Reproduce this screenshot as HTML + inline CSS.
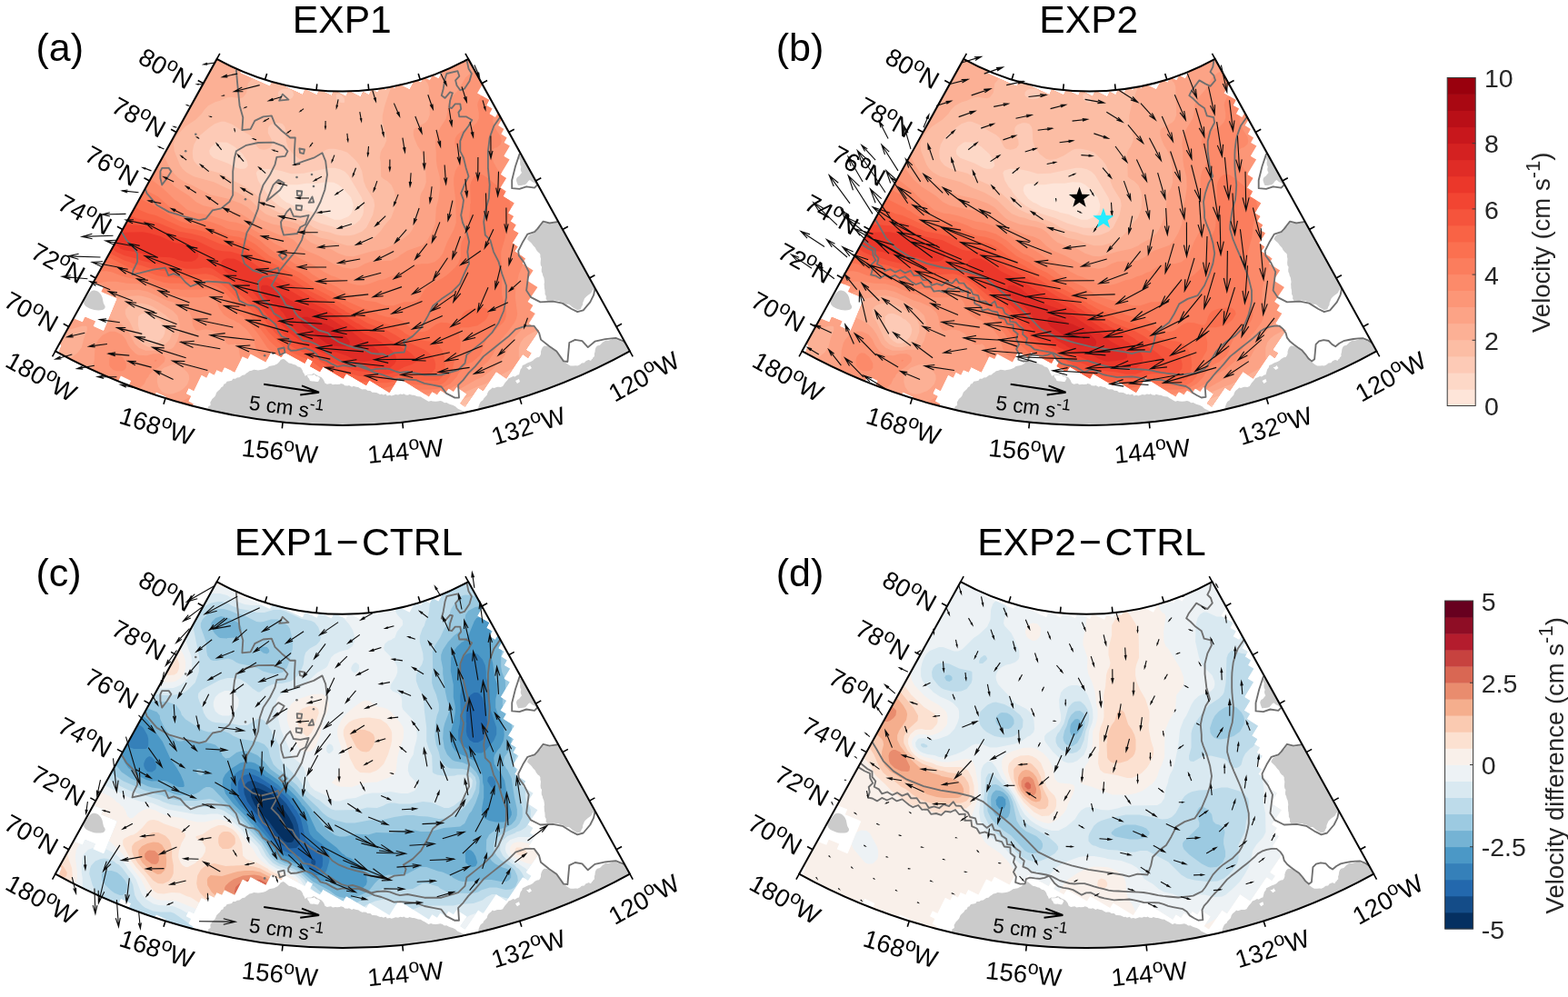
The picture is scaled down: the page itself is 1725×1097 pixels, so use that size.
<!DOCTYPE html>
<html lang="en"><head><meta charset="utf-8"><title>Velocity maps</title>
<style>html,body{margin:0;padding:0;background:#fff}svg{display:block}text{font-family:"Liberation Sans", Arial, Helvetica, sans-serif;fill:#000}</style></head><body>
<svg width="1725" height="1097" viewBox="0 0 1725 1097">
<rect width="1725" height="1097" fill="#fff"/>
<defs>
<clipPath id="fan"><path d="M238.55 64.91A286.0 286.0 0 0 0 515.25 64.91L692.92 386.38A653.3 653.3 0 0 1 60.88 386.38Z"/></clipPath>
<clipPath id="dmask"><path d="M62.1 377.4l5.8 2.2-4.5 11.5 29.7 15.3 36 15.7 3.8-8.5 11.2 5.3-2.5 5.7 16.3 7.3 .2 .5-.5 .7 11.5 3.8 2.3-5 .7-.5 10.8 5.2-2 4.3 29.5 8.5 2.5-5-5.5-3 2.7-5.5-5-2.5-.2-.8 2.7-5.5 5.5 2.8 8.5-17.3 5.5 2.8 3-5.8 5.5 2.8 2.8-5.5 5.7 2.5 2.8-5.5 11.2 5.5 8.5-16.8 .5-.2 5.5 2.7 3-5.5 16.8 8.8 6-11.3 11.2 6 2.8-5.2 .7-.3 21.8 12 .5 0 3-5.5 5.7 3.3-3 5.5 10.8 6.2 3.5-5.5 22.2 12.8 3.3-5.5 22 13 3-4.8 .7-.5 21.8 13.3 10.2-16.3 33.3 21 3.5-5.5 5.5 3.5 3.5-5.2 5.5 3.5 3.5-5.3 5.5 3.5 3.5-5.2 11.2 7.5-7 10.2 0 .5 5 3.3 14.5-21 5.3 3.5 .5-.3 14-20.7 11.2 7.5 17.5-25.8 1-.5 5.3 3.8 3.5-5.3-5-3.2-.5-1 14.2-20.8-11.5-7.7 7-10.8-5.5-3.7 3.3-5.5-5.8-3.8 10.8-16-11.8-7.7 7-10.8-12-7.7 3.5-5.3-12-8 3.5-5.2-6-4 6.8-10.8-6-3.7 3.2-5.5-6-3.8 3.3-5.5-6-3.7 6.7-10.8-12.2-7.7 3.2-5.5-6.2-3.8 6.5-10.7-5.5-3.5-.5-1 9.7-16-5.2-3-1-1 6.5-10.8-6.3-3.7 3-5.5-6.2-4 3-5.5-6.3-3.8 5.5-9.2-2-3.5-3-1.8-.7 .3-3 5-6.3-3.5-.2-.5 3-5.5-6.3-3.5 3-5.8-13-7.5 6.5-11.2 .3-1.3-16.3-28.7-14.5 7.7-11.7 5.3-7 12.2-6.5-3.5-3 5.5-6.5-3.5-3.3 5.8-6.5-3.5-6 11.2-13.2-6.7-3 5.5-6.5-3.3-3 5.5-6.3-3.2-3.2 5.5-6.5-3.3-3 5.8-6.5-3.3-2.8 5.5-13.2-6.5-2.5 5.5-.5 .3-12.5-6.3-.5 0-2.5 5.3-.5 .2-12.8-6.2-3 5.7-13-6.2-2.5 5.5-.5 .2-32.7-15.2-2.8 6-32.7-14.5-.3-1 2-4.3-9.2-4-18.8-9.7-139.2 247.5 0 .5 15 6-2.5 5.7 14.7 6 2.8 1.5-14.5 35-1 .3-11-4.8 2.5-5.7-10.8-4.5-.7 0-2.5 5.7-11.3-4.5-4.5 11.3-.7 .5-4-1.8-.8 .8-3.5 6.2z"/></clipPath>
<g id="land"><path d="M226 455l1.4-2.6 1.2-3.3 .8-2 2.2-1.2-.3-3.3 1-1.5 1.1-2 2.3-2.2 1.2-1.5 .8-2.1 .6-1.6 2-2 1.5-1.2 1.8-2.6 1.7-.6 1.1-2.7 1.6-.4 1.7-2.5 3.1-.4 2.2-.5 1.3-2.1 2.7 .1 1.8-1.3 2.5-.3 1.8-1.1 1.7-1.4 2.3-.1 2.1-2.1 1.4-.7 1.8-1.6 2.5-.5 2.3-1 2.2 .3 2.6 .4 2.2-.4 1.7-.2 2.5-.6 1.9-.7 2.1-1.1 1.7-1.3 3.8-.9 1.6-.1 2.2-1.2 1.8-.8 2.2-2.5 1-1.5 2.8-1.2 1.6 .6 2.3 2.1 2.4 2 2.8 .5 2.4 1 2.2 .4 2.5 2 1.7 .2 1.7 1 1.7 2.7 .8 2.5 1.1 1.3 .9 2.5 2.4-1.3 1.6 .2 3.3-.3 1.8-1.6 2.9 1.2 .9 1 3.7 1.7 1.5 .6 1.5 1.8 1 1.4 1.3 3.2 2.3 1.2 2.5-.6 1.8-.2 1.9 1.2 3.1-.4 1.5 .3 3.5-.4 .7-.7 3 .8 1.5 1.4 3.1 .3 1.6-.4 3.2 1.7 1.6-1 3.2 1 2.1 .3 1.8 1.2 2.5 1.3 2.2-.3 2.2 .3 1.4 1.1 3.2 .2 2.1 1.8 1.5 .1 3 .2 .8 .2 3.3 1.7 2-.4 1.4 1 3.2-.9 1 1.8 3.3-.6 1.6 .8 1.9-.5 2.7-1 2.8 .4 2.2-.9 2.6 .5 1.4-.8 2 1.2 2.9 .3 1.1-1 3.5 .9 1.8 .1 3.1 1.1 1.4 .4 2.9 .3 1.7 1.1 3 1.7 .8 .5 3.1 1.8 2.6-.8 1.9 .7 3.1 .2 2.8-.3 2.6-.4 2.3 .6 2.1 1.5 2.4-.1 2.7 1.4 3 1 1.1 .3 2.9 1.4 2.4 2.3 1.9 .9 1.9 .8 2.2 1.1 2.6 2.7 0 25-286 0zM525 456l.3-2.5 .7-2.6 .3-1.6 .2-2 1.1-3.1 1.2-2.1 2.8-2.1 .2-1.1 2.2-2.3 1.7-1.8 .6-2.4 1.4-2.4 2.8-2.3 1.2-1.3 1.9 .6 3.5-1.2 1.9 0 1.8 .1 2.3-.9 1-1.6 1.4-2.1 2.7-3 1.3-2.1 2.6-.9 2.5-1.4 1.8 .6 3.1-1.9 1.5-.3 .5-1.8 1.1-4.1 1.6-2 .6-2.4 2.7-1.1 1.9-1.2 2.3-1 1.7-.5 2.8-1.5 1.8-1.8 2.8-1.7 2.2-.2 1.4-2 .7-2.1-.1-1.9 .8-2.7 1.2-2.3 1.8-1.4 3.2 .2 2.3 1.1 2.1 1.7 2.6-.1 1.5 2.1 1.8 1 1.6 2 1.1 2.5 1.1 1.3 1.7 1.1 .8 1.9 1.4 2.6 1.2 .2 2.1 1.5 2.4 1.8 1.9 1 3.1 0 2.7-.2 1.9 .2 2.7-1.2 2-1.8 2.8-.3 1.4-1.8 1.9-.8 4.1-1.7 1.7 0 .3-1.7 .1-2.1 1.6-2.2 .6-1.7 .3-2.8 .9-2.3 1.4-1.5 2.9-.8 3.2-3.2 1.4-.9 1.7-1.3 2.9 .4 3.2-1 2.4-1.5 2.6 .2 1.8 1.8 2.9 .1 .9 1.6 2.4 .3 2.2 .7 1.5 1.2 2.4 1.6 1.4 2 2.4 1.4 2.8 1.7 1.9 1.1 0 94-175 0zM620 240l-2.6 1.2-1.8 1.5-2.7 1.5-3.2 1.3-2.9 .7-2.2 .3-2.6-.6-1.5-.5-2.9-.4-1.3 1.9-1.4 2.3-2.1 1.2-1.6 2.5-3.1 3.1-2.2 1-2.1 1-1.8 1-1.3 2-.7 2 1.7 1.9 1.9 1.7 1.4 1.4 1.6 2.3 2.2 2.2 1.2 2.5 1.8 2.3 1.6 1.1 1 1.6 0 2.5 .6 2.3-.2 2.3-.2 2.1 .3 2.9 1.2 1.7-.4 2.8 .1 2.5 1 2 .3 1.8 1.2 2.6 .4 2.4 .3 2.6-.4 1.9 .2 2.1 .1 2.8 .4 1.2 .3 3.2-.1 1.7 1.3 2.6-.2 2.8 1.4 2.2 3.1 .3 2-.4 2.9-.4 2.7 .5 2.2 0 1.6 1.2 2.5 0 1.9 1.7 2.1 .8 2.8 0 1.8 1.3 1.8 1.7 2 1.4 1.8 1 2.1 1.2 3.7-1.3 .5-1.9 1.5-2.6 .2-2.6 1.1-2.5 .7-1.9 1.9-1.9 1.7-1.6 2.5-1.8 1.5-1.2 .9-2.3 1.5-1.4 1.7-.2 3.2 .5 1.8-.6 2.3 0zM580 168l-1.7 1-2.5 1.2-2.7 1.2-1.6 .6-.3 2.4 1.2 2.4-.3 2.3 .2 2.5 1 2-.6 2.5 .3 1.9 1 2-1 1.3-2 2.4-1.9 1.2-1.1 2.1 .1 1.9 .8 2.5 1.1 2.6 3-.1 2.6-.4 2.4-.5 2-2.1 1.4-1.8 1.6-1.1 2.3 2.1 2.3 1 2.4 1.9 2-2 2.4-.5 3.4 .4 2.2-.9zM101 320l1.6-.4 1.6 0 1.7 .4 1.5 .6 1.3 .9 1.2 1.2 1.1 1.4 .9 1.6 .7 1.8 .4 2.1 .4 2 .4 1.8 .6 1.4 .7 1.1 .5 1 .1 1-.3 .9-.6 .9-1 .8-1.3 .5-1.8 .3-2.3 .1-2.4-.1-2.4-.3-2.4-.7-2.4-.9-2.3-1.1-1.8-1.1-1.2-1.2-.9-1.2-.4-1.3-.1-1.4 .5-1.5 .9-1.7 1.2-1.6 1.2-1.6 1.2-1.6 1.2-1.7 1.3-1.4z" fill="#cbcbcb"/><path d="M579 404l2.4-.2 1.6-1.8 2 3-3 2-3-3zM567 419l2.4-1.3 1.6-.7 1 3-3 2-2-3zM630 377l2.2 0 2.8-.4 2-.6 .4 1.8 1.1 2.6 .5 2.2 .4 2.8-.4 2.6-.1 1.6-1.2 2.8-.2 3.1-1 2.4-.5 2.1-1.7-.2-3.3 1.2 .3-1.9 .3-2.9 .6-2.2 .2-1.8-.4-2.2-1-2.1-.5-2.6 .5-2.5-.1-3.4-.9-2.4zM645 383l2.1-1 2.4-.1 3.5-.9-.5 1.7 .5 2.5 .9 2.3-.1 1.6 .2 2.9-2.3 2-1.7 3-2.6-1.3-3.4 .3 .4-2.3 0-3.6-.2-2.3 .2-2.6 .6-2.2zM338 413l3.4 .1 2.6-.4 2-.7 1.8 2 2.2 .2 2 1.8-.6 1.6-1.4 2.4-1.7 .1-3.1-.7-1.6 .1-2.6-.5-1-2.5-1.3-1.2-.7-2.3z" fill="#fff"/></g>
<g id="fldA"><rect x="0" y="0" width="760" height="500" fill="#fc9677"/>
<path d="M169.8 397.2l1.4 .6 1.6-1.6-2-.4zM123.8 389.2l-2.6 3-1 3 0 6.6 1 2 3 3 4 1.4 6 0 2.6-1 2-2.4 0-5-4-7-5-4-3.6-.6zM540.8 107.2l-1-1-1.6 0-1.4-2-1.6 0-.4-1-3 1-3.6 3-2.4 5-.6 3.6 1.6 8.4 0 6-2 4.6-5 5-12 4.4-5 4.6-2 3.4-.6 5 1 3.6 5.6 8.4 1 3.6-.6 4.4-6.4 11-1.6 7.6 0 8 2 16 .6 25-2.6 8-7 13-5 13-4 5.4-5 4-7.4 2-7 0-7 1-4 1.6-10 6.4-2.6 .6-5.4 3-5.6 1.4-6.4 3-6 1-10.6 4-6.4 1.6-6.6 0-8-2-16-7-5-1.6-8.4-4.4-9.6-6.6-17.4-8.4-10.6-7.6-17.4-9-2.6-2.4-7.4-5-20-11.6-11-3.4-7.6-1-20-6.6-9.4-2-6-.4-11-4-11.6-10-2-1-12.4-12-9.6-7.6-11-7 0 1.6-2 1.4 0 1.6-1 .4-1 3.6-2 1.4 0 1.6-1 .4 0 1.6-1 .4-1 3.6-2 1.4 0 1.6-1 .4-1 3.6-2 1.4 0 1.6-1 .4 0 1.6-1 .4-1 3.6-2 1.4 0 1.6-1 .4-1 3.6-2 1.4 0 1.6-1 .4 0 1.6-1 .4-1 3.6-2 1.4 0 1.6-1 .4-1 3.6-2 1.4 0 1.6-1 .4 0 1.6-1 .4-1 3.6-2 1.4 0 1.6-1 .4-1 3.6-2 1.4 0 1.6-1 .4 0 1.6-1 .4-1 3.6-2 1.4 0 1.6-1 .4-1 3.6-2 1.4 0 1.6-1 .4 0 1.6-1 .4-1 3.6-2 1.4 0 1.6-1 .4-1 3.6-2 1.4 0 1.6-1 .4 0 1.6-1 .4 0 1.6-1 .4 0 7.6 2.6 0 .4 1 1.6 0 .4 1 1 0 7.6-3.6 8.4-1.4 9.6 0 12.4 2 12.6 .4 11 3 7 3.6 4 1 6.4 3 11.6 2.4 13.4 2 13.6 0 9-1.4 6 2 4 5 2.4 6.4 5 7 6.6 4.6 4.4 1.4 3.6 2.6 2 .4 9 8 7 9.6 2.4 9.4 3 6 4.6 3.6 2 .4 2 2 1.4 .6 3 3 .6 0 0-1.6 1-.4 0-1.6 1.4-1.4 1.6 0 1.4 2 1.6 0 .4 1 7.6 0 1-1 0-1.6 1-.4 .4 1 1.6 0 .4 1 1.6 0 .4 1 3.6 1 1.4 2 1.6 0 .4 1 1.6 0 .4 1 1.6 0 .4 1 7.6 0 .4 4 1 1 1.6 0 1.4 2 1.6 0 .4 1 1.6 0 .4 1 1.6 0 .4 1 7.6 0 .4-2 2.6 0 .4 1 1.6 0 1.4 2 1.6 0 .4 1 3.6 1 1.4 2 1.6 0 .4 1 1.6 0 .4 1 7.6 0 1.4-2 1.6 0 .4 1 1.6 0 1.4 2 3.6 1 1.4 2 3.6 1 1.4 2 1.6 0 .4 1 6.6 0 1.4-2 2.6 0 1.4 2 3.6 1 1.4 2 3.6 1 1.4 2 1.6 0 .4 1 1.6 0 .4 1 6.6 0 1-1 0-1.6 1-.4 0-1.6 2-1.4 1-3.6 2-1.4 .4-2 2.6 0 1.4 2 1.6 0 1.4 2 3.6 1 1.4 2 1.6 0 1.4 2 3.6 1 1.4 2 8.6 0 19.4-3.6 7.6-2.4 8-4.6 14-11.4 10-5.6 10-8.4 5.4-7.6 4.6-9.4 5.4-8.6 2-1.4 .6-1.6 3-3 8.4-11.4 2-4.6 1-5-2.4-18 .4-9 3.6-16.4 4.4-11 .6-8-2-6.6-2-.4 1-1-1-6-2-2 0-2.6 1-.4 0-6 1-3 0-2.6-2-.4 1-1 0-6.6-1.6 0-1.4-1.4 0-7.6-3-1.4 0-1.6 1-.4 1-3.6 2-1.4 0-6.6-1.6 0-1.4-2-1.6 0-.4-1-1.6 0-1.4-2-2-.4 1-1 0-6.6-1.6 0-1.4-1.4 0-2.6 1-.4 0-1.6 2-1.4 0-5.6-7-3-5.6-5-4.4-8-.6-2.4-2.4-5 0-4.6 4.4-3.4 2.6-.6 4-3.4 1-3.6-1-5-5-7.4-3.6-8.6 0-7.4 2.6-6.6 0-4-1.6 0-.4-1-2-.4z" fill="#fc8a6a"/>
<path d="M561.8 226.2l-2-7.4-5-7.6-17-14.4-6-4-3-1-4 .4-4 3-2.6 5-1 4 .6 19.6-.6 .4 0 7.6-.4 .4-1 16-1 4.6-7 13.4-1 5.6 0 10.4-2.6 7.6-3.4 4.4-8.6 8-6.4 4.6-10 4.4-6 4.6-3.6 4.4-4 7-4 3.6-5 1.4-8.4 0-11.6 4-8.4 0-5.6-1.4-5.4-2.6-11.6-1.4-13-4-8-4-2-2-3.4-1.6-5-3.4-19-9-7.6-4.6-7-5.4-13-6.6-9.4-6.4-7-3.6-3.6-1-11.4-8.4-6.6-6-12.4-7.6-11.6-3.4-6-.6-7.4-2-5.6-3-12.4-4.4-18.6-2.6-9-2-6.4-4-2.6-2.4-8-5.6-12.4-11-12.6-6.4-8-6 0 1-1 .4 0 1.6-1 .4 0 1.6-1 .4 0 1.6-2 1.4 0 1.6-1 .4-1 3.6-2 1.4 0 1.6-1 .4 0 1.6-1 .4-1 3.6-2 1.4 0 1.6-1 .4-1 3.6-2 1.4 0 1.6-1 .4 0 1.6-1 .4-1 3.6-2 1.4 0 1.6-1 .4-1 3.6-2 1.4 0 1.6-1 .4 0 1.6-1 .4-1 3.6-2 1.4 0 1.6-1 .4-1 3.6-2 1.4 0 1.6-1 .4 0 1.6-1 .4-1 3.6-2 1.4 0 1.6-1 .4-1 3.6-2 1.4 0 1.6-1 .4 0 1.6-1 .4-1 3.6-2 1.4 0 1.6-1 .4 0 1.6-1 .4 0 1.6-1 1 17-.6 5.6 1 10 4 11 3 7 .6 7.4 1.4 17.6 7 13.4 3 8 0 .6 .6 34.4-.6 5.6 2 5.4 5 10.6 13.6 10.4 8 2.6 1 5 4.4 12 15 10 15 14 13.6 5 0 1-1 0-1.6 1-.4 .4 1 1.6 0 .4 1 1.6 0 .4 1 3.6 1 1.4 2 1.6 0 .4 1 1.6 0 .4 1 1.6 0 .4 1 7.6 0 .4 4 1 1 1.6 0 1.4 2 1.6 0 .4 1 1.6 0 .4 1 1.6 0 .4 1 7.6 0 .4-2 2.6 0 .4 1 1.6 0 1.4 2 1.6 0 .4 1 3.6 1 1.4 2 1.6 0 .4 1 1.6 0 .4 1 7.6 0 1.4-2 1.6 0 .4 1 1.6 0 1.4 2 3.6 1 1.4 2 3.6 1 1.4 2 1.6 0 .4 1 6.6 0 1.4-2 2.6 0 1.4 2 3.6 1 1.4 2 3.6 1 1.4 2 6.6-1 6.4-2 1.6-1 0-1.6 1-.4 0-1.6 2-1.4 .4-2 2.6 0 1.4 2 1.6 0 1.4 2 1.6 0 .4 1 1.6 0 1.4 1 9.6 1 12 0 8.4-1 6.6-1.6 7.4-4 7.6-8 1-2.4 6.4-8 5-3.6 4.6-2 8-7 3-5.4 1-5 4.4-9 18-17.6 1.6-3 1-3.4 0-6.6-4.6-17 0-30-1-8.4 0-8.6 4.6-16 1.4-13 3-13.4 1-2z" fill="#fb7d5d"/>
<path d="M106.2 287.2l1 1 7 .6 8.6 2 14 7.4 12.4 3.6 12.6 2.4 4 2 14 4.6 8 1 11.4 0 .6 .4 30 0 8 2.6 7.4 5 14.6 15.4 15.4 12 21 27.6 17 16 8 4.4 16.6 6.6 8 5.4 5 4.6 5 0 .4-2 2.6 0 .4 1 1.6 0 1.4 2 1.6 0 .4 1 3.6 1 1.4 2 1.6 0 .4 1 1.6 0 .4 1 7.6 0 1.4-2 1.6 0 .4 1 1.6 0 1.4 2 3.6 1 1.4 2 3.6 1 1.4 2 1.6 0 .4 1 6.6 0 1.4-2 2.6 0 1.4 2 11.6 0 15-3.6 1.4-1.4 3 .4 5.6-.4 8.4 1.4 12.6 .6 .4 .4 13.6-.4 4-1.6 3.4-2.4 4.6-5.6 3-8 2.4-10.4 6-10 .6-9-1.6-7 0-6.6 1-2 1.6-1 8 0 9.4-2 7.6-5 2.4-2.4 3-5.6-1-3.4-3.4-3-5-.6-10 1.6-6.6 2.4-3 3-2 4-1.4 5.6-2.6 3-2.4 0-8.6-2.6-7-.4-5.4 2-8.6 6.4-4 1.6-6 .4-5-1.4-7.4-5-2-2.6-4-3-4-2-4.6-1.4-8.4-1-9.6-2.6-2-1.4-6.4-2-2-1.6-7.6-2.4-18-8-2-2-2.4-1-10.6-7-5-2-2.4-2-12-6-15-10.6-10.6-5-9.4-6.4-14-7-16-13-8.6-5-9.4-3-10.6-1.6-11.4-4.4-5.6-3-9.4-3-17-2-11-3.6-14-8-4-3-3.6-1.4-2-2-18-9-8-6.6-1 1 0 1.6-1 .4 0 1.6-2 1.4 0 1.6-1 .4 0 1.6-1 .4-1 3.6-2 1.4 0 1.6-1 .4-1 3.6-2 1.4 0 1.6-1 .4 0 1.6-1 .4-1 3.6-2 1.4 0 1.6-1 .4-1 3.6-2 1.4 0 1.6-1 .4 0 1.6-1 .4-1 3.6-2 1.4 0 1.6-1 .4-1 3.6-2 1.4 0 1.6-1 .4 0 1.6-1 .4-1 3.6-2 1.4 0 1.6-1 .4-1 3.6-2 1.4 0 1.6-1 .4 0 1.6z" fill="#fb7050"/>
<path d="M110.2 280.2l4.6 2 7.4 2 18 9.6 16 4.4 6 1 11 4 11.6 2 6 0 15 2 24.4 0 4 1 8.6 4 7 5.6 10.4 10.4 12.6 10.6 2 1 4.4 4.4 16.6 21.6 16.4 16.4 7.6 5 23.4 10.6 17 13 8 4.4 11.6 2.6 2 0 .4-1 1.6 0 .4 1 1.6 0 .4 1 6.6 1 12.4 .4 7 1 13.6 0 19-4.4 5.4 0 15 2 16 0 1.6-.6 4-4 1-2.4 2-9.6-1-10-2.6-7.4-2-2-.4-1.6-5-4-4.6-1.4-9-1-11.4-3.6-9-5-2-2-8.6-5-26-8.4-11-6-4.4-1.6-9-4.4-5.6-3.6-2-.4-2-2-3.4-1.6-9-6-20-10.4-3.6-3-11-7-6.4-3-8.6-5.6-3.4-1.4-1.6-1.6-14.4-7.4-17-13-6.6-3.6-4-1.4-19.4-4.6-15.6-7-16-4-9.4-1-5-1.4-29-13-7-1.6-11-4.4-7.6-6.6-3-1-1 3.6-2 1.4 0 1.6-1 .4-1 3.6-2 1.4 0 1.6-1 .4 0 1.6-1 .4-1 3.6-2 1.4 0 1.6-1 .4-1 3.6-2 1.4 0 1.6-1 .4 0 1.6-1 .4-1 3.6-2 1.4 0 1.6-1 .4-1 3.6-2 1.4 0 1.6-1 .4 0 1.6-1 .4-1 3.6-2 1.4 0 1.6-1 .4 0 1.6z" fill="#f96345"/>
<path d="M114.2 273.2l0 1.6 6.6 4 16.4 8 5.6 1.4 5.4 2.6 6.6 1 7 2.4 15 3.6 16.4 1.4 16 3 17.6-1 7 1.6 5.4 2.4 11 7 27 23.6 9.6 10 9.4 13 6.6 7.4 9.4 9 11 7.6 19.6 9 3.4 2.4 4.6 2 2 2 5 2.6 1.4 1.4 9.6 5 12 3.6 2.4 0 11.6 3 29 3 7-1 10-3.6 5-1 25 0 4-1 4-4.4 .4-5-1-4.6-2.4-4-4.6-4.4-4.4-3-23-10.6-8.6-5.4-9.4-5-21-8-14-8-10.6-5-1.4-1.6-3.6-1.4-4-3-11-6-1.4-1.6-18.6-9.4-16.4-11-12-6-9-6-11.6-5.6-4-3-2.4-1-2.6-2.4-3-1.6-8.4-6.4-7.6-3.6-21.4-5-18.6-8-14-3.4-12-2-23-9.6-24-5-13-6-2 1 0 1.6-1 .4 0 1.6-1 .4-1 3.6-2 1.4 0 1.6-1 .4-1 3.6-2 1.4 0 1.6-1 .4 0 1.6-1 .4-1 3.6-2 1.4 0 1.6-1 .4-1 3.6-2 1.4 0 1.6-1 .4 0 1.6-1 .4 0 1.6z" fill="#f5543c"/>
<path d="M117.2 267.2l3.6 4.6 7.4 5.4 9 4 12 3 6.6 2.6 15.4 3.4 17.6 1.6 16.4 4 11.6 0 8-1.6 6.4 .6 3 1 23 16 18 15 16 16.4 13 17 8 8 8 6.6 7.6 4.4 18 9 2.4 2 16 8 6.6 2 5 2.6 3 .4 9 3.6 7 1.4 11 1 11.4 2.6 10 0 6.6-2 11-6 9-3 4.4-3 0-2-1-2-5-5-6.4-4.6-1 0-10.6-7-5-2.4-3-2.6-8-4.4-18.4-8-5-3.6-2-.4-11-7-4.6-2-3-2.6-1 0-5.4-4-3.6-1.4-2-2-19-9.6-24-15-4-1.4-16-9.6-13-6.4-19.4-13.6-4.6-2-9.4-2.4-8-.6-8-1.4-21.6-10.6-20-4-19.4-8-18-4-17-1-5.6-1-6 0 0 1.6-1 .4 0 1.6-2 1.4 0 1.6-1 .4 0 1.6-1 .4-1 3.6-2 1.4 0 1.6-1 .4-1 3.6z" fill="#f24532"/>
<path d="M243.8 287.8l-.6 2.4 1 3.6 3 4 4.6 4 9.4 5.4 11.6 8.6 6.4 6.4 9 11 11.6 11 10.4 13.6 9.6 9.4 9 6.6 5.4 2.4 1.6 1.6 4.4 2 4 3 3 1 4.6 3 38.4 15.4 8 1.6 12 .4 7 2 7 .6 5-2 5-4.6 1.6-3 0-4.4-1.6-3.6-4-4.4-11-8.6-3.4-1.4-1.6-1.6-13.4-6-42.6-27-22-10.4-34.4-20.6-21.6-10.4-17-11.6-5.4-2.4-8-.6-4 1.6zM126.2 261.2l0 4.6 2 4 4.6 4 4 1.4 13 2 16.4 5 21 1 4.6 1 4.4 2 7 1.6 7.6 0 4-1.6 3.4-3.4 0-3.6-1.4-3-3.6-3.4-5.4-3-6-1.6-9.6-1-15-7-12-3.4-8-1.6-22.4 .6-5.6 2z" fill="#eb372a"/>
<path d="M287.2 315.2l-.4 3.6 1 3.4 2 3 4 4 5 3 9 7.6 1.4 2.4 2 1.6 9 14 8 8.4 6 4 4.6 2 2 2 10 5.6 1.4 1.4 11.6 5 7 1.6 11.4 4 6 3.4 5.6 2 3 .6 8-.6 9.4-1.4 4-2 .6-1.6-1-3.4-2.6-3.6-4.4-4-10-5.4-14-11-2.6-1-5.4-4-2-.6-17.6-11.4-13.4-7-17-6-8.6-4-12-7.6-6.4-5.4-8-4-5 0z" fill="#e02c26"/>
<path d="M331.2 350.8l-.4 2 .4 2.4 3 4 12.6 8.6 2 2.4 11 8 5.4 2 8 1 8 0 3-1.4 .6-3.6-1.6-3-5.4-5.4-6-4-3.6-1.6-1.4-1.4-8-4-6.6-2-2-1.6-6.4-2-5-2.4-5.6 0z" fill="#d42121"/>
<path d="M475.8 437.2l-5 1.6-2.6 0 7.6 0zM591.8 342.2l-1-1-2 .6-2 4.4-4 6-18 20.6-10 19-3.6 5-10.4 10.4-10 7.6-6 2.4-24 13.6-9.6 3-14.4 3 .4 1 6.6 0 1.4-3 1 1 6.6 0 1.4-2 7.6 0 1.4-2 1.6 0 1.4 2 1.6 0 .4 1-2 1.4 0 1.6-2 1.4 0 8.6 1.6 0 1.4 2 8.6 0 0-1.6 2-1.4 0-1.6 2-1.4 0-1.6 2-1.4 0-1.6 2-1.4 0-1.6 2-1.4 0-1.6 1.4-1.4 1 1 6.6 0 1-1 0-1.6 2-1.4 0-1.6 2-1.4 0-1.6 2-1.4 0-1.6 2-1.4 0-1.6 2-1.4 .4-2 3.6 1 1.4 2 1.6 0 .4 1 7.6 0 0-1.6 3-2.4 0-1.6 2-1.4 0-1.6 2-1.4 0-1.6 2-1.4 0-1.6 2-1.4 0-1.6 2-1.4 0-1.6 2.4-2.4 1 1 6.6 0 2-2 0-1.6 1-.4 0-7.6-2-1.4 0-1.6 2-1.4 0-1.6 3-2.4 0-1.6 2-1.4 0-1.6 2-1.4 0-1.6 2-1.4 0-7.6-1-1-1.6 0-1.4-2-1.6 0-2.4-2.4 0-1.6 2-1.4 0-1.6 2-1.4zM59.2 373.2l0 7.6 3 .4 0 3.6-1 .4 0 1.6-1 .4 0 6.6 1 1 1.6 0 .4 1 3.6 1 1.4 2 1.6 0 .4 1 1.6 0 .4 1 1.6 0 .4 1 1.6 0 .4 1 1.6 0 .4 1 1.6 0 .4 1 1.6 0 .4 1 1.6 0 .4 1 1.6 0 .4 1 1.6 0 .4 1 1.6 0 .4 1 1.6 0 .4 1 2.6 0 .4 1 1.6 0 .4 1 1.6 0 .4 1 1.6 0 .4 1 1.6 0-.6-10 1.6-8.6 .4-10.4 2-8 2-4 4.6-5 8-4 6 0 7.4 3.4 4 5 2.6 6 3 4.6 5 5 3.4 2 9 .4 7.6-2 7 0 3.4 1.6 2.6 3-1 4.4-6 5.6-6 4-4.6 4.4-1 2.6-2 2-2.4 5.4-5.6 5.6-6 4 1.6 0 .4 1 1.6 0 .4 1 2.6 0 2.4 3 1.6 0 .4 1 2.6 0 .4 1 2.6 0 .4 1 7.6 0 1-1 0-1.6 2-.4 .4 1 1.6 0 1.4 1.4 0 4.6 1.6 0 .4 1 2.6 0 .4 1 2.6 0 .4 1 3.6 0 .4 1 4-.6 2-2.4 4.6-3.6 12-6.4 .4-2 2.6 0 7.4-15 7.6 0 0-1.6 1.4-1.4 6.6 0 1.4-3 7.6 0 .4-2 2.6 0 .4 1 1.6 0 .4 1 8.6 0 0-1.6 1-.4 0-1.6 1-.4 0-1.6 1-.4 0-1.6 1-.4 0-1.6 1-.4 .4-2-3.4-8.6-1-7-1.6-4-2.4-2-2.6 1-1-.4-3.4 .4-2-1-10-11-6-3.4-7.6-1.6-7.4 1.6-3.6-.6-3-5-1.4-9.4-2-4.6-6.6-6.4-11-5-7-2-22-10-9.4-2-28.6 1-7 1.4-8 3.6 1.6 0 .4 1 2.6 0 .4 1 1.6 0 .4 1 2.6 0 .4 1 1.6 0 .4 1 2 .4 0 3.6-1 .4 0 1.6-1 .4 0 1.6-1 .4 0 2.6-1 .4 0 1.6-1 .4 0 2.6-1 .4 0 1.6-1 .4 0 1.6-1 .4 0 2.6-1 .4 0 1.6-1 .4 0 2.6-1.4 1.4-1-1-1.6 0-1.4-1.4 0-6.6-1.6 0-.4-1-1.6 0-.4-1-2.6 0-.4-1-1.6 0-.4-1-8.6 0 0 1.6-1.4 1.4-1.6 0-.4-1-2.6 0-.4-1-7.6 0 0 1.6-1 .4 0 2.6-1 .4 0 2.6-1 .4 0 1.6-.4 .4-5.6 0-1 1-1 3.6-2 1.4 0 2.6-1 .4 0 1.6-1 .4 0 2.6-1 .4 0 1.6zM170.2 173.2l-.4 2.6 2.4 7 11.6 15 9 8 15 9.4 8 7 8 4 20.4 4.6 10.6 1.4 11 3.6 7.4 4.4 7 5.6 11 6 15.6 6.4 8.4 2 7.6 3.6 6.4 6.4 7.6 5.6 13.4 5.4 17.6 9.6 9.4 3.4 9.6 1.6 7.4-1.6 7-4 7-2.4 22-1 8-4 2-2 8-5 17-6 4-4 5.6-9.6 4-10 1-17.4 2.4-9 2-13.6-.4-11.4-3-11.6-1-8 0-8-1-9 1-8 4.4-9.4 6.6-10.6 1.4-6.4 .6-8.6 3-6.4 9-10.6 7-12.4 6-5.6 10-4.4 0-1.6-1-.4-1-3.6-2-1.4 0-1.6-1-.4-1-3.6-2-1.4-1-3.6-6.6 0-.4 1-1.6 0-1.4 2-1.6 0-.4 1-1.6 0-.4 1-1.6 0-.4 1-1.6 0-.4 1-1.6 0-.4 1-1.6 0-.4 1-1.6 0-.4 1-1.6 0-.4 1-2.6 0-.4 1-3.6 1-1 1 0 1.6-1 .4 0 1.6-1 .4 0 1.6-1 .4 0 1.6-1.4 1.4-1-1-6.6 0-1.4 3-1.6 0-.4-1-6.6 0-1.4 3-1.6 0-.4-1-6.6 0 0 1.6-1 .4 0 1.6-1 .4 0 1.6-1 .4 0 1.6-1.4 1.4-1-1-1.6 0-.4-1-1.6 0-.4-1-1.6 0-.4-1-7.6 0-1.4 3-1-1-6.6 0-1.4 3-1.6 0-.4-1-6.6 0 0 1.6-1.4 1.4-8.6 0-.4 2-8.6 0 0 1.6-1.4 1.4-1.6 0-.4-1-1.6 0-.4-1-1.6 0-.4-1-1.6 0-.4-1-6.6 0 0 1.6-1.4 1.4-1.6 0-.4-1-1.6 0-.4-1-1.6 0-.4-1-1.6 0-.4-1-6.6 0 0 1.6-1 .4-.4 2-1-1-1.6 0-.4-1-1.6 0-.4-1-1.6 0-.4-1-7.6 0 0 1.6-1.4 1.4-1.6 0-.4-1-1.6 0-.4-1-1.6 0-.4-1-1.6 0-.4-1-6.6 0 0 1.6-1 .4 0 1.6-1 .4-.4-1-1.6 0-.4-1-1.6 0-.4-1-1.6 0-.4-1-1.6 0-.4-1-1.6 0-.4-1-2.6 0-.4-1-1.6 0-.4-1-1.6 0-.4-1-1.6 0-.4-1-1.6 0-.4-1-1.6 0-.4-1-2.6 0-.4-1-6.6 0-1.4 3-2.6 0-.4-1-1.6 0-.4-1-1.6 0-.4-1-2.6 0-.4-1-1.6 0-.4-1-1.6 0-.4-1-1.6 0-.4-1-2.6 0-.4-1-1.6 0-.4-1-1.6 0-.4-1-4-1.4 0-5.6-1-1-1.6 0-.4-1-2.6 0-.4-1-1.6 0-.4-1-1.6 0-.4-1-1.6 0-.4-1-1.6 0-.4-1-1.6 0-.4-1-1.6 0-.4-1-1.6 0-.4-1-1.6 0-.4-1-3.6-1-1.4-2-6.6 0-1 1 0 1.6-1 .4 0 1.6-1 .4 0 1.6-1 .4 0 1.6-2 1.4 0 1.6-1 .4-1 3.6-2 1.4 0 1.6-1 .4 0 1.6-1 .4-1 3.6-2 1.4 0 1.6-1 .4-1 3.6-2 1.4 0 1.6-1 .4 0 1.6-1 .4-1 3.6-2 1.4 0 1.6-1 .4-1 3.6-2 1.4 0 1.6-1 .4 0 1.6-1 .4-1 3.6-2 1.4 0 1.6-1 .4-1 3.6-2 1.4 0 1.6-1 .4 0 1.6-1 .4-1 3.6-2 1.4 0 1.6-1 .4-1 3.6-2 1.4 0 1.6-1 .4 0 1.6-1 .4-1 3.6-2 1.4 0 1.6-1 .4-1 3.6-2 1.4 0 1.6-1 .4 0 1.6-1 .4-1 3.6-2 1.4 0 1.6-1 .4-1 3.6-2 1.4 0 1.6z" fill="#fca386"/>
<path d="M545.8 415.8l-12.6 7-7.4 2.4-19.6 8.6 1.6 0 .4 1-2 1.4 0 1.6-2 1.4 0 8.6 1.6 0 1.4 2 8.6 0 0-1.6 2-1.4 0-1.6 2-1.4 0-1.6 2-1.4 0-1.6 2-1.4 0-1.6 2-1.4 0-1.6 1.4-1.4 1 1 6.6 0 1-1 0-1.6 2-1.4 0-1.6 2-1.4 0-1.6 2-1.4 0-1.6 2-1.4 0-1.6 2-1.4zM571.8 401.8l-.6 1-5 1.4-19 10.6 1 1 1.6 0 1.4 2 1.6 0 .4 1 7.6 0 0-1.6 3-2.4 0-1.6 2-1.4 0-1.6 2-1.4 0-1.6 2-1.4 0-1.6 2-1.4zM199.8 403.8l-5.6-2.6-5 0-9 3.6-4.4 4-2.6 5-.4 6 1.4 6 4 5.4 4.6 2 3.4 .6 4-.6 8-3 4-3 4-4.4 2-5.6-.4-4.4-1.6-3zM595.8 363.8l-6.6 .4-8.4 4.6-4.6 3.4-3.4 4.6-2 6 0 9.4 1.4 8.6 1.6-1 0-1.6 2.4-2.4 1 1 6.6 0 2-2 0-1.6 1-.4 0-7.6-2-1.4 0-1.6 2-1.4 0-1.6 3-2.4 0-1.6 2-1.4 0-1.6 2-1.4 0-1.6 2-1.4zM95.8 359.8l-1-1-4.6 0-12.4 3.4-3 0-9.6-2 0 1.6-2 1.4 0 2.6-1 .4 0 1.6-1 .4 0 2.6-1 .4 0 1.6-1 .4 0 7.6 3 .4 0 3.6-1 .4 0 1.6-1 .4 0 6.6 0-2 2-1.6 3 0 2 1 1.6 1.6 0 3.4-2 .6 1.4 2 1.6 0 .4 1 1.6 0 .4 1 1.6 0 1-4 11-9 4-5.6 2.4-9.4 3.6-9.6zM123.2 331.2l0 2.6-1 .4 0 1.6-1 .4 0 1.6-1 .4 0 2.6-1 .4 0 1.6-1 .4 0 2.6-1 .4 0 1.6 2.6 2 5.4 2 8.6 5 5 5 4 6 5.4 10.4 4.6 4.6 7.4 3 10.6 0 6-1 9 0 3-1 2.4-2 4-7 2.6-9.6 0-9-2.6-9-5.4-5.4-16-9.6-8.6-4-9-2.4-4-.6-8.4 .6-14 3zM234.2 59.2l0 1.6-1 .4 0 1.6-1 .4-1 3.6-2 1.4 0 1.6-1 .4-1 3.6-2 1.4 0 1.6-1 .4 0 1.6-1 .4-1 3.6-2 1.4 0 1.6-1 .4-1 3.6-2 1.4 0 1.6-1 .4 0 1.6-1 .4-1 3.6-2 1.4 0 1.6-1 .4-1 3.6-2 1.4 0 1.6-1 .4 0 1.6-1 .4-1 3.6-2 1.4 0 1.6-1 .4-1 3.6-2 1.4 0 1.6-1 .4 0 1.6-1 .4-1 3.6-2 1.4 0 1.6-1 .4-1 3.6-2 1.4 0 1.6-1 .4 0 1.6-1 .4-1 3.6-2 1.4 0 1.6-1 .4-1 3.6-2 1.4 0 1.6-1 .4 0 1.6-1 .4 0 1.6-1 .4 2.6 9.6 6 12 5 7.4 5.4 5.6 8.6 5.4 6.4 2.6 20 10.4 20 4.6 13.6 5 8 4.4 11 11 4.4 3 12 4.6 17.6 3 7 2 5.4 4 6.6 7 5 4 10 4 10 2 10.4 6 8.6 3 8 .4 19.4-5.4 14.6-3 8-3.6 2.4-2 9.6-5 8-6.4 3-4.6 6-13.4 1.4-8 1-14.6 1-3.4 3.6-6 2-6.6-.6-15.4-2-11.6-4-8.4-3-4.6-3.4-8-1-4 0-4.4 1-2 12.4-7 2.6-3 2-5.6-1-31-1.6-4-5-5.4-2-3.6-1.4 3-1.6 0-.4-1-6.6 0 0 1.6-1 .4 0 1.6-1 .4 0 1.6-1 .4 0 1.6-1.4 1.4-1-1-1.6 0-.4-1-1.6 0-.4-1-1.6 0-.4-1-7.6 0-1.4 3-1-1-6.6 0-1.4 3-1.6 0-.4-1-6.6 0 0 1.6-1.4 1.4-8.6 0-.4 2-8.6 0 0 1.6-1.4 1.4-1.6 0-.4-1-1.6 0-.4-1-1.6 0-.4-1-1.6 0-.4-1-6.6 0 0 1.6-1.4 1.4-1.6 0-.4-1-1.6 0-.4-1-1.6 0-.4-1-1.6 0-.4-1-6.6 0 0 1.6-1 .4-.4 2-1-1-1.6 0-.4-1-1.6 0-.4-1-1.6 0-.4-1-7.6 0 0 1.6-1.4 1.4-1.6 0-.4-1-1.6 0-.4-1-1.6 0-.4-1-1.6 0-.4-1-6.6 0 0 1.6-1 .4 0 1.6-1 .4-.4-1-1.6 0-.4-1-1.6 0-.4-1-1.6 0-.4-1-1.6 0-.4-1-1.6 0-.4-1-2.6 0-.4-1-1.6 0-.4-1-1.6 0-.4-1-1.6 0-.4-1-1.6 0-.4-1-1.6 0-.4-1-2.6 0-.4-1-6.6 0-1.4 3-2.6 0-.4-1-1.6 0-.4-1-1.6 0-.4-1-2.6 0-.4-1-1.6 0-.4-1-1.6 0-.4-1-1.6 0-.4-1-2.6 0-.4-1-1.6 0-.4-1-1.6 0-.4-1-4-1.4 0-5.6-1-1-1.6 0-.4-1-2.6 0-.4-1-1.6 0-.4-1-1.6 0-.4-1-1.6 0-.4-1-1.6 0-.4-1-1.6 0-.4-1-1.6 0-.4-1-1.6 0-.4-1-1.6 0-.4-1-3.6-1-1.4-2-6.6 0z" fill="#fcb095"/>
<path d="M525.8 433.8l-9 2.4-7.6 3-5 1 0 7.6 1.6 0 1.4 2 8.6 0 0-1.6 2-1.4 0-1.6 2-1.4 0-1.6 2-1.4 0-1.6 2-1.4 0-1.6 2-1.4zM535.8 431.2l-7.6 1.6 6.6 0zM137.8 340.8l0 4.4 1.4 3.6 3.6 5.4 9.4 20 4.6 4.6 6.4 3 7 .4 4.6-1 7.4-3 4.6-4.4 3-8.6 0-7.4-2.6-6-5-5-14.4-9.6-5-2-6.6-1.4-6 0-4.4 1-4.6 2zM192.8 152.2l-2 6 1 8 6 15 3 4.6 4.4 4 8 4.4 22 6 13.6 6.6 12.4 5 14 8 10.6 10.4 6 5 8.4 3.6 5.6 1 6.4 2.4 6 1 8 2.6 8.6 5 9.4 7.4 8.6 3.6 12.4 2.4 6.6 3 10.4 3 8.6 0 12-3.4 8-4.6 8-8 4-6 7.4-8.4 4-10.6 .6-13.4-1-5-3-7-4.6-4.6-4.4-2.4-2.6-2.6-.4-16-1-4.4 1-6.6 2-4 1.4-1.4 3-7 0-4.6-4.4-16 0-7 2.4-11 5-15 2-4 1-6-6 0-1.4 3-1.6 0-.4-1-6.6 0 0 1.6-1.4 1.4-8.6 0-.4 2-8.6 0 0 1.6-1.4 1.4-1.6 0-.4-1-1.6 0-.4-1-1.6 0-.4-1-1.6 0-.4-1-6.6 0 0 1.6-1.4 1.4-1.6 0-.4-1-1.6 0-.4-1-1.6 0-.4-1-1.6 0-.4-1-6.6 0 0 1.6-1 .4-.4 2-1-1-1.6 0-.4-1-1.6 0-.4-1-1.6 0-.4-1-7.6 0 0 1.6-1.4 1.4-1.6 0-.4-1-1.6 0-.4-1-1.6 0-.4-1-1.6 0-.4-1-6.6 0 0 1.6-1 .4 0 1.6-1 .4-.4-1-1.6 0-.4-1-1.6 0-.4-1-1.6 0-.4-1-1.6 0-.4-1-1.6 0-.4-1-2.6 0-.4-1-1.6 0-.4-1-1.6 0-.4-1-1.6 0-.4-1-1.6 0-.4-1-1.6 0-.4-1-2.6 0-.4-1-6.6 0-1.4 3-2.6 0-.4-1-1.6 0-.4-1-1.6 0-.4-1-2.6 0-.4-1-1.6 0-.4-1-1.6 0-.4-1-1 0-8 8.6-1.6 10.4-4 5-3.4 1-9.6-1.4-4.4 .4-7.6 3.6-5.4 1.4-7.6 4-4.4 4.6-3 4.4-6.6 6.6-11.4 7.4-7.6 8z" fill="#fcbda4"/>
<path d="M519.8 443.8l-14.6 3-1 1 1.6 0 1.4 2 8.6 0 0-1.6 2-1.4 0-1.6zM155.8 345.2l-3.6 3-.4 9 1.4 6 3.6 7.6 4.4 4.4 4.6 2.6 5 0 4-2 4.4-4.6 2-4.4 .6-4.6-2-5.4-5-5-2.6-1-3-2.6-7-3-2.4-.4zM213.2 159.2l-1.4 7.6 .4 7.4 1.6 3.6 4 4.4 6.4 3.6 18.6 5 12.4 7.4 11 5 12.6 8.6 8 7 7.4 8 5 3.4 8.6 4 26 9.6 8.4 4.4 2.6 2 8.4 3.6 9.6 2 7 2.4 6 1 8.4 0 5.6-1 8.4-3.4 5-4.6 7-14 2-10-1-6.4-8.4-13.6-2.6-6.4-2-11.6-3.4-7.4-3.6-4.6-9-8.4-7-2.6-7.4-1.4-5.6 0-3.4 1-10 6.4-8 3.6-5 1-3 0-3.6-1-7-5.6-5.4-7.4-2-6.6-.6-12.4-1-3.6-2.4-3-3.6-1-4 0-5.4 2-2 2-1 2 0 5 4 7.6 .4 5.4-2.4 3.6-3.6 1.4-3.4 .6-4.6-1-2.4-2.6-4.6-9.4-4-3.6-8.4-4.4-9.6-6.6-9-3.4-4 0-7 2.4-6.4 4.6-9.6 8-3.4 4zM370.8 103.2l-1 1 .4 5 4 3.6 4 .4 1-1-.4-4-3.6-4-2-1zM306.2 101.2l-.4 3.6 2.4 2.4 4 1.6 3 .4 4.6-.4 2-1.6 1.4-3-1-3.4-2-2-2.4-1-6 0-3.6 1.4z" fill="#fdcab6"/>
<path d="M398.8 237.2l1-3.4 .4-6.6-1-6-1.4-4-14.6-24.4-4-4-5-2.6-6-1.4-6 0-28.4 6-13.6 .4-10-3-10-2-11-.4-6 2-1.4 2.4 2 8 4.4 7.6 2.6 2.4 1.4 3 7.6 9.6 7.4 6 15.6 8 16 5 14 6 18 5 8 0 11-3.6 6-5zM230.2 165.8l.6 4 4 4 16 6 9.4 5 4 1 4 0 2-.6 2.6-3-1-5-5-8-9-8-8-4.4-9.6-.6-2.4 1-5.6 4.6z" fill="#fdd8c7"/>
<path d="M388.2 230.8l.6-5.6-2.6-8-9-10-5-4-5-2.4-9-.6-8.4 1.6-12.6 0-10 1.4-10 0-3.4-1-4.6 0-2.4 1-2 2-.6 4.6 1.6 4 4 5 5.4 4 3 1 6.6 4 18 5 1.4 1 9.6 2 14 6 7 0 8.4-3.6 3-3z" fill="#fee5d9"/></g>
<g id="ctA" fill="none" stroke="#6f6f6f" stroke-width="1.85" stroke-linejoin="round" stroke-linecap="round"><path d="M612.9 244.2l-8.3 1.3-7-1.9-6.4 8.3-3.1 3.2-7.7 2.5-5.1 8.3-5.1 10.2 .6 5.1 5.8 7.7 5.1 10.2-2.6 20.5 5.1 7.6 10.2 5.1 14.1-.6 10.2 1.9 10.2 6.4 6.4 3.2 6.4-1.9 7.6-9 3.8-7.6 1.3-6.4M571.5 169.6l-4.5 13.4-3.8 15.3 0 8.9 8.3 .7 7.6-2.6 8.9 1.3 3.2-3.2M259.9 77.3l1.3 14.8 2.4 24.1 3.7 13-.9 13.9 9.2-.9 4.7-9.3 9.3-4.6 9.2-.9 3.7 9.2 7.5 7.4 9.2 7.5 5.6 0-.9 14.8 0 14.9 10.2-3.8 11.1-3.7 9.3-5.5 3.7 9.2 1.8 14.9-2.7 16.7-4.7 13-5.6 11.1-6.5 9.9-4.8 8.1-3.7 13-7.4 13-9.3 11.1-7.4 9.3-9.3 16.7 7.4 7.4 5.6 8.4 2.8 5.6 7.4 2.8 2.8 5.5 3.7 4.7 7.5 4.6 7.4 5.6 7.5 4.7 10.2 2.8 4.6 5.5 7.5 4.7 9.3 3.7 9.3 2.8 9.3 1.9 7.4 3.7 6.5 .9 6.5 0 4.9 2.6 7.4-3.7 11.1-.9 1.9-6.5-2.8-4.6 10.2-6.5 9.3-9.3 7.4-13 5.6-11.1 9.2-7.4 11.2-7.5 9.2-9.2 5.6-13 4.6-9.3-1.8-13 1.8-11.1-2.7-11.2-4.4-9.8-1.8-8.2 1.8-9.3 1-7.4-2.8-7.4 3.7-9.3 4.6-9.3-2.8-9.2-2.7-11.2-3.7-7.4 0-11.1 3.7-9.3 5.5-7.4 3.7-6.5-6.5-3.7-7.4 0-.9-4.7 2.8-3.7-.9-5.5-5.6 0-3.7 4.6-2.8-.9 .9-7.4 2.8-8.4-2.8-.9-5.5 6.5-3.8-2.8 1.9-7.4 1.9-11.2 1.8-5.5 12.1-2.8 1.8 5.6-4.2 4.6 1.4 5.6 3.8 5.2 4.6-1.5 5.6-8.4 2.4-8.3-3.4-5.6-1.8-8.3M159.7 207.1l1.8 5.6 11.2 13 13 7.4 18.5 5.6 14.9 3.7 7.4-1.9 7.4-9.2 9.3-1.9 9.2-7.4 3.8-7.4 0-11.2 0-14.8 1.8-14.9 1.9-7.4 11.1-6.5 13-2.8 16.7-.3 11.1 4.1 4.7 5.5-2.8 5.6-9.3 .9-1.9 8.4-5.5 11.1-7.4 11.1-3.8 11.2-1.8 14.8-5.6 14.8-6.9 11.8-2.6 11.8-2.8 13 2.8 9.3 9.3 7.4 9.3 2.8 11.1-2.8 7.4-2.8 1 4.7-2.8 2.8-14.9 2.7-5.5 5.6 .9 11.1 4.6 8.4 6.5 4.6 2.8 4.7 2.8 5.6 6.5 3.7 4.6 4.6 4.7 5.6 5.6 4.7 5.5 5.5 4.7 5.6 7.4 1 6.5 2.7 5.6 3.8 5.6 4.6 5.6 3.7 5.6 3.8 6.5 3.7 6.5 1.8 5.5-.9 6.6 1.9 6.5 2.7 7.4 3.8 6.5-1.4 8.4-.5 5.6 .9 7.4 2.8 3.8 1 8.4-1.2 18.6 3.7 18.5 0 18.6-5.5 7.4-7.4 1.9-9.3 9.2-7.4 9.3-7.5 9.3-9.2 7.4-11.2 5.6-13 2.8-14.8 0-13-4.7-13-3.7-13-5.6-11.1-3.7-13-5.5-5.5-1.6-14.4 1.9-12.9 3.7-13 .9-14.9-1.8-18.5 0-18.6 1.8-14.8 4.7-13 6.5-9.3M133.5 254.8l5.6 9.3 7.4 7.4 4.6 7.5 0 9.2-4.6 9.3-1 4.7 8.4-1.9 14.8-3.7 13-1.9 3.7 8.4 5.6-1.9 7.4 2.8 5.6 6.5 5.6 4.6 7.4-2.7 11.1-2.8 14.9 .9 9.2 .9 7.4 8.4 3.8 11.1 9.2 4.6 7.4 1 4.6 2.8 4.7 7.4 7.4 4.7 6.5 5.6 2.8 7.4 3.8 5.6 7.4 2.8 3.2 2.8-3.2 4.6 0 3.3 2.8 2.3 6.5-.5 9.3-2.3 7.4 2.8 4.7 3.7 4.6 5.6 6.5 1.8 6.5 3.8 5.6 2.7 6.5-1.3 9.3 .9 6.5-.5 7.5 2.8 5.5 1.9 5.6 2.8 7.5 1.8 7.4 2.8 6.5 2.8 6.6-.4 17.7 1.1 9.3 3.7 9.3 1.9 9.2 1.8 5.6 7.4 9.3 4.7 4.6 0-.9-13.9 5.5-5.6 5.6-7.4 7.4-7.4 9.3-11.2 9.3-7.4 9.3-7.4 9.2-7.4 7.5-7.5 11.1-3.7 9.3 0 5.5 7.5 1.9 7.4 9.3 7.4 8 5.5 7.7 10.9 4.4 .6 1.9-21 6.4-3.2 7.7 1.3 6.4 7 7.6-6.4 11.5-2.5 11.5-1.3 8.9 3.8 5.7 5.3M178.2 184.9l7.5 0 2.7 3.7-4.6 7.4-5.6 7.4-1.8-7.4 0-7.4zM307.2 110.7l3.7-7.1 6.5 6.1zM329.4 163.5l5.6 1-1 4.6-4-1.1zM326.7 210l5.5 .5-.7 5-4.5-.5zM339.6 222.9l3.9-6.5 1.7 6.1zM325.7 226l6.5 .5-.7 4.8-5.5-.8zM293.3 221l7.4-17.6 5.6-5.5 6.4 3.7-4.6 7.4-11.1 9.3zM309 244.2l6.5-11.1 3.7-3.7 3.7 8.4 7.5 .9 9.2-1.9-3.6 10.2-5.6 3-3.4 7-15 1.6-2.5-8.6zM307 281l4.5-3.9 3.8 4.4-4.3 4zM306 384l6.5-1.5 1 5.5-5.5 2.3z"/><g fill="#6f6f6f" stroke="none"><circle cx="215.3" cy="147.8" r="1.3"/><circle cx="204.2" cy="166.3" r="1.3"/><circle cx="270" cy="219.2" r="1.3"/><circle cx="326.5" cy="195" r="1.3"/><circle cx="291.2" cy="391.2" r="1.3"/><circle cx="300.5" cy="388.8" r="1.3"/><circle cx="345" cy="205" r="1.3"/><circle cx="343" cy="192" r="1.3"/></g></g><g id="ctB" fill="none" stroke="#6f6f6f" stroke-width="1.85" stroke-linejoin="round" stroke-linecap="round"><path d="M612.9 244.2l-8.3 1.3-7-1.9-6.4 8.3-3.1 3.2-7.7 2.5-5.1 8.3-5.1 10.2 .6 5.1 5.8 7.7 5.1 10.2-2.6 20.5 5.1 7.6 10.2 5.1 14.1-.6 10.2 1.9 10.2 6.4 6.4 3.2 6.4-1.9 7.6-9 3.8-7.6 1.3-6.4M571.5 169.6l-4.5 13.4-3.8 15.3 0 8.9 8.3 .7 7.6-2.6 8.9 1.3 3.2-3.2M140.4 239.8l5.6 9.3 7.4 13 11.1 11.1 14.9 9.3 18.5 7.4 18.6 4.6 18.5 2.8 14.9 3.7 13 5.6 9.2 7.4 11.2 9.3 11.1 9.3 9.3 9.2 9.3 9.3 10.6 11.1 18.6 9.3 18.5 5.6 18.6 4.6 18.5 2.8 18.6 2.8 7.4 1.9 9.3-2.8 11.1 .9 3.7-10.2 1.9-9.3 7.4-7.4 7.4-5.6 5.6-9.3 5.6-11.1 9.2-5.5 11.2-3.8 7.4-11.1 5.5-13 3.8-11.1 1.8-11.1-1.8-11.2-3.8-13-3.7-9.2-1.8-5.6-.1-6.7-1-11.1 1.9-9.3 3.7-11.1 4.6-7.5-3.7-12.9-1.8-14.9 0-11.1 2.8-11.2 4.6-9.2-.9-5.6-7.4-1.8-2.8-8.4-6.5-4.6-5.6-5.6-4.6-3.7 2.8-5.6 8.3-11.1 6.5 3.7 5.6 2.8 5.5-6.5-1.8-5.6-3.7-3.7 2.8-5.5 .9-6M127.4 263.9l4.3 3.4 4.3 3.5 5.2 2.9 0 5.9 3.8 4.7-1.6 6.2 5.1 2.7 3.5 5 6-2 5.2 3.4 5.7-2.6 5.3 3.4 6-2.5 3.8 5.3 6.3-.2 3.5 5.1 6.2 .3 3.5 5.4 5.7-1.7 5.7 1.9 4.8-4 6.1 1.8 4.7-4.8 2.9 4.3 5.5 .4 3 4.4 4.6 2.8 2.4 4.9 5.8 1.4 1.7 6.2 6.2 .2 4.7 4.1 5.6-4.2 2.5 6.4 6.2 1.2 2.3 5.5 4.9 3.2 1 6.1 6.1 .7 3.5 3.9 4.8 3.2-.6 6.2 4.9 4.1-1.4 6.4 5.2 2.3 4 3.6 5.4 1.1 5.5 .9 5.4 1 5.3 1.3 4.9 2.6 4.9 2.6 5.3 1.5 5.3 1.5 5.4 .5 5.5-.4 5.5 0 5.2 1.6 5.3 1.7 5.3 1.5 5.4 1.3 5.3 1.4 5.5 .7 5.5 .2 5.5 .3 5.5 .3 5.5 .3 5.5 .3 5.5 .3 5.4 .9 5.5 1.1 5.4 1.1 5.4 .8 5.5 .6 5.5 .5 5.5 .5 5.5-.6 5.5-.6 5.4-.6 5-2.5 4.9-2.5 3.3-4.2 2.9-4.7 2.9-4.7 2.8-4.7 3.7-4.1 3.9-3.9 4.2-3.5 4.6-3.1 4.6-3 3.9-3.9 3.9-3.9 2.8-4.7 2.1-5.1 2.1-5.1 1.4-5.3 1.3-5.4 .9-5.4 0-5.5 0-5.5-1.3-5.4-1.3-5.3-1.5-5.4-1.9-5.1-1.9-5.2-2-5.1-2.2-5.1-2.2-5.1-2.2-5-2.1-5.1-2.1-5.1-1.5-5.3-1.5-5.3 .1-5.5 .7-5.4 .8-5.5 .9-5.4 1.5-5.3 1.6-5.4 .6-5.4 .4-5.5 .3-5.5-.5-5.5-.6-5.5-.5-5.5-.2-5.5 0-5.5 0-5.5 .2-5.5 .6-5.5 .7-5.5 1.4-5.3 1.8-5.2 2-5.2 3.1-4.5 3.2-4.5M123.7 267.6l4.7 2.8 4.7 2.9 5.5 2.3 .4 5.5 2.9 5.3-4.5 4.4 1 5.6-1.8 6 4.9 .9 5.1 2.9 5.3-3.5 5.6 2.6 5.6-2.5 5.2 3.4 5.9-2 4.2 3.5 3.5 2.9 4.2 2.4 5.8-2.2 4.1 4.8 6.2-.2 3.7 5.2 5.7-.8 5.6 1.9 4.5-4.3 5.8 .9 5.2-2.5 4.1 5 6.7-.4-.4 7.3 7-.2 .7 6.5 5.5 2.3 3 5.3 6-1.4 4.8 2.3 5.7 1 1.9 6 6.1 1.4 2.8 5.4 6.5 .8 .3 6.4 4.8 4-1.6 6 3 5.3-3 5.5 3 5.2-.8 6.2 5.2 1.8 5.3-.3 1.3-5.3 4.1-1.4 5.5 .7 5.5 .5 5.2-1.1 5.1-2.1 2.8 4 3.2 4.4 4.3 3.3 5.2 1.5 5.4 .8 5.2 1.4 4.8 2.8 4.8 2.8 4.9-2.3 4.9-.3 4.9 2.4 4.9 2.5 5.3 1.3 5.4 1 5.4 1 5.5-.3 5.5-.2 5.5-.3 5.4 .8 5.4 1.3 5.3 1.4 5.5 .2 5.5 0 5.5 .1 5.2 1.6 5.1 2 5.4 1.2 5.4 1.1 5.4 1 4.3 2.8 3.3 4.4 4.7 2.8 4.9 2.5 4.8-.6-.4-5.5-.4-5.4 2.2-4.6 3.7-4 3.4-4.4 3.6-4.2 3.8-3.8 3.7-4.1 3.5-4.3 3.6-4.2 4.2-3.5 4.3-3.4 4.3-3.4 4.3-3.5 4.3-3.4 4.3-3.5 4.1-3.6 3.9-3.9 4.6-2.7 5.2-1.8 5.4-1 5.5 0 3.9 3.2 3.1 4.5 1.4 5.3 3.3 4.1 4.3 3.4 4.4 3.3 4.5 3.1 3.6 4.2 3.2 4.4 3.8 3.4 3-2.3 .5-5.5 .5-5.5 .5-5.4 3.5-3.5 5.1-1.3 5.4 .9 3.8 3.9 3.8 2.4 4.2-3.5 4.7-2.6 5.4-1.2 5.4-1 5.5-.6 5.4-.1 5 2.1 4.7 2.9 4 3.7M121 247l3 9-3.5 6 6.5-4-1.5-8 3.5-4"/></g>
<g id="frame"><path d="M238.55 64.91A286.0 286.0 0 0 0 515.25 64.91L692.92 386.38A653.3 653.3 0 0 1 60.88 386.38Z" fill="none" stroke="#000" stroke-width="2" stroke-linejoin="miter"/>
<path d="M75.71 359.55l-5.95 -3.29M678.09 359.55l5.95 -3.29M105.33 305.97l-5.95 -3.29M648.47 305.97l5.95 -3.29M134.89 252.47l-5.95 -3.29M618.91 252.47l5.95 -3.29M164.45 198.99l-5.95 -3.29M589.35 198.99l5.95 -3.29M194.03 145.47l-5.95 -3.29M559.77 145.47l5.95 -3.29M223.69 91.82l-5.95 -3.29M530.11 91.82l5.95 -3.29M238.55 64.91l3.29 -5.95M60.88 386.38l-3.29 5.95M291.58 87.58l2.03 -6.49M182.00 438.15l-2.03 6.49M348.07 99.14l0.69 -6.77M311.04 464.57l-0.69 6.77M405.73 99.14l-0.69 -6.77M442.76 464.57l0.69 6.77M462.22 87.58l-2.03 -6.49M571.80 438.15l2.03 6.49M515.25 64.91l-3.29 -5.95M692.92 386.38l3.29 5.95" fill="none" stroke="#000" stroke-width="1.6"/></g>
</defs>
<g transform="translate(0.0 0.0)">
<g clip-path="url(#fan)">
<g clip-path="url(#dmask)"><use href="#fldA"/></g>
<use href="#land"/>
<use href="#ctA"/>
</g>
<path d="M236.5 69L223.9 70.9M227.9 69.2L223.9 70.9L228.2 71.3M222.5 92.7L216.8 92.7M218.7 92.3L216.8 92.7L218.7 93.2M208.5 116.5L205.9 115.7M206.8 115.8L205.9 115.7L206.7 116.2M194.5 140.3L191.4 139.4M192.5 139.4L191.4 139.4L192.4 139.9M180.5 164.1L174.6 161.4M176.7 161.8L174.6 161.4L176.3 162.8M166.5 187.9L157 184.4M160.4 184.7L157 184.4L159.8 186.3M152.5 211.7L134.4 209.9M140.5 209L134.4 209.9L140.2 212M138.5 235.4L112.2 236M120.8 233.7L112.2 236L120.9 238M124.5 259.2L90.2 260.4M101.4 257.2L90.2 260.4L101.6 262.8M110.5 283L74.7 281.9M86.6 279.3L74.7 281.9L86.4 285.3M96.4 306.8L68.2 304.2M77.8 302.7L68.2 304.2L77.3 307.4M261.2 81.1L244.7 84.7M249.9 82.1L244.7 84.7L250.4 84.9M247.2 104.9L245.5 105.2M246 105L245.5 105.2L246.1 105.2M233.2 128.6L231.3 128.2M232 128.2L231.3 128.2L231.9 128.5M219.2 152.4L216.9 151.1M217.8 151.3L216.9 151.1L217.6 151.7M205.2 176.1L199.3 171.6M201.6 172.6L199.3 171.6L200.9 173.6M191.2 199.9L180.2 194.8M184.3 195.6L180.2 194.8L183.4 197.4M177.2 223.7L163.4 220.9M168.2 220.6L163.4 220.9L167.7 222.9M163.2 247.4L138.3 242M147 241.7L138.3 242L146.1 245.8M149.2 271.2L116 265M127.5 264.3L116 265L126.5 269.8M135.2 295L101.3 288.5M113.1 287.8L101.3 288.5L112 293.4M121.2 318.7L98.8 309.6M106.9 310.8L98.8 309.6L105.4 314.5M93.3 366.3L73.9 370.8M79.9 367.7L73.9 370.8L80.7 370.9M79.3 390L61 395.2M66.6 392L61 395.2L67.4 395M285.7 93.6L257.6 100.7M266.3 96L257.6 100.7L267.4 100.7M271.7 117.4L269.3 118.5M270 117.9L269.3 118.5L270.2 118.3M257.7 141.1L258.3 143.7M257.9 142.9L258.3 143.7L258.3 142.8M243.7 164.8L238.4 158.1M240.7 159.9L238.4 158.1L239.6 160.8M229.7 188.6L220.6 181.3M224.2 183L220.6 181.3L223 184.5M215.8 212.3L204.7 205.1M208.9 206.6L204.7 205.1L207.7 208.4M201.8 236L188.5 229.5M193.4 230.6L188.5 229.5L192.3 232.8M187.8 259.8L159.5 245M170.1 247.6L159.5 245L167.6 252.2M173.8 283.5L141.8 267.9M153.7 270.4L141.8 267.9L151.1 275.7M159.8 307.2L129.7 294.4M140.7 296.2L129.7 294.4L138.6 301.2M145.9 331L119.4 320.7M129 321.9L119.4 320.7L127.3 326.3M131.9 354.7L109.4 351.6M117.1 350.7L109.4 351.6L116.6 354.5M117.9 378.5L97.9 381.1M104.3 378.6L97.9 381.1L104.7 381.9M103.9 402.2L84.7 405.6M90.7 402.9L84.7 405.6L91.3 406.1M310 106.5L295.7 110.8M300.1 108.2L295.7 110.8L300.8 110.5M296 130.2L290.6 133.3M292.1 131.8L290.6 133.3L292.6 132.7M282 153.9L278.6 152.7M279.8 152.8L278.6 152.7L279.6 153.4M268.1 177.6L261.6 170.2M264.3 172.1L261.6 170.2L263.1 173.2M254.1 201.3L243.2 193.9M247.4 195.4L243.2 193.9L246.2 197.2M240.1 225L227.3 216M232.2 217.9L227.3 216L230.8 220M226.2 248.8L203.8 240.5M211.9 241.4L203.8 240.5L210.5 245.1M212.2 272.5L182.6 257.1M193.7 259.7L182.6 257.1L191.1 264.6M198.2 296.2L159.2 281.6M173.3 283.2L159.2 281.6L170.9 289.7M184.2 319.9L150.7 306.8M162.8 308.4L150.7 306.8L160.7 313.9M170.3 343.6L138.7 332M150.1 333.2L138.7 332L148.2 338.4M156.3 367.4L128.6 360.6M138.3 360.5L128.6 360.6L137.2 365.1M142.3 391.1L119.4 389.1M127.1 387.9L119.4 389.1L126.8 391.6M128.4 414.8L107.3 414.6M114.2 413L107.3 414.6L114.2 416.4M334.1 119.6L330.4 122.4M331.4 121.2L330.4 122.4L331.9 121.8M320.2 143.3L316.4 146M317.4 144.8L316.4 146L317.9 145.4M306.2 167L300.5 165.2M302.6 165.4L300.5 165.2L302.3 166.3M292.2 190.7L284.9 184.2M287.9 185.7L284.9 184.2L286.8 186.9M278.3 214.4L265.5 207M270.3 208.4L265.5 207L269.1 210.5M264.3 238.1L245.7 228.9M252.6 230.4L245.7 228.9L251.1 233.5M250.4 261.8L227.3 251.8M235.7 253.2L227.3 251.8L234.1 257M236.4 285.5L206 270.7M217.3 273.1L206 270.7L214.8 278.1M222.4 309.3L187.4 295.3M200.1 297L187.4 295.3L197.8 302.8M208.5 333L174.3 319.9M186.7 321.4L174.3 319.9L184.5 327M194.5 356.7L160.2 343.2M172.6 344.8L160.2 343.2L170.4 350.5M180.5 380.4L148.8 370.4M160.1 371.1L148.8 370.4L158.5 376.3M166.6 404.1L140.9 397.4M149.9 397.5L140.9 397.4L148.8 401.7M152.6 427.8L132.6 423.2M139.6 423L132.6 423.2L138.8 426.3M372.1 109.4L370.2 118.6M370.1 115.4L370.2 118.6L371.6 115.7M358.1 133.1L358 141.2M357.3 138.5L358 141.2L358.7 138.5M344.1 156.8L341.4 160.5M342 159.1L341.4 160.5L342.6 159.5M330.2 180.5L323.3 181.5M325.5 180.6L323.3 181.5L325.7 181.7M316.2 204.2L305.5 201.3M309.3 201.3L305.5 201.3L308.8 203.1M302.3 227.9L286.1 223M291.8 223.3L286.1 223L291 225.9M288.3 251.6L269.8 243.3M276.6 244.5L269.8 243.3L275.2 247.6M274.3 275.3L247.5 265.2M257.2 266.3L247.5 265.2L255.5 270.7M260.4 299L228.5 285.8M240.1 287.5L228.5 285.8L237.9 292.8M246.4 322.7L214.1 309.4M225.9 311.1L214.1 309.4L223.7 316.5M232.5 346.4L194.5 335.4M207.9 335.9L194.5 335.4L206.1 342.1M218.5 370.1L179.7 358.4M193.5 359.1L179.7 358.4L191.5 365.5M204.6 393.8L167.7 382.1M180.8 382.9L167.7 382.1L178.9 389M190.6 417.5L169.8 407.5M177.5 409.1L169.8 407.5L175.9 412.5M409.8 99.5L413.5 111.6M411.3 107.9L413.5 111.6L413.3 107.3M395.8 123.2L397.6 133.3M396.2 130.1L397.6 133.3L397.8 129.9M381.9 146.9L382.8 155.2M381.8 152.6L382.8 155.2L383.2 152.4M367.9 170.6L365.1 177.9M365.4 175.3L365.1 177.9L366.6 175.7M354 194.3L345.7 198.8M348 196.7L345.7 198.8L348.8 198M340 218L326.3 217.8M330.9 216.8L326.3 217.8L330.8 219M326.1 241.7L307 237.9M313.6 237.6L307 237.9L313 240.7M312.1 265.4L287.6 259.8M296.2 259.6L287.6 259.8L295.3 263.7M298.1 289.1L266.6 281.4M277.7 281.3L266.6 281.4L276.4 286.5M284.2 312.8L247.2 303.2M260.2 303.3L247.2 303.2L258.6 309.4M270.2 336.4L231.5 326.7M245.1 326.7L231.5 326.7L243.5 333.1M256.3 360.1L214 351.2M228.7 350.7L214 351.2L227.2 357.7M242.3 383.8L198.8 376.3M213.8 375.2L198.8 376.3L212.5 382.4M228.4 407.5L189.8 397.2M203.4 397.5L189.8 397.2L201.7 403.8M433.4 113.6L439.6 128M436.4 123.8L439.6 128L438.8 122.8M419.4 137.3L422.1 149.3M420.3 145.5L422.1 149.3L422.2 145.1M405.5 161L404.6 171.1M404.1 167.7L404.6 171.1L405.8 167.8M391.5 184.7L388.2 193.5M388.6 190.4L388.2 193.5L390 190.9M377.6 208.4L369.3 213.9M371.6 211.4L369.3 213.9L372.5 212.8M363.6 232.1L349.9 234M354.3 232.2L349.9 234L354.6 234.5M349.7 255.8L328.7 255.6M335.6 253.9L328.7 255.6L335.6 257.4M335.7 279.5L305.8 277.3M315.9 275.6L305.8 277.3L315.5 280.5M321.7 303.2L282.2 296.4M295.8 295.4L282.2 296.4L294.7 301.9M307.8 326.9L256.9 314.1M274.8 314.1L256.9 314.1L272.7 322.5M293.8 350.6L246.6 336.4M263.3 337.2L246.6 336.4L261 345M279.9 374.3L231.2 368.8M247.7 366.6L231.2 368.8L246.8 374.6M484.7 80.6L491.2 93.8M488 90L491.2 93.8L490.2 88.9M470.8 104.3L476.4 120.2M473.2 115.4L476.4 120.2L475.9 114.5M456.8 128L464.1 146.5M460.2 141L464.1 146.5L463.2 139.8M442.9 151.7L445.5 167.3M443.4 162.4L445.5 167.3L445.9 161.9M428.9 175.4L428.8 187.4M427.8 183.4L428.8 187.4L429.8 183.4M414.9 199.1L411.1 210.1M411.5 206.2L411.1 210.1L413.3 206.8M401 222.8L391.7 230.2M394.2 227L391.7 230.2L395.4 228.5M387 246.5L371.8 251.3M376.4 248.5L371.8 251.3L377.2 251M373 270.3L350.1 272M357.5 269.6L350.1 272L357.8 273.3M359.1 294L327.6 293.8M338 291.3L327.6 293.8L338 296.5M345.1 317.7L305.4 315.7M318.6 313L305.4 315.7L318.3 319.6M331.2 341.4L279 331.6M297 330.5L279 331.6L295.4 339.1M317.2 365.1L270.9 352.1M287.2 352.6L270.9 352.1L285.1 360.2M303.2 388.8L260.7 381M275.3 380L260.7 381L274.1 387M521.9 71.6L527.4 84.1M524.6 80.4L527.4 84.1L526.6 79.5M508 95.3L513.4 112M510.2 107L513.4 112L513 106.1M494 119L497 138.3M494.4 132.2L497 138.3L497.6 131.7M480 142.8L484.6 161.3M481.6 155.6L484.6 161.3L484.6 154.8M466.1 166.5L466.9 185.6M465.1 179.4L466.9 185.6L468.2 179.2M452.1 190.2L451.1 204.9M450.2 199.9L451.1 204.9L452.7 200.1M438.1 213.9L433.3 225.9M433.9 221.6L433.3 225.9L435.9 222.3M424.2 237.6L412.9 248.5M415.8 244L412.9 248.5L417.6 245.9M410.2 261.3L391.6 269.4M397.1 265.2L391.6 269.4L398.4 268.3M396.2 285L371.9 289.4M379.6 285.9L371.9 289.4L380.3 290M382.3 308.8L348 309.6M359.3 306.5L348 309.6L359.4 312.1M368.3 332.5L325.7 331.4M339.9 328.3L325.7 331.4L339.7 335.3M354.3 356.2L307.1 353.4M322.9 350.4L307.1 353.4L322.4 358.2M340.3 379.9L306.4 373.3M318.1 372.7L306.4 373.3L317 378.3M531 110.3L534 120.7M532.2 117.5L534 120.7L533.9 117.1M517.1 134.1L520.6 150.8M518.1 145.6L520.6 150.8L520.8 145M503.1 157.8L505.8 179.9M503.1 172.8L505.8 179.9L506.7 172.4M489.1 181.5L490.6 202.4M488.4 195.7L490.6 202.4L491.8 195.4M475.1 205.2L473 222.7M472.3 216.7L473 222.7L475.2 217.1M461.1 229L455.2 246.2M455.7 240L455.2 246.2L458.6 241M447.2 252.7L434.6 267M437.6 261.3L434.6 267L439.9 263.3M433.2 276.4L412.2 287M418.3 281.8L412.2 287L420 285.3M419.2 300.2L390.9 307.8M399.6 303L390.9 307.8L400.9 307.6M405.2 323.9L367.7 327.9M379.7 323.5L367.7 327.9L380.4 329.7M391.2 347.6L344.9 348.1M360.1 344.1L344.9 348.1L360.2 351.7M377.3 371.4L328.1 367.7M344.6 364.8L328.1 367.7L344 372.9M363.3 395.1L336.2 389.5M345.6 389.1L336.2 389.5L344.7 393.6M539.9 149.4L540 174.1M537.9 166L540 174.1L542 165.9M525.9 173.1L525.7 197.9M523.7 189.7L525.7 197.9L527.8 189.7M511.9 196.9L513.7 216.1M511.6 209.9L513.7 216.1L514.7 209.6M497.9 220.6L492.9 242.6M492.7 234.9L492.9 242.6L496.4 235.7M483.9 244.4L475.3 266.5M476.3 258.5L475.3 266.5L480 259.9M469.9 268.1L456.7 285.2M459.6 278.5L456.7 285.2L462.5 280.7M455.9 291.9L433.3 306.7M439.5 299.9L433.3 306.7L442 303.7M442 315.6L410.3 326.8M419.8 320.5L410.3 326.8L421.7 325.7M428 339.4L387.9 346.4M400.5 340.8L387.9 346.4L401.7 347.4M414 363.1L365.8 364.1M381.6 359.8L365.8 364.1L381.7 367.7M400 386.9L348.4 382.8M365.7 379.9L348.4 382.8L365.1 388.4M386 410.6L357.9 404.2M367.7 404L357.9 404.2L366.7 408.6M548.5 188.7L547.6 215.7M545.7 206.7L547.6 215.7L550.1 206.8M534.5 212.5L535.3 241.8M532.7 232.2L535.3 241.8L537.5 232.1M520.5 236.3L512.4 255.3M513.5 248.4L512.4 255.3L516.7 249.7M506.5 260L497.6 284.6M498.5 275.8L497.6 284.6L502.6 277.3M492.5 283.8L476.9 307.1M480.1 298.1L476.9 307.1L484 300.7M478.5 307.6L453.6 323.6M460.5 316.3L453.6 323.6L463.2 320.4M464.5 331.4L431.1 345M441 337.7L431.1 345L443.2 343.2M450.5 355.1L408.6 363.7M421.7 357.4L408.6 363.7L423.1 364.3M436.5 378.9L390.1 380.8M405.2 376.4L390.1 380.8L405.5 384M422.4 402.7L377.1 398M392.4 395.8L377.1 398L391.6 403.3M556.9 228.5L557.1 255.1M554.8 246.3L557.1 255.1L559.2 246.3M542.9 252.2L533.3 272.9M534.8 265.3L533.3 272.9L538.2 266.9M528.9 276L506.8 291.4M512.8 284.5L506.8 291.4L515.4 288.2M514.9 299.8L498.8 332.2M501.4 320.2L498.8 332.2L506.8 322.9M500.8 323.6L474.4 342.1M481.6 333.8L474.4 342.1L484.7 338.2M486.8 347.5L453.6 362.1M463.3 354.5L453.6 362.1L465.7 360M472.8 371.3L432.9 379.3M445.4 373.3L432.9 379.3L446.7 379.9M458.7 395.1L411.6 395.8M427.1 391.7L411.6 395.8L427.2 399.4M444.7 418.9L401.5 413.3M416.2 411.6L401.5 413.3L415.3 418.7M565.1 268.5L560 291.3M559.8 283.4L560 291.3L563.6 284.2M551 292.3L544.8 317.5M544.8 308.7L544.8 317.5L548.9 309.7M537 316.2L525.5 342.9M527.1 333.1L525.5 342.9L531.5 335M522.9 340L496 359.4M503.3 350.8L496 359.4L506.5 355.2M508.9 363.9L474.6 378.7M484.7 371L474.6 378.7L487.2 376.6M494.8 387.7L454.5 396.6M467.1 390.3L454.5 396.6L468.6 397M480.7 411.5L441 412.5M454 408.9L441 412.5L454.2 415.5M573 308.9L560.3 320.1M563.5 315.4L560.3 320.1L565.4 317.4M558.9 332.8L537.8 342.4M544 337.5L537.8 342.4L545.5 340.9M544.8 356.7L510.1 374.6M520.1 365.8L510.1 374.6L523.1 371.5M530.7 380.6L489.7 397.3M501.8 388.4L489.7 397.3L504.6 395.2M516.6 404.4L482.3 409.4M493.2 404.9L482.3 409.4L494.1 410.6M580.5 349.8L576.7 360.4M577.1 356.6L576.7 360.4L578.8 357.2M566.4 373.7L548.2 390.8M552.8 383.7L548.2 390.8L555.6 386.7M552.3 397.6L521.5 411.4M530.6 404.3L521.5 411.4L532.8 409.4" fill="none" stroke="#0d0d0d" stroke-width="1.12" stroke-linejoin="miter" stroke-miterlimit="10"/>
<use href="#frame"/>
<g><text transform="translate(61.82 357.81) rotate(28.93)" text-anchor="end" font-size="27.5" dy="9.9">70<tspan dy="-10.2" font-size="21.4">o</tspan><tspan dy="10.2">N</tspan></text>
<text transform="translate(91.43 304.23) rotate(28.93)" text-anchor="end" font-size="27.5" dy="9.9">72<tspan dy="-10.2" font-size="21.4">o</tspan><tspan dy="10.2">N</tspan></text>
<text transform="translate(121.00 250.73) rotate(28.93)" text-anchor="end" font-size="27.5" dy="9.9">74<tspan dy="-10.2" font-size="21.4">o</tspan><tspan dy="10.2">N</tspan></text>
<text transform="translate(150.56 197.25) rotate(28.93)" text-anchor="end" font-size="27.5" dy="9.9">76<tspan dy="-10.2" font-size="21.4">o</tspan><tspan dy="10.2">N</tspan></text>
<text transform="translate(180.14 143.73) rotate(28.93)" text-anchor="end" font-size="27.5" dy="9.9">78<tspan dy="-10.2" font-size="21.4">o</tspan><tspan dy="10.2">N</tspan></text>
<text transform="translate(209.79 90.08) rotate(28.93)" text-anchor="end" font-size="27.5" dy="9.9">80<tspan dy="-10.2" font-size="21.4">o</tspan><tspan dy="10.2">N</tspan></text>
<text transform="translate(45.60 414.04) rotate(28.93)" text-anchor="middle" font-size="27.5" dy="9.9">180<tspan dy="-10.2" font-size="21.4">o</tspan><tspan dy="10.2">W</tspan></text>
<text transform="translate(172.57 468.31) rotate(17.36)" text-anchor="middle" font-size="27.5" dy="9.9">168<tspan dy="-10.2" font-size="21.4">o</tspan><tspan dy="10.2">W</tspan></text>
<text transform="translate(307.86 496.01) rotate(5.79)" text-anchor="middle" font-size="27.5" dy="9.9">156<tspan dy="-10.2" font-size="21.4">o</tspan><tspan dy="10.2">W</tspan></text>
<text transform="translate(445.94 496.01) rotate(-5.79)" text-anchor="middle" font-size="27.5" dy="9.9">144<tspan dy="-10.2" font-size="21.4">o</tspan><tspan dy="10.2">W</tspan></text>
<text transform="translate(581.23 468.31) rotate(-17.36)" text-anchor="middle" font-size="27.5" dy="9.9">132<tspan dy="-10.2" font-size="21.4">o</tspan><tspan dy="10.2">W</tspan></text>
<text transform="translate(708.20 414.04) rotate(-28.93)" text-anchor="middle" font-size="27.5" dy="9.9">120<tspan dy="-10.2" font-size="21.4">o</tspan><tspan dy="10.2">W</tspan></text></g>
<g><path d="M290.2 422.8L351 431.8M332 424.4L351 431.8L330.2 434.6" fill="none" stroke="#000" stroke-width="2" stroke-linejoin="miter"/>
<text transform="translate(273.3 450.4) rotate(7.6)" font-size="22.5">5 cm s<tspan dy="-9.5" font-size="17.5">-1</tspan></text></g>
<text x="376.3" y="35.7" text-anchor="middle" font-size="42.6">EXP1</text>
<text x="39.5" y="66.8" font-size="43">(a)</text>
</g>
<g transform="translate(821.5 0.0)">
<g clip-path="url(#fan)">
<g clip-path="url(#dmask)"><use href="#fldA"/></g>
<use href="#land"/>
<use href="#ctB"/>
</g>
<path d="M155.6 152.4L145.7 133.3M150.6 138.8L145.7 133.3L147.4 140.4M141.6 176.2L126.4 159.7M132.8 163.9L126.4 159.7L130 166.4M127.6 200L111.6 172.5M119.1 180.2L111.6 172.5L114.6 182.9M113.5 223.8L90.7 192.8M100.8 201.2L90.7 192.8L95.7 205M99.5 247.7L73.4 222.8M84.1 228.9L73.4 222.8L80 233.2M85.5 271.5L59.5 254.5M69.5 257.9L59.5 254.5L66.6 262.2M71.5 295.3L49 280.1M57.7 283.3L49 280.1L55.2 287M236.5 69L257.9 62.4M251.4 66.4L257.9 62.4L250.3 62.8M222.5 92.7L243.4 87.4M236.9 90.9L243.4 87.4L236.1 87.5M208.5 116.5L224.9 111.1M219.9 114.2L224.9 111.1L219 111.5M194.5 140.3L200.4 126.1M199.6 131.2L200.4 126.1L197.3 130.3M180.5 164.1L173 138.4M177.6 146.2L173 138.4L173.3 147.5M166.5 187.9L148.4 159.2M156.7 167.2L148.4 159.2L152 170.2M152.5 211.7L121.8 165.8M135.7 178.4L121.8 165.8L128.2 183.5M138.5 235.4L111.7 193.2M124 204.9L111.7 193.2L117 209.3M124.5 259.2L103.7 230.1M112.9 238L103.7 230.1L108.1 241.4M110.5 283L87.9 263.6M97 268.2L87.9 263.6L93.8 271.9M96.4 306.8L76.3 291.5M84.2 294.9L76.3 291.5L81.7 298.2M261.2 81.1L281.8 73.9M275.6 78L281.8 73.9L274.4 74.6M247.2 104.9L268.2 97.7M261.9 101.8L268.2 97.7L260.7 98.4M233.2 128.6L251.2 122.2M245.8 125.8L251.2 122.2L244.7 122.9M219.2 152.4L228.6 143.6M226.2 147.3L228.6 143.6L224.8 145.7M205.2 176.1L199.3 158.8M202.6 164L199.3 158.8L199.8 165M191.2 199.9L174.9 175M182.3 181.9L174.9 175L178.2 184.6M177.2 223.7L153.3 187.6M164.2 197.5L153.3 187.6L158.2 201.5M163.2 247.4L135.9 207.9M148.2 218.7L135.9 207.9L141.6 223.2M149.2 271.2L108.5 238.8M124.6 246.2L108.5 238.8L119.3 252.9M135.2 295L105.4 271.7M117.2 276.9L105.4 271.7L113.3 281.8M121.2 318.7L107.9 302.1M113.7 306.5L107.9 302.1L110.9 308.7M93.3 366.3L74.9 357.8M81.7 359.1L74.9 357.8L80.3 362.1M79.3 390L66.9 382.4M71.6 383.9L66.9 382.4L70.3 385.9M285.7 93.6L304.7 89.4M298.8 92.3L304.7 89.4L298.1 89.2M271.7 117.4L287.6 114.2M282.6 116.5L287.6 114.2L282.1 113.9M257.7 141.1L271.7 136.2M267.5 139L271.7 136.2L266.7 136.7M243.7 164.8L253.4 157.1M250.8 160.4L253.4 157.1L249.5 158.9M229.7 188.6L225.1 174.1M227.8 178.5L225.1 174.1L225.4 179.3M215.8 212.3L194.5 191.6M203.2 196.7L194.5 191.6L199.8 200.2M201.8 236L167 206M181 213.1L167 206L176 218.8M187.8 259.8L138.6 227.8M157.5 234.3L138.6 227.8L152.2 242.4M173.8 283.5L117.9 251.5M139 257.4L117.9 251.5L133.7 266.6M159.8 307.2L117.5 280.3M133.7 285.7L117.5 280.3L129.2 292.7M145.9 331L126.5 311.5M134.5 316.4L126.5 311.5L131.3 319.6M131.9 354.7L124 320.8M129.4 331.3L124 320.8L123.8 332.6M117.9 378.5L108.3 357.1M113.2 363.4L108.3 357.1L109.7 364.9M103.9 402.2L90.1 384.6M96.1 389.3L90.1 384.6L93.2 391.6M310 106.5L329.2 104.4M323 106.7L329.2 104.4L322.7 103.5M296 130.2L313.5 126.5M308 129.1L313.5 126.5L307.4 126.3M282 153.9L295.9 149.2M291.7 151.9L295.9 149.2L290.9 149.6M268.1 177.6L278.1 171M275.3 174L278.1 171L274.2 172.3M254.1 201.3L248.8 188.3M251.6 192.2L248.8 188.3L249.5 193.1M240.1 225L215.9 206.5M225.5 210.6L215.9 206.5L222.4 214.6M226.2 248.8L182.5 225.7M198.8 229.7L182.5 225.7L195 236.9M212.2 272.5L158.1 244.1M178.3 249L158.1 244.1L173.6 258M198.2 296.2L140 263.5M161.9 269.5L140 263.5L156.6 279.1M184.2 319.9L133.6 291.1M152.7 296.5L133.6 291.1L148 304.8M170.3 343.6L149.3 328.3M157.5 331.6L149.3 328.3L155 335.1M156.3 367.4L141.2 341.7M148.3 348.9L141.2 341.7L144.1 351.4M142.3 391.1L118.8 367M128.6 373L118.8 367L124.6 376.9M128.4 414.8L108 393.9M116.5 399.1L108 393.9L113 402.5M334.1 119.6L350.9 115.3M345.7 118.1L350.9 115.3L345 115.3M320.2 143.3L336 141.3M330.9 143.3L336 141.3L330.6 140.7M306.2 167L318.4 163.3M314.7 165.5L318.4 163.3L314.1 163.5M292.2 190.7L299 185.1M297.2 187.5L299 185.1L296.3 186.4M278.3 214.4L269.5 204.2M273.3 206.9L269.5 204.2L271.6 208.3M264.3 238.1L233.5 219.3M245.2 223L233.5 219.3L242.1 228M250.4 261.8L191 242M212.2 243.7L191 242L208.9 253.5M236.4 285.5L166.4 255.6M192 259.7L166.4 255.6L187 271.3M222.4 309.3L162.8 280.4M184.9 285L162.8 280.4L180.1 294.9M208.5 333L168.6 309.1M183.7 313.7L168.6 309.1L179.8 320.3M194.5 356.7L173.9 334.9M182.5 340.4L173.9 334.9L178.9 343.8M180.5 380.4L161.3 366M168.8 369.1L161.3 366L166.5 372.3M166.6 404.1L143 390M151.9 392.7L143 390L149.6 396.6M152.6 427.8L128.6 413.1M137.8 416L128.6 413.1L135.3 419.9M372.1 109.4L393.2 113.1M385.9 113.6L393.2 113.1L386.5 110.1M358.1 133.1L374.9 131.3M369.5 133.3L374.9 131.3L369.2 130.5M344.1 156.8L358.9 154.9M354.2 156.7L358.9 154.9L353.9 154.3M330.2 180.5L339.8 178.5M336.8 180L339.8 178.5L336.5 178.4M316.2 204.2L319.5 201.1M318.7 202.4L319.5 201.1L318.1 201.9M302.3 227.9L291.4 218.1M295.8 220.5L291.4 218.1L294.2 222.2M288.3 251.6L256.4 230.5M268.7 234.9L256.4 230.5L265.2 240.1M274.3 275.3L213.3 249.7M235.5 253.1L213.3 249.7L231.3 263.2M260.4 299L180.7 266.1M209.7 270.4L180.7 266.1L204.3 283.5M246.4 322.7L185.8 298.3M207.8 301.4L185.8 298.3L203.8 311.4M232.5 346.4L202.5 333.9M213.4 335.5L202.5 333.9L211.4 340.5M218.5 370.1L193.6 359.1M202.7 360.7L193.6 359.1L200.9 364.8M204.6 393.8L182.6 377.3M191.2 380.9L182.6 377.3L188.5 384.5M190.6 417.5L169 408.4M176.8 409.6L169 408.4L175.3 413.2M409.8 99.5L430.2 112.5M422.4 109.9L430.2 112.5L424.5 106.5M395.8 123.2L413.5 134.2M406.8 132L413.5 134.2L408.6 129.1M381.9 146.9L397.7 152.3M392.1 151.8L397.7 152.3L392.9 149.2M367.9 170.6L380.2 171.5M376 172.2L380.2 171.5L376.2 170.2M354 194.3L361 191.3M358.9 192.9L361 191.3L358.4 191.7M340 218L340.3 220.1M340.1 219.4L340.3 220.1L340.4 219.4M326.1 241.7L312.9 232.8M318 234.6L312.9 232.8L316.5 236.8M312.1 265.4L275.6 248.3M289 250.9L275.6 248.3L286.2 256.9M298.1 289.1L235.2 266.6M257.8 268.8L235.2 266.6L254.1 279.2M284.2 312.8L220 288.2M243.2 291L220 288.2L239.1 301.6M270.2 336.4L215.7 320M235 320.9L215.7 320L232.3 329.9M256.3 360.1L214.5 354.3M228.7 352.8L214.5 354.3L227.8 359.7M242.3 383.8L216.7 388M224.8 384.5L216.7 388L225.5 388.7M228.4 407.5L195.6 402.6M206.8 401.5L195.6 402.6L206 406.9M433.4 113.6L449.8 131.9M442.9 127.2L449.8 131.9L445.9 124.5M419.4 137.3L436.1 157.5M428.9 152.2L436.1 157.5L432.3 149.5M405.5 161L418.4 178.5M412.7 173.8L418.4 178.5L415.6 171.6M391.5 184.7L401 195.7M397 192.9L401 195.7L398.8 191.3M377.6 208.4L381.4 214.5M379.6 212.8L381.4 214.5L380.6 212.1M363.6 232.1L367.5 233.8M366.1 233.6L367.5 233.8L366.4 232.9M349.7 255.8L331.5 250.4M338 250.7L331.5 250.4L337.1 253.7M335.7 279.5L297.4 264.8M311.2 266.5L297.4 264.8L308.8 272.8M321.7 303.2L257.8 281M280.7 283L257.8 281L277.1 293.6M307.8 326.9L244.1 304.8M266.9 306.8L244.1 304.8L263.3 317.3M293.8 350.6L240.5 338.9M259.1 338.3L240.5 338.9L257.1 347.1M279.9 374.3L238.7 371.9M252.5 369.3L238.7 371.9L252.1 376.1M484.7 80.6L495.1 107.5M489.4 99.5L495.1 107.5L493.9 97.8M470.8 104.3L482.9 132.1M476.6 123.9L482.9 132.1L481.2 122M456.8 128L468.9 155.6M462.7 147.5L468.9 155.6L467.2 145.5M442.9 151.7L455.9 176.7M449.5 169.5L455.9 176.7L453.6 167.4M428.9 175.4L440 199.4M434.4 192.4L440 199.4L438.3 190.5M414.9 199.1L422.4 220.1M418.2 213.8L422.4 220.1L421.7 212.6M401 222.8L401.9 236.5M400.4 232.1L401.9 236.5L402.7 231.9M387 246.5L382.2 254.1M383.2 251.2L382.2 254.1L384.4 252M373 270.3L349 273.1M356.7 270.2L349 273.1L357.2 274.1M359.1 294L317.7 287.8M331.8 286.4L317.7 287.8L330.8 293.3M345.1 317.7L285.8 306.9M306.3 305.6L285.8 306.9L304.5 315.3M331.2 341.4L268.3 324.5M290.4 324.9L268.3 324.5L287.6 335.2M317.2 365.1L261.6 356.3M280.6 354.6L261.6 356.3L279.2 363.8M303.2 388.8L259.8 385.5M274.4 383L259.8 385.5L273.8 390.2M521.9 71.6L528.3 101.3M523.7 92L528.3 101.3L528.6 91M508 95.3L514.7 125.8M510 116.3L514.7 125.8L515 115.2M494 119L503.4 150.5M497.7 140.9L503.4 150.5L502.9 139.4M480 142.8L489.5 175M483.7 165.2L489.5 175L489 163.6M466.1 166.5L477.1 198.8M470.8 189L477.1 198.8L476.2 187.2M452.1 190.2L460.5 218.8M455.4 210L460.5 218.8L460.1 208.7M438.1 213.9L442.8 240.3M439.1 231.9L442.8 240.3L443.4 231.2M424.2 237.6L420.3 256.8M420 250.2L420.3 256.8L423.2 250.8M410.2 261.3L397.1 276.5M400.2 270.4L397.1 276.5L402.7 272.6M396.2 285L368.3 293M376.9 288.1L368.3 293L378.2 292.7M382.3 308.8L336.8 309M351.8 305.2L336.8 309L351.8 312.7M368.3 332.5L307.9 326.2M328.4 323.3L307.9 326.2L327.3 333.3M354.3 356.2L290.6 347.4M312.4 345L290.6 347.4L310.9 355.5M340.3 379.9L277 373.9M298.4 370.7L277 373.9L297.4 381.1M531 110.3L535 143.9M530.9 133.2L535 143.9L536.5 132.5M517.1 134.1L522.9 171.9M517.8 159.9L522.9 171.9L524.1 158.9M503.1 157.8L510.7 195.8M505.1 183.9L510.7 195.8L511.4 182.6M489.1 181.5L499.1 220.9M492.6 208.7L499.1 220.9L499.1 207.1M475.1 205.2L481.4 240.7M476.4 229.5L481.4 240.7L482.3 228.5M461.1 229L462.8 258.2M459.8 248.7L462.8 258.2L464.6 248.4M447.2 252.7L441.8 279.7M441.3 270.3L441.8 279.7L445.8 271.2M433.2 276.4L416.3 297.5M420.1 289.1L416.3 297.5L423.6 291.9M419.2 300.2L387.6 312M397 305.5L387.6 312L399 310.7M405.2 323.9L358.8 325.2M374 320.9L358.8 325.2L374.2 328.6M391.2 347.6L331.7 343.8M351.6 340.1L331.7 343.8L351 350M377.3 371.4L313.9 369M335 364.6L313.9 369L334.6 375M363.3 395.1L297.5 392.7M319.4 388.1L297.5 392.7L319 398.9M539.9 149.4L542.2 188.4M538.2 175.7L542.2 188.4L544.7 175.3M525.9 173.1L530.3 219M525.1 204.2L530.3 219L532.6 203.5M511.9 196.9L518.9 242M512.9 227.7L518.9 242L520.3 226.5M497.9 220.6L500.6 259.8M496.5 247.1L500.6 259.8L503 246.6M483.9 244.4L484 282.1M480.9 269.7L484 282.1L487.1 269.7M469.9 268.1L460.5 300.2M460.9 288.8L460.5 300.2L466.2 290.4M455.9 291.9L435.7 318.1M440.2 307.8L435.7 318.1L444.5 311.1M442 315.6L406.5 334.5M416.6 325.4L406.5 334.5L419.7 331.2M428 339.4L376.2 351.7M392.3 343.4L376.2 351.7L394.3 351.9M414 363.1L350.3 368M370.9 361.2L350.3 368L371.7 371.7M400 386.9L343.7 388.6M362.1 383.4L343.7 388.6L362.4 392.7M386 410.6L336.5 407.8M353.1 404.6L336.5 407.8L352.6 412.8M548.5 188.7L549.3 231.5M545.5 217.4L549.3 231.5L552.6 217.3M534.5 212.5L537 258.2M532.4 243.3L537 258.2L539.9 242.9M520.5 236.3L521.5 280.2M517.6 265.8L521.5 280.2L524.8 265.6M506.5 260L505.1 302.9M502 288.7L505.1 302.9L509.1 288.9M492.5 283.8L481.7 320.1M482.3 307.2L481.7 320.1L488.3 309M478.5 307.6L454.9 337.1M460.2 325.4L454.9 337.1L465.1 329.3M464.5 331.4L423.5 353.1M435.2 342.5L423.5 353.1L438.8 349.3M450.5 355.1L393.8 371M411.2 361.1L393.8 371L413.8 370.4M436.5 378.9L373.2 388.9M393.2 380.4L373.2 388.9L394.9 390.9M422.4 402.7L373.9 405.2M389.7 400.4L373.9 405.2L390.1 408.4M556.9 228.5L565.8 263.6M560 252.8L565.8 263.6L565.8 251.3M542.9 252.2L548.4 295.5M543 281.7L548.4 295.5L550.1 280.7M528.9 276L528.3 320.9M524.8 306L528.3 320.9L532.2 306.1M514.9 299.8L503.2 339.2M503.8 325.3L503.2 339.2L510.3 327.2M500.8 323.6L475.4 354.9M481.2 342.5L475.4 354.9L486.4 346.7M486.8 347.5L444.6 369.1M456.8 358.5L444.6 369.1L460.3 365.4M472.8 371.3L419.5 385.1M436 376.1L419.5 385.1L438.2 384.9M458.7 395.1L401.7 405M419.7 397L401.7 405L421.3 406.5M444.7 418.9L399.5 422.6M414.1 417.6L399.5 422.6L414.7 425.1M565.1 268.5L568.6 307.7M564.2 295.1L568.6 307.7L570.7 294.5M551 292.3L547.9 333.7M545.5 319.8L547.9 333.7L552.3 320.3M537 316.2L524.5 356.5M525.3 342.2L524.5 356.5L531.9 344.3M522.9 340L495.2 374.5M501.5 360.8L495.2 374.5L507.2 365.4M508.9 363.9L466.3 391.1M478.1 378.6L466.3 391.1L482.6 385.6M494.8 387.7L444.2 405.7M459.4 395.6L444.2 405.7L462.4 403.9M480.7 411.5L421.6 422.1M440.2 413.7L421.6 422.1L442 423.5M573 308.9L568.2 346.3M566.7 333.6L568.2 346.3L572.8 334.4M558.9 332.8L544.5 370.3M546.1 356.7L544.5 370.3L552.3 359.1M544.8 356.7L515.5 392.3M522.2 378.1L515.5 392.3L528.1 382.9M530.7 380.6L493.2 408.6M503.2 396.3L493.2 408.6L507.9 402.5M516.6 404.4L458.1 421.4M476 411L458.1 421.4L478.8 420.7M580.5 349.8L560.6 375.4M565 365.3L560.6 375.4L569.3 368.6M566.4 373.7L540.5 396.3M547.2 386.7L540.5 396.3L550.9 391M552.3 397.6L525.8 415.2M533.1 407.2L525.8 415.2L536 411.6" fill="none" stroke="#0d0d0d" stroke-width="1.12" stroke-linejoin="miter" stroke-miterlimit="10"/>
<use href="#frame"/>
<g><text transform="translate(61.82 357.81) rotate(28.93)" text-anchor="end" font-size="27.5" dy="9.9">70<tspan dy="-10.2" font-size="21.4">o</tspan><tspan dy="10.2">N</tspan></text>
<text transform="translate(91.43 304.23) rotate(28.93)" text-anchor="end" font-size="27.5" dy="9.9">72<tspan dy="-10.2" font-size="21.4">o</tspan><tspan dy="10.2">N</tspan></text>
<text transform="translate(121.00 250.73) rotate(28.93)" text-anchor="end" font-size="27.5" dy="9.9">74<tspan dy="-10.2" font-size="21.4">o</tspan><tspan dy="10.2">N</tspan></text>
<text transform="translate(150.56 197.25) rotate(28.93)" text-anchor="end" font-size="27.5" dy="9.9">76<tspan dy="-10.2" font-size="21.4">o</tspan><tspan dy="10.2">N</tspan></text>
<text transform="translate(180.14 143.73) rotate(28.93)" text-anchor="end" font-size="27.5" dy="9.9">78<tspan dy="-10.2" font-size="21.4">o</tspan><tspan dy="10.2">N</tspan></text>
<text transform="translate(209.79 90.08) rotate(28.93)" text-anchor="end" font-size="27.5" dy="9.9">80<tspan dy="-10.2" font-size="21.4">o</tspan><tspan dy="10.2">N</tspan></text>
<text transform="translate(45.60 414.04) rotate(28.93)" text-anchor="middle" font-size="27.5" dy="9.9">180<tspan dy="-10.2" font-size="21.4">o</tspan><tspan dy="10.2">W</tspan></text>
<text transform="translate(172.57 468.31) rotate(17.36)" text-anchor="middle" font-size="27.5" dy="9.9">168<tspan dy="-10.2" font-size="21.4">o</tspan><tspan dy="10.2">W</tspan></text>
<text transform="translate(307.86 496.01) rotate(5.79)" text-anchor="middle" font-size="27.5" dy="9.9">156<tspan dy="-10.2" font-size="21.4">o</tspan><tspan dy="10.2">W</tspan></text>
<text transform="translate(445.94 496.01) rotate(-5.79)" text-anchor="middle" font-size="27.5" dy="9.9">144<tspan dy="-10.2" font-size="21.4">o</tspan><tspan dy="10.2">W</tspan></text>
<text transform="translate(581.23 468.31) rotate(-17.36)" text-anchor="middle" font-size="27.5" dy="9.9">132<tspan dy="-10.2" font-size="21.4">o</tspan><tspan dy="10.2">W</tspan></text>
<text transform="translate(708.20 414.04) rotate(-28.93)" text-anchor="middle" font-size="27.5" dy="9.9">120<tspan dy="-10.2" font-size="21.4">o</tspan><tspan dy="10.2">W</tspan></text></g>
<g><path d="M290.2 422.8L351 431.8M332 424.4L351 431.8L330.2 434.6" fill="none" stroke="#000" stroke-width="2" stroke-linejoin="miter"/>
<text transform="translate(273.3 450.4) rotate(7.6)" font-size="22.5">5 cm s<tspan dy="-9.5" font-size="17.5">-1</tspan></text></g>
<polygon points="366.00,205.60 368.87,213.85 377.60,214.03 370.64,219.31 373.17,227.67 366.00,222.68 358.83,227.67 361.36,219.31 354.40,214.03 363.13,213.85" fill="#000"/>
<polygon points="392.40,228.80 395.27,237.05 404.00,237.23 397.04,242.51 399.57,250.87 392.40,245.88 385.23,250.87 387.76,242.51 380.80,237.23 389.53,237.05" fill="#25ecff"/>
<text x="376.3" y="35.7" text-anchor="middle" font-size="42.6">EXP2</text>
<text x="32.3" y="66.8" font-size="43">(b)</text>
</g>
<g transform="translate(0.0 575.2)">
<g clip-path="url(#fan)">
<g clip-path="url(#dmask)"><rect x="0" y="0" width="760" height="500" fill="#d9e9f1"/>
<path d="M484.8 435.8l-4 2 3 0zM486.2 435.2l0 .6 6.6 0zM537.8 427.2l-3.6 1-9.4 1-7.6 2.6-5.4 3.4-5.6 2-2 2 0 8.6 1.6 0 1.4 2 8.6 0 0-1.6 2-1.4 0-1.6 2-1.4 0-1.6 2-1.4 0-1.6 2-1.4 0-1.6 2-1.4 0-1.6 1.4-1.4 1 1 6.6 0 1-1 0-1.6 2-1.4zM338.2 404.2l0 1.6 1.6 1zM98.8 346.2l-8.6 0 0 1.6-1.4 1.4-1.6 0-.4-1-2.6 0-.4-1-7.6 0 0 1.6-1 .4 0 2.6-1 .4 0 2.6-1 .4 0 1.6-.4 .4-5.6 0-1 1-1 3.6-2 1.4 0 2.6-1 .4 0 1.6-1 .4 0 2.6-1 .4 0 1.6-1 .4 0 7.6 3 .4 0 3.6-1 .4 0 1.6-1 .4 0 6.6 1 1 1.6 0 .4 1 1.6 0 .4 1 1.6 0 1.4 2 1.6 0 .4 1 1.6 0 .4 1 1.6 0 .4 1 1.6 0 .4 1 1.6 0 .4 1 1.6 0 .4 1 1.6 0 .4 1 1.6 0 .4 1 1.6 0 .4 1 1.6 0 .4 1 1.6 0 .4 1 .6-1 0-17.6-1-6 0-6.4 1-10 1-3.6 5-5.4 5.4-2 6.6 0-1-1 0-6.6-1.6 0-.4-1-1.6 0-.4-1-2.6 0-.4-1-1.6 0zM561.2 348.8l-4.4 4.4-1 5.6 1 4 3.4 5 4 3.4 14 9 8.6 8.6 0-3.6-2-1.4 0-1.6 2-1.4 0-1.6 3-2.4 0-1.6 2-1.4 0-1.6 2-1.4 0-1.6 2-1.4 0-7.6-1-1-1.6 0-1.4-2-1.6 0-2.4-2.4 0-1.6 2-1.4 0-1.6 2-1.4 0-6.6-1-.4-1.6 1.4-6.4 2.6-12.6 0zM96.2 305.2l0 7.6 2.6 0 .4 1 1.6 0 .4 1 2.6 0 .4 1 1.6 0 .4 1 2.6 0 .4 .4 0 7.6 1.6 0 .4 1 2.6 0 .4 1 1.6 0 .4 1 2.6 0 .4 1 1.6 0 .4 1 2 .4 0 3.6-1 .4 0 1.6-1 .4 0 1.6-1 .4 0 2.6-1 .4 0 1.6-1 .4 0 2.6-1 .4 0 1.6-1 .4 0 1.6-1 .4 0 2.6-1 .4 0 1.6-1 .4 0 2.6-1 1 6 1 8 4 6 5.4 7 8.6 .6 1.4 6.4 8 3.6 5.6 5.4 14 2 3.4 3.6 4 8 5 6 1.6 12.4 .4 4.6 1 7 3 14 8 3-.4 1-1 0-1.6 1-.4 0-1.6 1-.4 0-1.6 1-.4 0-1.6 1-.4 0-1.6 1-.4 0-1.6 1-.4 .4-2 7.6 0 0-1.6 1.4-1.4 6.6 0 1.4-3 7.6 0 .4-2 2.6 0 .4 1 1.6 0 .4 1 8.6 0 0-1.6 1-.4 0-1.6 1-.4 0-1.6 1-.4 0-1.6 1-.4 0-1.6 1-.4 1.4-4 7.6 0 1.4-3 1 1 1.6 0 .4 1 1.6 0 .4 1 1.6 0 .4 1 1.6 0 1.4 2 8.6 0 0-1.6 2-1.4 0-1.6 1-.4 0-1.6 1.4-1.4 1.6 0 1.4 2 1.6 0 .4 1 7.6 0 1-1 0-1.6 1-.4 .4 1 1.6 0 .4 1 1.6 0 .4 1 3.6 1 1.4 2 1.6 0 .4 1 1.6 0 .4 1 1.6 0 .4 1 6 0-5.4-8.6-5.6-5-7.4-3.4-1.6 0-12-4.6-8-5-8.4-9.4-4.6-9-11-11-7.4-9-9.6-9-5-3.6-5.4-2.4-5.6-1.6-7.4 0-6.6 1-9.4-.4-32-5.6-16.6-7-12-1.4-11-3.6-36-18-1 0 0 1.6-1 .4-1 3.6-2 1.4 0 1.6-1 .4-1 3.6-2 1.4 0 1.6-1 .4 0 1.6-1 .4 0 1.6zM247.2 184.8l-6.4 3-4 4-2 5.4 0 4.6 2 5.4 4 3.6 4 1.4 7 0 3.4-1.4 4.6-4.6 2.4-4.4 .6-7-1-2.6-4-5-5.6-2.4zM203.8 115.2l-1.6 1 0 1.6-1 .4-1 3.6-2 1.4 0 1.6-1 .4 0 1.6-1 .4-1 3.6-2 1.4 0 1.6-1 .4-1 3.6-2 1.4 0 1.6-1 .4 0 1.6-1 .4-1 3.6-2 1.4 0 1.6-1 .4-1 3.6-2 1.4 0 1.6-1 .4 0 1.6-1 .4-1 3.6-2 1.4 0 1.6-1 .4-1 3.6-2 1.4 0 1.6-1 .4 0 1.6-1 .4 0 1.6-1 .4 0 1.6-1 .4 .6 1 9 2 14-.4 7.4-3 4-3 4.6-5 2.4-5 1.6-5 .4-8.6-1-6.4-2.4-5.6-3-9.4zM439.2 89.2l-5 0-1.4 3-1-1-6.6 0-1.4 3-1.6 0-.4-1-6.6 0 0 1.6-1.4 1.4-8.6 0-.4 2-8.6 0 0 1.6-1.4 1.4-1.6 0-.4-1-1.6 0-.4-1-1.6 0-.4-1-1.6 0-.4-1-6.6 0 0 1.6-1.4 1.4-1.6 0-.4-1-1.6 0-1-1 2.6 5 7.4 8.6 4 6.4 2 7 0 4-2.4 6.6-4.6 3.4-9.4 2.6-6 3-3.6 3.4-4 9.6-2 2-9 5-15 14-8 4.4-17.4 6-3 3-1.6 3.6-.4 3 .4 8 4.6 20.4 10 23 1.4 5 2.6 3.6 7 5.4 4.4 5 4 13.6 3.6 7.4 4.4 4 12 5.6 3.6 3 6.4 3.4 5.6 0 7.4-2.4 10-1 9.6-4 8-1.6 10 0 10.4-1.4 12 2 7.6 0 7.4-3 3-4.6-1-4.4-7.4-7.6-2-5.4 .4-6.6 2-5.4 3.6-6 1-7 2.4-8.6 .6-4-.6-9-4-9.4-11-11.6-1-3 0-7-1-4-3-3.4-6.4-2.6-2.6-3 .6-4 6-9.4 1.4-4.6 0-4.4-1-3.6-3-5.4-10-10-1-2.6 1-5 4-3.4 3.6-1 1.4-1.6 2-.4 2.6-7 6-7 .4-1.6-.4-4-6-6.4-1.6-3.6 .6-4zM362.2 243.2l2 .6 2 2 .6 3.4-.6 1.6-3.4 3-1.6 0-2-2.6 0-4.4 .6-1.6zM391.8 153.8l3 2.4 .4 3-1 3-2 2-2.4 1-3-2.4-.6-3 1.6-3.6 2-2zM296.2 88.2l5-1 4.6 0-1.6 0-.4-1-6.6 0zM223.2 79.2l0 .6 2.6-1 7.4-1 8.6 0 8 2 10 6.4 9.4 3.6 7.6 1 11 0 6.4-1.6-1 0-.4-1-1.6 0-.4-1-1.6 0-.4-1-2.6 0-.4-1-1.6 0-.4-1-1.6 0-.4-1-1.6 0-.4-1-2.6 0-.4-1-1.6 0-.4-1-1.6 0-.4-1-1.6 0-.4-1-1.6 0-.4-.4 0-5.6-1-1-1.6 0-.4-1-2.6 0-.4-1-1.6 0-.4-1-1.6 0-.4-1-1.6 0-.4-1-1.6 0-.4-1-1.6 0-.4-1-1.6 0-.4-1-1.6 0-.4-1-1.6 0-.4-1-3.6-1-1.4-2-6.6 0-1 1 0 1.6-1 .4 0 1.6-1 .4-1 3.6-2 1.4 0 1.6-1 .4-1 3.6-2 1.4 0 1.6-1 .4 0 1.6z" fill="#edf2f5"/>
<path d="M563.2 353.8l-2.4 4 .4 4.4 3 4.6 6 4 8.6 3.4 7.4 2 2.6 1.6 1-1 0-1.6 2-1.4 0-1.6 2-1.4 0-1.6 2-1.4 0-7.6-1-1-1.6 0-1.4-2-1.6 0-2.4-2.4 0-1.6 1-1-7.6 .6-7-1.6-5.4 0-3.6 1zM98.8 346.2l-8.6 0 0 1.6-1.4 1.4-1.6 0-.4-1-2.6 0-.4-1-7.6 0 0 1.6-1 .4 0 2.6-1 .4 0 2.6-1 .4 0 1.6-.4 .4-5.6 0-1 1-1 3.6-2 1.4 0 2.6-1 .4 0 1.6-1 .4 0 2.6-1 .4 0 1.6-1 .4 0 7.6 3 .4 0 3.6-1 .4 0 1.6-1 .4 0 6.6 1 1 1.6 0 .4 1 3.6 1 1.4 2 1.6 0 .4 1 1.6 0 .4 1 1.6 0 .4 1 1.6 0 .4 1 2.6 0 3.4-3.6 1.6-3.4 1-5 0-7-2-15.6 1-8.4 4-6.6 2.4-2.4 4.6-3 4.4-.6zM96.2 305.2l0 7.6 2.6 0 .4 1 1.6 0 .4 1 2.6 0 .4 1 1.6 0 .4 1 2.6 0 .4 .4 0 7.6 1.6 0 .4 1 2.6 0 .4 1 1.6 0 .4 1 2.6 0 .4 1 1.6 0 .4 1 2 .4 0 3.6-1 .4 0 1.6-1 .4 0 1.6-1 .4 0 2.6-1 .4 0 1.6-1 .4 0 2.6-1 .4 0 1.6-1 .4 5.6 3 13.4 13.6 9 13.4 10.6 13.6 7 14 5 5.4 5 3 5 1 16.4 .6 20 8 5.6 3 4.4-9 7.6 0 0-1.6 1.4-1.4 6.6 0 1.4-3 7.6 0 .4-2 2.6 0 .4 1 1.6 0 .4 1 8.6 0 0-1.6 1-.4 0-1.6 1-.4 0-1.6 1-.4 0-1.6 1-.4 0-1.6 1-.4 1.4-4 7.6 0 1.4-3 1 1 1.6 0 .4 1 1.6 0 .4 1 1.6 0 .4 1 1.6 0 1.4 2 8.6 0 0-1.6 2-1.4 0-1.6 1-.4 0-1.6 1.4-1.4 1.6 0 1.4 2 1.6 0 .4 1 7.6 0 1-1 0-1.6 1-.4 .4 1 1.6 0 .4 1 1.6 0 .4 1 3.6 1 1.4 2 1.6 0 .4 1 1.6 0 .4 1 3.6 1-1.6-4-4-5.6-7-4-6-1.4-12-5-4.4-2.6-10-8-4-4.4-4.6-8-7-8-8.4-11.6-7.6-7-5.4-3.4-6-2-5.6-.6-13 3-8.4 0-11-2.4-5.6-2-16-2.6-8-3-5.4-3-6-1.4-2.6 0-5.4 1.4-4.6 3-6 5.6-3 .4-3-2.4-2-5.6-3-5-2-1-2-2.4-3-1.6-2.4-3-5-3.4-11.6-5-6-3.6 0 1.6-1 .4 0 1.6-1 .4 0 1.6-2 1.4 0 1.6-1 .4-1 3.6zM426.8 205.2l-3.6-1.4-7.4-1.6-5.6-3-3-3-5.4-1-4 1.6-9.6 7-7.4 6.4-4.6 5.6-4 8-1 3.4 0 7 4 12.6 0 7.4-1.4 7 0 10-2.6 8-6.4 6.6 5.4 3.4 3.6 1 13.4 .6 11.6-4 5.4-1 10.6-.6 14.4-5.4 5-3.6 1.6-4 1.4-14 2.6-10 4-11 .4-9.4-1-3.6-3-4.4-8.4-10zM354.8 188.2l-11 .6-15 5-4.6 2.4-4 3.6-3.4 6-1 4.4 0 6.6 1 4.4 3.4 9 7.6 16 4 4 3.4 1.6 7-.6 4.6-4.4 5-12 4-18.6 3.4-6.4 2-5.6 .6-5.4-2.6-7zM195.2 131.2l-2 1 0 1.6-1 .4-1 3.6-2 1.4 0 1.6-1 .4 0 1.6-1 .4-1 3.6-2 1.4 0 1.6-1 .4-1 3.6-2 1.4 0 1.6-1 .4 0 1.6-1 .4-1 3.6-2 1.4 0 1.6-1 .4-1 3.6-2 1.4 .6 1 4.4 2 4.6 1 9 0 3.4-1 5.6-3.4 3.4-4.6 2-7 0-6-2-7.4-6-11zM229.2 68.2l9.6 .6 12 3 6.4 4 3 3 2.6 1 2 2 5 2 12.4 .4-.4-1-1.6 0-.4-1-2.6 0-.4-1-1.6 0-.4-1-1.6 0-.4-1-4-1.4 0-5.6-1-1-1.6 0-.4-1-2.6 0-.4-1-1.6 0-.4-1-1.6 0-.4-1-1.6 0-.4-1-1.6 0-.4-1-1.6 0-.4-1-1.6 0-.4-1-1.6 0-.4-1-1.6 0-.4-1-3.6-1-1.4-2-6.6 0-1 1 0 1.6-1 .4 0 1.6-1 .4 0 1.6-1 .4 0 1.6z" fill="#f9f0ea"/>
<path d="M566.8 359.2l0 3 3 3 5 1 2.4-.4 2-1.6 .6-1.4-1-2-5.6-3.6-5 0zM78.2 347.2l-2 0 0 1.6-1 .4 0 2.6-1 .4 0 2.6-1 .4-.4 2-5.6 0-1 1-1 3.6-2 1.4 0 2.6-1 .4 0 1.6-1 .4 0 2.6-1 .4 0 1.6-1 .4 0 7.6 3 .4 0 3.6-1 .4 0 1.6-1 .4 0 6.6 6 3 8.6-.6 3-2 2-4.4-.6-9.6-3.4-9.4-1.6-7 0-7.6 1-3.4zM135.2 349.2l0 5 9 17 5 7 9.6 11 8.4 13.6 3.6 3.4 3 1.6 6.4 .4 8.6-1.4 9 .4 7.4 3.6 5 1.4 10.6 7 2 .6 .4-2 7.6 0 0-1.6 1.4-1.4 6.6 0 1.4-3 7.6 0 .4-2 2.6 0 .4 1 1.6 0 .4 1 8.6 0 0-1.6 1-.4 0-1.6 1-.4 0-1.6 1-.4 0-1.6 1-.4 0-1.6 1-.4 1.4-4 7.6 0 1.4-3 1 1 1.6 0 .4 1 1.6 0 .4 1 1.6 0 .4 1 1.6 0 1.4 2 8.6 0 0-1.6 2-1.4 0-1.6 1-.4 0-1.6 1.4-1.4 1.6 0 1.4 2 1.6 0 .4 1 7.6 0 1-1 0-1.6 1-.4 .4 1 1.6 0 .4 1 1.6 0 .4 1 3.6 1 1.4 2 1.6 0 1 1-1-3-4-4-11-4.6-5.6-1.4-9-4.6-1.4-1.4-12.6-7-11-3.6-4-4-1-13-4-9-3-4-4-3.4-9-4-6 0-8 3.4-9.4 6.6-6.6 2-1 1 1.6 2 6 3.4 3.4 6-.4 4.6-3 5.4-8.6 7.6-7.4 4-2.6 0-3.4-2-2-2.6-2-4.4-.6-2.6 .6-6.4 3-8.6 4.4-7.4-1-3.6-6-4.4-16.4-5.6-7-3.4-4.6-1-4.4 .4-2.6 1.6-6.4 7.4-5 4.6-4 2.4-3 .6-7 3.4zM97.2 304.2l-1 1 0 7.6 2.6 0 .4 1 1.6 0 .4 1 2.6 0 .4 1 1.6 0 .4 1-5.4-6.6zM396.8 214.8l-8 2-4.6 2.4-4.4 4.6-2 4.4 0 5.6 3.4 10.4 3.6 14.6 6 11.4 5.4 4.6 11 .4 6.6-2.4 3-2 5.4-5.6 4.6-10 3.4-11 1-5 0-8-1-3.4-4.4-6.6-7-5-12.6-2zM345.8 201.8l-5.6 0-7.4 2.4-4.6 4-2 4.6 0 4 2 6.4 4.6 7.6 4 4 2 0 4-4 3.4-7.6 .6-3 4-11-.6-4-1-1.4zM189.8 140.8l-1.6 .4 0 1.6-1 .4-1 3.6-2 1.4 0 1.6-1 .4-1 3.6-2 1.4 0 1.6-1 .4 0 1.6-1 .4 0 1.6-1 .4 0 1.6-1 .4 1 1.6 4 2 4.6 1 6-.6 3-2 2-4.4 .4-5-2-7zM255.8 66.2l13 8.6 0-2.6-1-1-1.6 0-.4-1-2.6 0-.4-1-1.6 0-.4-1-1.6 0-.4-1-1.6 0-.4-1zM234.2 59.2l12.6 2-3.6-1-1.4-2-6.6 0z" fill="#fce1d1"/>
<path d="M216.2 396.8l1 5 2.6 5 5 5.4 6 4.6 1.4-2 6.6 0 1.4-3 7.6 0 .4-2 2.6 0 .4 1 1.6 0 .4 1 8.6 0 0-1.6 1-.4 0-1.6 1-.4 0-1.6 1-.4 0-1.6 1-.4 0-1.6 1-.4 1.4-4 7.6 0 1.4-3 1 1 1.6 0 .4 1 1.6 0 .4 1 1.6 0 .4 1 1.6 0 1.4 2 8.6 0 0-1.6 2-1.4 0-1.6 1-.4 0-1.6 1.4-1.4 1.6 0 1.4 2 1.6 0 .4 1 7.6 0 1-1 0-1.6-12.6-5-15-8-7-2-12.4-1.4-18.6 1-12.4-3-7 1.4-4.6 2.6-3.4 3-3.6 6.4zM62.2 366.2l0 1.6-1 .4 0 2.6-1 .4 0 1.6-1 .4 0 7.6 3 .4 0 3.6-1 .4 0 1.6-1 1 5.6 2 5 .4 2.4-1.4 .6-4-3.6-6-2.4-2.6-4-6zM167.8 340.8l-6.6 3.4-3 2.6-10 5-3 4 0 6 2 5.4 4.6 7.6 17 19 5 3 5.4 .4 6.6-3 3.4-4.4 1.6-4 0-9-1.6-8.6 0-7.4-1-7-2-5-4.4-4.6-7.6-3.4zM243.8 340.8l-2.6 3-1 3 0 5 1 3.4 3.6 3.6 6.4 0 3-1 4-4 .6-1.6 0-5-1-2.4-4-4-3-1-4.6 0zM387.8 228.2l-2.6 3 0 2.6 7 13.4 4 3.6 2.6 1 4.4 .4 3-1 3.6-4.4 2.4-5.6 0-5-1.4-3.4-4-3-5.6-2-10.4-.6z" fill="#facab1"/>
<path d="M308.8 395.8l-22.6-11.6-8-1.4-9 0-8 1-17 5-12.4-1-3 2.4-1 2.6 .4 6 4.6 7.4 7 6.6 .4-1 7.6 0 .4-2 2.6 0 .4 1 1.6 0 .4 1 8.6 0 0-1.6 1-.4 0-1.6 1-.4 0-1.6 1-.4 0-1.6 1-.4 0-1.6 1-.4 1.4-4 7.6 0 1.4-3 1 1 1.6 0 .4 1 1.6 0 .4 1 1.6 0 .4 1 1.6 0 1.4 2 8.6 0 0-1.6 2-1.4 0-1.6 1-.4 0-1.6 1.4-1.4 1.6 0 1.4 2 1.6 0 .4 1zM162.2 352.8l-6 3-4 4.4 .6 7.6 4 6.4 8.4 8 8 4.6 4-.6 4-4 1.6-4 .4-7.4-1.4-10.6-3.6-6-4-2.4-5.4-.6z" fill="#f5ae8d"/>
<path d="M298.8 395.2l-4-3-9-4-6-1-12.6 1-10.4 4-5 3.6-3.6 3.4-1 2-.4 4 1.4 4.6 2.6 0 .4 1 1.6 0 .4 1 8.6 0 0-1.6 1-.4 0-1.6 1-.4 0-1.6 1-.4 0-1.6 1-.4 0-1.6 1-.4 0-1.6 1-.4 .4-2 7.6 0 1-1 0-1.6 1-.4 .4 1 1.6 0 .4 1 1.6 0 .4 1 3.6 1 1.4 2 8.6 0 0-1.6 2-1.4 0-1.6zM161.8 361.2l-2.6 3 0 3.6 1 2.4 6.6 5 4.4 .6 2-1 1.6-3 0-4.6-1-3-3.6-3.4-6-.6z" fill="#e98c6e"/>
<path d="M295.8 399.2l-2-2.4-7.6-4-12-.6-5 1.6-6.4 3.4-3.6 3.6-1.4 5.4 2 4 2 1.6 0-1.6 1-.4 0-1.6 1-.4 0-1.6 1-.4 0-1.6 1-.4 0-1.6 1-.4 1.4-4 7.6 0 1.4-3 1 1 1.6 0 .4 1 1.6 0 .4 1 1.6 0 .4 1 1.6 0 1.4 2 8.6 0z" fill="#d96753"/>
<path d="M284.2 398.2l0 .6 1.6 0 1.4 2 1.6 0z" fill="#c7423f"/>
<path d="M100.2 377.2l-1.4 4-.6 5 3.6 12.6 6 11.4 12.4 12.6 1.6 0 .4 1 1.6 0 .4 1 7.6 0 1-1 0-1.6 1-.4 0-1.6 2-1.4 .4 1 2 .4 0 7.6 1.6 0 .4 1 2.6 0 .4 1 1.6 0 .4 1 1.6 0 .4 1 1.6 0 .4 1 1.6 0 .4 1 2.6 0 2.4 3 1.6 0 .4 1 2.6 0 .4 1 2.6 0 .4 1 7.6 0 1-1 0-1.6 2-.4 .4 1 1.6 0 1.4 1.4 0 4.6 1.6 0 .4 1 2.6 0 .4 1 2.6 0 .4 1 3.6 0 .4 1 2.6 0 .4 1 3.6 0 .4 1 2.6 0 .4 1 3.6 0 .4 1 9.6 0 0-1.6 1-.4 0-1.6 1-.4-9.6-8-14.4-10-4-1.6-11.6 0-8-1-9-4-3-2.4-5.4-6-2.6-5-2-11.6-4-8-7.4-10-4-4-3-1.4-2-2-7.6-3-3.4-.6-4 .6-6 2.4zM578.8 396.8l-1-4.6-3.6-7-3.4-4.4-2.6-1.6-2-2.4-3-1.6-5-4-5-5-3-6 0-6.4 1.6-3.6 6.4-5.4 8.6-3.6 1-1 5-1.4 5.4-3.6 4-5.4 1.6-5.6 0-8-1-3.4-3.6-6-1.4-5.6 1-21-2-2-1.6 0-1.4-2-2-.4 1-1 0-6.6-1.6 0-1.4-1.4 0-2.6 2-1.4 0-1.6 1-.4 0-7.6-3-1.4 1-1 0-6.6-1.6 0-1.4-1.4 0-7.6-3-1.4 0-1.6 1-.4 1-3.6 2-1.4 0-6.6-1.6 0-1.4-2-1.6 0-.4-1-1.6 0-1.4-2-2-.4 1-1 0-6.6-1.6 0-1.4-1.4 0-2.6 1-.4 0-1.6 2-1.4 0-7.6-1.6 0-1.4-1.4 0-1.6 1-.4 1-3.6 2-1.4 1-3.6 2-1.4 0-6.6-1.6 0-2.4-2.4 2-2 0-1.6 1-.4 0-1.6 1-.4 0-6.6-1.6 0-.4-1-2-.4 1-1 0-6.6-1-1-1.6 0-1.4-1.4 0-7.6-1.6 0-1.4-1.4 1-1 0-1.6 1-.4 0-9.6-1-.4 0-1.6-1.6 0-1.4-2-6.6 0-.4-4-1.6 0-.4-1-2-.4 0-7.6-1-1-1.6 0-1.4-2-1.6 0-.4-1-1.6 0-.4-1-2-.4 0-1.6 1-.4 1-3.6 2-1.4 0-8.6-2-1.4 0-1.6-1-.4-1-3.6-2-1.4 0-1.6-1-.4 0-1.6-1-.4-1-3.6-2-1.4 0-1.6-1-.4 0-1.6-1-.4 0-1.6-1-.4-12.6 0-7 1.4-.4 1-1.6 0-.4 1-3.6 1-.4 1-1 0-9.6 6.6 0 1-1 .4 0 1.6-1 .4 0 1.6-1.4 1.4-1-1-3 0-1 1-3 6.6-.6 8-1.4 7.4-2.6 5-1.4 5-2 3-3 8.6 0 6.4 3.4 12 .6 7-1.6 5.6-4 6-2.4 6 0 6 2.4 7 4 7.4 2 7 .6 11 2.4 19 0 15 2 7 4 9 .6 18 1.4 1.6 3.6 1.4 11 1.6 8.4-.6 3-1 8 0 6.6 3 2 3-.6 7-4 6.6-6.4 7-9.6 7.4-5.4 2.6-5 0-14-6-9.6-1-13.4 2.4-12.6 0-5-1-5 0-4 1-3.4 2-7 2.6-11-.6-9 2.6-26 .4-4-1-5.6-3.4-8.4-7-2.6-1-7.4-5.6-4-4.4-9-13-16.6-16.6-3-5.4-1.4-14-4.6-8.6-2-2.4-2-5.6-2-2.4-2-4.6-4-4-3.4-1.4-3.6 0-11 7-9 0-7-1.6-19-1.4-4-1-4-2.6-2.4-2.4-2.6-4.6-2-7-2.4-4.4-2-6 .4-4 3.6-4 19.4-10.6 9-2.4 9 0 5.6 1.4 6.4 4 6.6 6 6 4 2 0 7-5.4 7-3 5-1 5 0 9-2 4.4-2.6 3.6-3.4 4.4-6.6 2.6-6.4 1-8.6 1.4-4.4 4.6-4.6 7.4-4 3.6-4 1-3.4 0-4-2.6-8-4-5-4-2-10.4-2-18-8.6-5-1.4-8 0-10 3-8.6 0-6-2-12-2-8-3-6-3.6-6.4-1.4-4 0-7.6 1.4-8 4-4 3-4.4 5-2.6 5-.4 11 6.4 31.6-.4 16-4 12-8 8-4 3-4 1.4-10 1.6-8.6 0-18-2 0 1-1 .4 0 1.6-1 .4 0 1.6-1 .4 0 1.6-2 1.4 0 1.6-1 .4-1 3.6-2 1.4 0 1.6-1 .4 0 1.6-1 .4-1 3.6-2 1.4 0 1.6-1 .4-1 3.6-2 1.4 0 1.6-1 .4 0 1.6-1 .4-1 3.6-2 1.4 0 1.6-1 .4-1 3.6-2 1.4 0 1.6-1 .4 0 1.6-1 .4-1 3.6-2 1.4 0 1.6-1 .4-1 3.6-2 1.4 0 1.6-1 .4 0 1.6-1 .4-1 3.6-2 1.4 0 1.6-1 .4-1 3.6-2 1.4 0 1.6-1 .4 0 1.6-1 .4-1 3.6-2 1.4 0 1 7.6 5 3.4 1.6 9 6 9.6 4.4 14 5 3.4 .6 16 5 3.6 2 8.4 3 9 1.4 14 .6 7.6 1 15 0 8.4 2 5 2 11 7.4 30 31.6 6 11 7 7.4 5 3 17 6 5 3 7.6 7 1.4 2.6 8.6 9 5.4 7 5.6 0 .4-2 2.6 0 .4 1 1.6 0 1.4 2 1.6 0 .4 1 3.6 1 1.4 2 1.6 0 .4 1 1.6 0 .4 1 7.6 0 1.4-2 1.6 0 .4 1 1.6 0 1.4 2 3.6 1 1.4 2 1.6 0 .4 1 1.6 0 1.4 1.4 6-5 9.6-4 9.4-2 7 1 4.6 3 4.4 4.6 1-1 2.6 0 1.4 2 1.6 0 1.4 2 1.6 0 1 1 3.4-.6 8.6-3.4 7-1.6 31 0 6.4-1.4 15.6-1 10-3.6 4.4-3.4 6-3 4 0 2.6 1.4 8 2.6 3.4 .4 5.6-.4 1-1 0-1.6 2-1.4 0-1.6 2-1.4 0-1.6 2-1.4 0-1.6 2-1.4 0-1.6 2.4-2.4 1 1z" fill="#bddbea"/>
<path d="M178.2 439.8l0 4 1.6 0 .4 1 2.6 0 .4 1 2.6 0 .4 1 3.6 0 .4 1 2.6 0 .4 1 3.6 0 .4 1 5.6 1-8-6-8.6-4.6zM112.8 385.2l-1 2 .4 6 3 4.6 6.6 6.4 4 3 6 2.6 3 0 3.4-2.6 1.6-4 0-5-2-4.4-4.6-5.6-4.4-3.4-6-2-5.6 0zM222.8 106.2l-2 4.6 0 4 6 16.4 .4 10 1 5 3.6 4.6 3 1 3.4 0 12.6-2.6 5 1.6 4.4 3 4 1.4 11 2 8 2.6 6 3.4 9 2.6 4.6 .4 7.4-1.4 3-2 2.6-3.6 2.4-6 1.6-8.4 2-5.6 .4-9.4-3.4-13.6-2-3-6-5-5.6-2-7 0-8.4 2.6-3.6 .4-4-.4-16-8-6-1-7-3-7-2-6.4 0-5 1.4-6.6 4zM569.8 393.8l-.6-5-3-6.6-3.4-3.4-11.6-7.6-4.4-4.4-2.6-4-1-3.6 0-6 1.6-4 2-2.4 4-3.6 17-8.4 3.4-3.6 3.6-7.4 0-10-2.6-7.6-1-7-.4-16.4-4.6-16.6 .6-7 2.4-5 .6-3 1-.4 0-6.6-1.6 0-1.4-1.4 0-7.6-3-1.4 0-1.6 1-.4 1-3.6 2-1.4 0-6.6-1.6 0-1.4-2-1.6 0-.4-1-1.6 0-1.4-2-2-.4 1-1 0-6.6-1.6 0-1.4-1.4 0-2.6 1-.4 0-1.6 2-1.4 0-7.6-1.6 0-1.4-1.4 0-1.6 1-.4 1-3.6 2-1.4 1-3.6 2-1.4 0-6.6-1.6 0-2.4-2.4 2-2 0-1.6 1-.4 0-1.6 1-.4 0-6.6-1.6 0-.4-1-2-.4 1-1 0-6.6-1-1-1.6 0-1.4-1.4 0-7.6-1.6 0-1.4-1.4 1-1 0-1.6 1-.4 0-9.6-1-.4 0-1.6-1.6 0-1.4-2-6.6 0-.4-4-1.6 0-.4-1-2-.4 0-7.6-1-1-1.6 0-1.4-2-1.6 0-.4-1-1.6 0-.4-1-2-.4 0-1.6 1-.4 1-3.6 2-1.4 0-8.6-2-1.4-1-3.6-5.6 .6-8.4-2-6-.6-3.6 1-5 4.6-6.4 9-1.6 4-1.4 8-3 8-2 2.4-4.6 10-6 9-2.4 7 .4 21.6-1 4 0 8.4 1.6 5.6 3 7 3 11 0 7-2 5-1.6 7.4-1 15.6 1.6 9.4 3 8 1.4 6.6 3.6 6.4 5 4 3 1 13.4 .6 4 1 5 3 4.6 5 1.4 6-1 7.4-4 9-8 10.6-12 10.4-6.4 2-10 .6-12-2.6-10-.4-5.6-1-8.4 0-13 2-12.6 3-15 .4-16 3-9.4 0-13.6-3.4-7-3.6-5-4-6-6.4-12.4-11.6-10.6-13-6-5-7-7.4-7.4-5-5-5-3.6-8.6-2-8.4-4.4-5-7-3-19.6-3-8-3.6-4.4-3-7-2.4-3.6 0-6.4 1.4-5.6 0-6.4-2-18.6-12-4.4-5-1-3.4-5-7-2.6-1.6-8.4-2.4-16-.6-8.6-1-1 1 0 1.6-1 .4-1 3.6-2 1.4 0 1.6-1 .4 0 1.6-1 .4-1 3.6-2 1.4 0 1.6-1 .4-1 3.6-2 1.4 0 1.6-1 .4 0 1.6-1 .4-1 3.6-2 1.4 0 1.6-1 .4-1 3.6-2 1.4 0 1.6-1 .4 0 1.6-1 .4-1 3.6-2 1.4 0 1.6-1 .4-1 3.6-2 1.4 0 1.6-1 .4 0 1.6-1 .4-1 3.6-2 1.4 0 1.6-1 .4-1 3.6-2 1.4-.4 2 11.4 10 7.6 5 23 10 12.4 4 7 1.6 6 3 14 3 17.6 0 14.4-2 4 1 7 3.4 13 9 12.6 11.6 5.4 7 15.6 16 9.4 15 4.6 4.4 6 4 14.4 5 7.6 4.6 14.4 14.4 2 1 10.6 9.6 2 0 .4 1 1.6 0 1.4 2 1.6 0 .4 1 3.6 1 1.4 2 1.6 0 .4 1 1.6 0 .4 1 7.6 0 1.4-2 1.6 0 .4 1 1.6 0 1.4 2 2 0 15-8 3.6-1 9.4-6.6 3.6-1.4 8-1 13.4 2 12-1 10.6-6 5.4 0 12 3.4 2 2 8 4 3.6 1 24 .6 6.4-1.6 3-2 9.6-3 7.4 0 10 2.6 6-.6 3-1.4 2-2z" fill="#9ccae1"/>
<path d="M284.8 137.2l.4 2.6 4.6 3.4 4 1 2.4-2 0-2.4-2.4-3-6-.6zM233.2 108.8l-1 2 .6 5.4 3.4 5.6 4 4 2 1 7.6 .4 .4-.4 12-.6 3.6-3.4 0-6.6-1-2.4-3-4-10.6-5-8-2-6 2zM562.2 390.2l0-5.4-4.4-4-5-1.6-8-4-3.6-3-4.4-6-2-6 .4-11.4 3-5.6 5.6-4.4 14-4 5-3 4.4-5 1.6-5 0-6.6-3-14-3-20-4.6-9.4-1.4-1.6-2-4-1-4 1.4-5 3-4 3-6 1-3.4 1-10-.4-14.6-2-4-2-.4 1-2-3.6-4.6-3.4-8 0-5.4 3.4-12.6-.4-9-3.6-9-1-6 0-12 2.6-12.4 1-11.6-1.6 0-1.4-2-6.6 0-.4-4-1.6 0-.4-1-2-.4 0-7.6-1-1-1.6 0-1.4-2-1.6 0-.4-1-1.6 0-.4-1-2-.4 0-1.6 1-.4 1-3.6 2-1.4 0-3-5.6 0-6.4 1-7.6 4-3 4.4-1.4 9.6-2 5-4 4.4-5 3.6-7 7.4-5.6 8.6-2 5.4 0 5 2 10 0 6 2.6 19 2 9.6 2.4 6.4 0 6.6-5 13-1.4 6-.6 10.4 1.6 10.6 3 7 5.4 6 3 1.4 10 2 7.6 3.6 6.4 7 2.6 5 1 4.4-.6 12.6-4 11.4-4.4 9-2.6 3-5 10.6-5 3.4-18 1.6-14.4 4-11 0-6.6-1.6-9 0-16 3-17.4-.4-8.6 2.4-14-1-11.4 3-6 0-5-1.4-7.6-5-5-5-14.4-20-18.6-21.6-10.4-9-2.6-3-12.4-9-7-8.4-7.6-7-9-4-7.4-1-6.6 2-8 6-4 .4-3.4-3-3-7.4-5-4.6-5-1.4-11.6-1.6-9-2-7.4 0-3.6 1-4 0-2.4-1-7-6-5.6-7-5-10.4-.4-3.6-3-4-7.6-3-5.4-1-5.6-2-1 1 0 1.6-1 .4 0 1.6-1 .4 0 1.6-1 .4 0 1.6-2 1.4 0 1.6-1 .4-1 3.6-2 1.4 0 1.6-1 .4 0 1.6-1 .4-1 3.6-2 1.4 0 1.6-1 .4-1 3.6-2 1.4 0 1.6-1 .4 0 1.6-1 .4-1 3.6-2 1.4 0 1.6-1 .4-1 3.6-2 1.4 0 1.6-1 .4 0 1.6-1 .4 0 1.6-1 .4 0 1.6-1.4 1.4 4.4 4.6 7.6 9.4 10.4 7 18 8.6 5 1.4 11 1.6 14 6 5.6 1 13-.6 4-1 4-2 5-4 3-1.4 4 0 3.4 1.4 14.6 15.6 14.4 12.4 28.6 32 8.4 13 4.6 4.6 8.4 4.4 7 2 7 3.6 17 15 18.6 10 6.4 5 4.6 2 5 1 6 0 10.4-2.6 7.6-3.4 4-3 5.4-7 5.6-5.6 4-2.4 5.4-1.6 11.6 .6 8-1 15.4-8 7 0 12.6 4.4 5 1 9 4 3 2.6 6 3 4 1 14-.6 12.4-1.4 5.6 0 10.4 2 5.6 0 3-1.6zM216.2 271.8l1-1 3.6 0 1.4 1 1.6 2.4-.6 2.6-2 1.4-3.4-1.4-2-3.6z" fill="#75b3d4"/>
<path d="M514.8 359.8l-2 1.4-1 2.6 .4 10 4.6 4.4 2.4 .6 3-.6 1.6-1 1.4-3.4-2-7-2.4-4-2.6-2.6zM247.8 276.8l-2.6 5-.4 6.4 3.4 10 8 10.6 14.6 14.4 5.4 7.6 2.6 2 1 2 12 13 10 14 5 5 7 4 4.4 1 8.6 4 17 14.4 10 4 13 0 3.4 1.6 2.6 3 4.4 3.4 7.6 2.6 9-.6 4.4-1.4 4.6-4.6 1-3.4-.6-6-4.4-7.6-3-3-1-2-8.6-7-5.4-2-2.6-2.4-1.4-.6-6.6-7-13-10-9-8.4-9.4-20-4-6-3-3-.6-1.6-6-7.4-8-8-11-9.6-12-8.4-6.4-6-7.6-4.6-4-1-8.4 0-3.6 1-11 7zM149.2 211.2l-1 1 0 1.6-1 .4 0 1.6-1 .4 0 1.6-2 1.4 0 1.6-1 .4 0 1.6-1 .4-1 3.6-2 1.4 0 1.6-1 .4-1 3.6-2 1.4 0 1.6-1 .4 0 1.6-1 .4-1 3.6-2 1.4 0 1.6-1 .4 0 1.6-1 .4 0 2 7.6 10.6 1 2.4 4.4 6.6 12 9 7.6 4 6 1.4 14-.4 2.4 .4 10.6 5.6 3 1 5 0 1-1-.6-4.6-3.4-8-4.6-8-6.4-9-9-19.4-10.6-14.6-1-2.4-4.4-6.6-4.6-4-3-1.4-3.4-1zM527.2 103.8l-3 1-2.4 3.4-7 17-5 5.6-1.6 .4-5.4 5-3 4-3.6 8-.4 14.6 3 15.4 0 13.6 2 10.4 0 6-1.6 9.6-3.4 12.4 0 11 2 5.6 3 4 4 3 15 7 5 4.4 3 4 3 9 .4 7.6 1 4 0 12.4-2.4 14 1.4 6.6 2 2.4 5 2.6 7 1.4 8.6 0 5-2 2.4-2.4 1.6-3.6 0-3-4-13-3.6-21.4-4-8-4.4-5.6-3-5-.6-6.4 1-3.6 3.6-5.4 2.4-2.6 3.6-7.4 1-6-.6-8.6-3.4-10-3.6-6-2-6 0-9 1.6-7 0-10-2.6-7-2-16-3-11-.4-4.4 .4-10.6 .6-.4-.6-16-1-3-4-4-3.4-1z" fill="#4b98c6"/>
<path d="M538.8 278.8l-2 1.4-.6 4 3.6 6 2.4 2 3-2 0-5.4-2-4-1.4-1.6zM259.8 275.2l-4 5-2 8 .4 5 2.6 7.6 7.4 10.4 6.6 6.6 5.4 7.4 3.6 3.6 .4 1.4 19 22 4 6 5 5 2.6 1 1.4 1.6 7.6 2.4 8 4 12 11.6 3.4 2.4 4 1.6 6.6 0 3-1.6 2.4-3.4 3-10 .6-6-1-3.6-3-5-5.6-5.4-8.4-5.6-3.6-4.4-1.4-3.6-1-6-4.6-12.4-11.4-16.6-17-16-11-8-2.6-1-2.4-2.4-8.6-5-6.4-1.6-6.6 .6-5 2zM164.2 256.8l-3 2-1.4 2-1.6 4 0 2.4 1 3 3 3.6 5 .4 3.6-2.4 1-2 0-4-2-5-3-3zM142.8 223.8l-1.6 1.4 0 1.6-2 1.4 0 1.6-1 .4 0 1.6-1 .4-.4 2 1 5 3 5.6 2.4 2.4 4 1.6 13 0 2-1 1-3.6 0-6.4-1-4-4.4-8-3-2.6-3.6-1.4-4 0zM516.2 143.2l-3.4 1.6-3.6 3.4-3 7.6 0 5.4 2.6 10 0 6.6-2.6 12.4 .6 19.6-.6 .4-.4 10.6-1.6 7.4 0 10 3.6 6 7.4 5.6 10 3.4 4.6 0 4.4-2.4 9-11 3-7 0-7.6-6.4-19.4-.6-10.6-.4-.4 0-10-4-15 0-6-1-7-3-6.6-5-5.4-3.6-1.6z" fill="#3580b9"/>
<path d="M264.8 280.2l-2.6 4.6-.4 2.4 0 7.6 3 9 4 6 6.4 7.4 .6 1.6 11.4 13.4 13.6 17.6 7.4 8.4 4.6 3 6.4 2.6 3.6 .4 7.4 3.6 5 5.4 2.6 4 4.4 4.6 3.6 1.4 5-.4 3.4-4 .6-1.6 .4-8-1-3.4-4.4-6-8-5-5.6-6.6-5.4-23-4.6-8.4-2.4-2.6-1-2.4-2.6-2.6-2.4-4-4-4.4-9.6-8.6-19.4-12.4-6-2.6-6.6-.4-3.4 1zM521.8 186.8l-4 2.4-2 2.6-3 8 0 19.4 .4 .6-.4 9.4 1 5 3 5 4.4 2.6 4.6 0 5.4-3 3.6-4.6 1.4-4.4 .6-6-2.6-19.6-3.4-12-3.6-4.4-2-1z" fill="#2368ad"/>
<path d="M342.8 369.8l-.6 4.4 2.6 3 1 0 1.4-2 0-3-2-2.4zM272.8 284.8l-3 3-1.6 5 .6 5.4 3.4 8.6 8 11.4 12 14 8 11 10 11 7.6 4 8.4-.4 3-3.6 .6-2 0-9-2-11-3-8-10-15.4-12-12.6-12.6-8-9.4-4-4-.4z" fill="#144c88"/>
<path d="M278.2 292.2l-1.4 1.6-1 3 .4 4.4 4 9 5 7 10 10.6 9.6 13.4 8 9 3.4 1.6 4 0 2-1 1.6-3 0-8.6-1.6-7-4-8-11-16.4-6.4-7-5.6-4-10.4-4.6-2.6-.4z" fill="#053061"/></g>
<use href="#land"/>
<use href="#ctA"/>
</g>
<path d="M236.5 69L205.5 86.9M214.3 78.4L205.5 86.9L217.2 83.5M222.5 92.7L201.6 108.3M207.2 101.4L201.6 108.3L209.8 104.9M208.5 116.5L193.8 132.2M197.4 125.8L193.8 132.2L200 128.2M194.5 140.3L182.4 157M185 150.5L182.4 157L187.8 152.5M180.5 164.1L177.4 177.9M177.3 173.1L177.4 177.9L179.5 173.6M166.5 187.9L173.7 200.7M170.2 197.1L173.7 200.7L172.4 195.9M152.5 211.7L170.4 230.6M162.9 225.8L170.4 230.6L166.1 222.9M138.5 235.4L154.1 288.1M144.6 272L154.1 288.1L153.3 269.5M124.5 259.2L128.4 296M124.1 284.2L128.4 296L130.1 283.5M110.5 283L106.7 300.4M106.5 294.4L106.7 300.4L109.4 295M96.4 306.8L94.6 319.9M94.1 315.5L94.6 319.9L96.3 315.8M261.2 81.1L225.2 100.5M235.5 91.1L225.2 100.5L238.7 97.1M247.2 104.9L230.5 117.9M234.9 112.2L230.5 117.9L237.1 115M233.2 128.6L216 141.9M220.6 136.1L216 141.9L222.7 138.9M219.2 152.4L206.5 167.5M209.4 161.5L206.5 167.5L211.9 163.6M205.2 176.1L195.9 192.4M197.6 186.3L195.9 192.4L200.3 187.8M191.2 199.9L192.4 218.8M190.4 212.6L192.4 218.8L193.5 212.4M177.2 223.7L193.9 250.4M186.2 242.9L193.9 250.4L190.6 240.2M163.2 247.4L178.2 268.6M171.5 262.8L178.2 268.6L175 260.4M149.2 271.2L166.1 280.9M159.7 279.1L166.1 280.9L161.3 276.3M135.2 295L136.4 302.5M135.4 300.1L136.4 302.5L136.6 299.9M121.2 318.7L113.7 316.6M116.3 316.7L113.7 316.6L116 317.9M93.3 366.3L93.9 381.1M92.5 376.3L93.9 381.1L94.9 376.2M79.3 390L83.6 407.7M80.7 402.2L83.6 407.7L83.6 401.5M285.7 93.6L235.2 116.9M249.9 105L235.2 116.9L253.8 113.4M271.7 117.4L256.7 131M260.5 125.3L256.7 131L262.8 127.8M257.7 141.1L238.6 148.8M244.2 144.7L238.6 148.8L245.5 147.9M243.7 164.8L229.3 172.9M233.4 169.1L229.3 172.9L234.7 171.4M229.7 188.6L223.5 201.1M224.5 196.5L223.5 201.1L226.6 197.5M215.8 212.3L219.1 227.2M216.8 222.5L219.1 227.2L219.2 222M201.8 236L216.3 250.6M210.3 247L216.3 250.6L212.7 244.6M187.8 259.8L202.5 269.2M196.9 267.3L202.5 269.2L198.4 264.9M173.8 283.5L197.4 295.9M188.6 293.7L197.4 295.9L190.7 289.8M159.8 307.2L162.9 311.7M161.5 310.5L162.9 311.7L162.2 310M145.9 331L135.1 336.9M138.2 334L135.1 336.9L139.1 335.8M131.9 354.7L113.6 383.4M117.3 372.4L113.6 383.4L122 375.5M117.9 378.5L108.4 418.5M108.2 404.5L108.4 418.5L114.8 406M103.9 402.2L104.9 430.2M102.2 421L104.9 430.2L106.9 420.9M310 106.5L288.7 119.7M294.6 113.6L288.7 119.7L296.8 117.1M296 130.2L279.3 142.3M283.8 136.9L279.3 142.3L285.8 139.7M282 153.9L262 165.7M267.6 160.1L262 165.7L269.6 163.4M268.1 177.6L254.2 187.7M257.9 183.2L254.2 187.7L259.6 185.5M254.1 201.3L257.2 212.1M255.3 208.8L257.2 212.1L257.1 208.3M240.1 225L268.3 228.7M258.7 229.8L268.3 228.7L259.3 225.2M226.2 248.8L249.5 250.2M241.7 251.6L249.5 250.2L241.9 247.8M212.2 272.5L231.4 275.6M224.8 276.1L231.4 275.6L225.3 273M198.2 296.2L214.8 303M208.8 302.1L214.8 303L209.9 299.4M184.2 319.9L186.9 323M185.8 322.2L186.9 323L186.3 321.7M170.3 343.6L155.3 345M160.1 343.3L155.3 345L160.4 345.8M156.3 367.4L133.7 371.4M140.8 368.2L133.7 371.4L141.5 371.9M142.3 391.1L139.1 417.9M137.9 408.8L139.1 417.9L142.4 409.3M128.4 414.8L130.5 444.6M127.3 435L130.5 444.6L132.3 434.6M334.1 119.6L314.6 132.6M320 126.7L314.6 132.6L322.1 129.9M320.2 143.3L303.3 157.1M307.8 151.2L303.3 157.1L310 153.9M306.2 167L285.3 175M291.5 170.6L285.3 175L292.8 174.1M292.2 190.7L281.8 201.9M284.3 197.4L281.8 201.9L286.1 199.1M278.3 214.4L280.6 232.7M278.3 226.9L280.6 232.7L281.3 226.5M264.3 238.1L270.8 263M266.6 255.3L270.8 263L270.7 254.3M250.4 261.8L259.1 287.8M254 280L259.1 287.8L258.3 278.5M236.4 285.5L261.7 299.9M252.2 297.2L261.7 299.9L254.5 293.1M222.4 309.3L235.6 313.7M230.9 313.3L235.6 313.7L231.6 311.1M208.5 333L201.3 339.2M203.1 336.5L201.3 339.2L204.2 337.7M194.5 356.7L175.9 364.7M181.4 360.5L175.9 364.7L182.7 363.6M180.5 380.4L160.7 380.8M167.2 379L160.7 380.8L167.3 382.3M166.6 404.1L161.2 410.7M162.4 408.1L161.2 410.7L163.5 409M152.6 427.8L154.4 446.5M152.3 440.5L154.4 446.5L155.4 440.2M372.1 109.4L351.7 123.4M357.3 117.1L351.7 123.4L359.6 120.4M358.1 133.1L345.7 149.6M348.4 143.1L345.7 149.6L351.2 145.2M344.1 156.8L333.5 169.8M335.9 164.6L333.5 169.8L338.1 166.4M330.2 180.5L310 186.4M316.2 182.8L310 186.4L317.2 186.1M316.2 204.2L301.5 212.7M305.7 208.7L301.5 212.7L307.1 211.1M302.3 227.9L298.6 245.3M298.4 239.3L298.6 245.3L301.2 239.9M288.3 251.6L287.7 276.5M285.8 268.3L287.7 276.5L289.9 268.4M274.3 275.3L288.4 312.2M280.7 301.2L288.4 312.2L286.8 298.9M260.4 299L280.8 328.3M271.7 320.3L280.8 328.3L276.5 316.9M246.4 322.7L253.5 329.2M250.6 327.6L253.5 329.2L251.7 326.4M232.5 346.4L219.4 348.6M223.5 346.8L219.4 348.6L223.9 349M218.5 370.1L202.2 369.6M207.7 368.4L202.2 369.6L207.6 371.1M204.6 393.8L187.1 398.1M192.5 395.2L187.1 398.1L193.2 398.1M190.6 417.5L184.8 420.2M186.5 418.8L184.8 420.2L187 419.8M409.8 99.5L396.9 106.9M400.5 103.4L396.9 106.9L401.7 105.5M395.8 123.2L382.8 132.5M386.3 128.3L382.8 132.5L387.9 130.5M381.9 146.9L369.7 158.9M372.7 153.9L369.7 158.9L374.7 155.9M367.9 170.6L359.4 188.7M360.7 182L359.4 188.7L363.7 183.4M354 194.3L338.6 198.5M343.3 195.9L338.6 198.5L344 198.4M340 218L327 219.2M331.2 217.7L327 219.2L331.4 219.9M326.1 241.7L319.9 250.8M321.1 247.3L319.9 250.8L322.7 248.3M312.1 265.4L314.7 295.7M311.3 285.9L314.7 295.7L316.4 285.5M298.1 289.1L312.6 323.1M305 313.1L312.6 323.1L310.6 310.7M284.2 312.8L310.9 364.7M297.8 349.8L310.9 364.7L306.3 345.4M270.2 336.4L273.8 350.9M271.4 346.4L273.8 350.9L273.8 345.8M256.3 360.1L259.9 365.8M258.2 364.2L259.9 365.8L259.2 363.6M242.3 383.8L223.9 373.2M230.8 375.2L223.9 373.2L229.1 378.2M228.4 407.5L228.8 414.9M228 412.5L228.8 414.9L229.2 412.4M433.4 113.6L423.8 116.2M426.7 114.6L423.8 116.2L427.2 116.2M419.4 137.3L407.3 141.2M411 138.9L407.3 141.2L411.7 140.9M405.5 161L392.5 167.6M396.2 164.4L392.5 167.6L397.3 166.5M391.5 184.7L380.5 197.8M383 192.5L380.5 197.8L385.2 194.4M377.6 208.4L356.5 226.2M362 218.6L356.5 226.2L364.9 222.1M363.6 232.1L346.9 254.3M350.6 245.6L346.9 254.3L354.2 248.3M349.7 255.8L338.2 277.5M340.2 269.4L338.2 277.5L343.8 271.3M335.7 279.5L333.2 299.9M332.3 293L333.2 299.9L335.7 293.4M321.7 303.2L336.8 326.7M329.9 320.2L336.8 326.7L333.8 317.7M307.8 326.9L342.8 369.3M327.8 358.2L342.8 369.3L334.8 352.4M293.8 350.6L304.4 369.4M299.4 364.1L304.4 369.4L302.5 362.3M279.9 374.3L270.6 376.4M273.5 374.9L270.6 376.4L273.8 376.5M484.7 80.6L478.5 70M481.5 73L478.5 70L479.7 74M470.8 104.3L461.6 97.3M465.2 98.8L461.6 97.3L464 100.3M456.8 128L449.1 125.4M451.9 125.6L449.1 125.4L451.4 126.9M442.9 151.7L431.7 150.1M435.5 149.7L431.7 150.1L435.2 151.5M428.9 175.4L417.6 177.5M421.2 175.9L417.6 177.5L421.5 177.8M414.9 199.1L402 204.2M405.8 201.5L402 204.2L406.7 203.6M401 222.8L386.6 231.7M390.6 227.6L386.6 231.7L392 230M387 246.5L374.1 253.2M377.8 249.9L374.1 253.2L378.9 252.1M373 270.3L373.1 283.6M372 279.2L373.1 283.6L374.2 279.2M359.1 294L364 309.3M361.1 304.7L364 309.3L363.7 303.8M345.1 317.7L365.9 338.9M357.3 333.6L365.9 338.9L360.8 330.2M331.2 341.4L361 366.9M349 360.9L361 366.9L353.2 356M317.2 365.1L334.6 381.9M327.5 377.8L334.6 381.9L330.3 374.9M303.2 388.8L305.3 394.6M304.1 392.9L305.3 394.6L305.1 392.5M521.9 71.6L519.4 54.6M521.6 60L519.4 54.6L518.8 60.4M508 95.3L504.7 78.8M507.2 84L504.7 78.8L504.4 84.5M494 119L487 103.3M490.6 107.9L487 103.3L488 109.1M480 142.8L471.4 130.6M475.3 133.9L471.4 130.6L473.3 135.3M466.1 166.5L453.9 159.2M458.5 160.6L453.9 159.2L457.3 162.6M452.1 190.2L439.2 185.1M443.9 185.7L439.2 185.1L443.1 187.8M438.1 213.9L427.8 215M431.1 213.8L427.8 215L431.3 215.5M424.2 237.6L413.8 240.7M416.9 238.9L413.8 240.7L417.5 240.6M410.2 261.3L401.3 266.2M403.8 263.8L401.3 266.2L404.6 265.3M396.2 285L400.8 293.7M398.6 291.2L400.8 293.7L400 290.5M382.3 308.8L396.9 318.6M391.2 316.5L396.9 318.6L392.9 314.1M368.3 332.5L414.8 356.9M397.4 352.7L414.8 356.9L401.5 345M354.3 356.2L404.4 382.4M385.7 377.9L404.4 382.4L390.1 369.6M340.3 379.9L368.7 395.9M358 393L368.7 395.9L360.7 388.3M531 110.3L528 87.1M530.9 94.5L528 87.1L527.1 95M517.1 134.1L510.7 107.4M515 115.7L510.7 107.4L510.6 116.7M503.1 157.8L496.9 138.6M500.5 144.4L496.9 138.6L497.4 145.5M489.1 181.5L477.9 162M483.2 167.5L477.9 162L480 169.3M475.1 205.2L465 189.6M469.6 194L465 189.6L467 195.6M461.1 229L453.5 218.8M456.9 221.5L453.5 218.8L455.2 222.8M447.2 252.7L440.5 247M443.2 248.3L440.5 247L442.3 249.4M433.2 276.4L430.3 275.6M431.3 275.6L430.3 275.6L431.2 276.1M419.2 300.2L429.1 304.6M425.5 303.9L429.1 304.6L426.2 302.3M405.2 323.9L426.8 332.2M419 331.3L426.8 332.2L420.4 327.7M391.2 347.6L431.5 362.3M417 360.8L431.5 362.3L419.4 354.2M377.3 371.4L424.4 390.8M407.2 388.2L424.4 390.8L410.4 380.5M363.3 395.1L391.3 406.5M381.1 405L391.3 406.5L383 400.4M539.9 149.4L538.9 122.9M541.4 131.6L538.9 122.9L537.1 131.7M525.9 173.1L520.6 141.3M525 151.4L520.6 141.3L519.7 152.3M511.9 196.9L504.1 160.8M509.6 172.1L504.1 160.8L503.7 173.4M497.9 220.6L494.7 199.6M497.5 206.2L494.7 199.6L494 206.8M483.9 244.4L481 223M483.8 229.8L481 223L480.2 230.3M469.9 268.1L466.4 248.2M469.2 254.5L466.4 248.2L465.9 255M455.9 291.9L460 284.4M459.3 287.2L460 284.4L458.1 286.5M442 315.6L458.1 314.7M452.8 316.3L458.1 314.7L452.7 313.7M428 339.4L454.1 339.9M445.5 341.9L454.1 339.9L445.6 337.6M414 363.1L446.3 364M435.6 366.4L446.3 364L435.7 361.1M400 386.9L430.4 393.3M419.8 393.7L430.4 393.3L420.9 388.7M386 410.6L403.4 414.6M397.3 414.7L403.4 414.6L398 411.8M548.5 188.7L546.6 158.3M549.8 168.2L546.6 158.3L544.8 168.5M534.5 212.5L531.4 173.8M535.6 186.3L531.4 173.8L529.2 186.8M520.5 236.3L516.2 193M521.2 207L516.2 193L514.1 207.7M506.5 260L495.5 230.9M501.6 239.6L495.5 230.9L496.8 241.4M492.5 283.8L484.7 263.5M488.9 269.6L484.7 263.5L485.6 270.9M478.5 307.6L483.2 295.4M482.7 299.8L483.2 295.4L480.7 299M464.5 331.4L487.2 330.4M479.8 332.6L487.2 330.4L479.6 328.9M450.5 355.1L477.9 353.3M469 356.2L477.9 353.3L468.7 351.6M436.5 378.9L462.3 377M453.9 379.8L462.3 377L453.6 375.5M422.4 402.7L444.6 403M437.3 404.7L444.6 403L437.3 401.1M556.9 228.5L544.5 209.4M550.2 214.7L544.5 209.4L547 216.7M542.9 252.2L530.2 221.6M536.9 230.7L530.2 221.6L531.9 232.8M528.9 276L516.6 247.1M523.1 255.7L516.6 247.1L518.3 257.7M514.9 299.8L511.3 282.3M513.9 287.8L511.3 282.3L511 288.4M500.8 323.6L511.5 305.3M509.5 312.2L511.5 305.3L506.5 310.5M486.8 347.5L510.9 340.2M503.5 344.6L510.9 340.2L502.3 340.6M472.8 371.3L499.5 370.2M490.8 372.8L499.5 370.2L490.6 368.3M458.7 395.1L479 394.2M472.4 396.1L479 394.2L472.2 392.8M444.7 418.9L464.1 418M457.8 419.9L464.1 418L457.6 416.7M565.1 268.5L558.1 240.3M562.7 249L558.1 240.3L558.1 250.2M551 292.3L550 255.9M553.3 267.8L550 255.9L547.3 268M537 316.2L544 290.2M543.8 299.4L544 290.2L539.6 298.2M522.9 340L536.5 314.6M534.1 324.1L536.5 314.6L530 321.9M508.9 363.9L528.3 345.3M523.4 353L528.3 345.3L520.4 349.8M494.8 387.7L516.6 378.1M510.2 383.1L516.6 378.1L508.6 379.5M480.7 411.5L499.5 406.2M493.7 409.5L499.5 406.2L492.9 406.4M573 308.9L568.5 279.4M572.4 288.8L568.5 279.4L567.5 289.5M558.9 332.8L557.4 297M560.9 308.7L557.4 297L554.9 308.9M544.8 356.7L548.6 332M549.4 340.4L548.6 332L545.3 339.8M530.7 380.6L535.5 364.4M535.2 370.1L535.5 364.4L532.6 369.3M516.6 404.4L526.5 392.1M524.2 397L526.5 392.1L522.2 395.4M580.5 349.8L602 333.3M596.3 340.5L602 333.3L593.6 336.9M566.4 373.7L578.8 364.1M575.5 368.3L578.8 364.1L573.9 366.2M552.3 397.6L561.2 381.3M559.6 387.4L561.2 381.3L556.9 386M219 438.5L259 439M245.8 442.1L259 439L245.8 435.5" fill="none" stroke="#0d0d0d" stroke-width="1.12" stroke-linejoin="miter" stroke-miterlimit="10"/>
<use href="#frame"/>
<g><text transform="translate(61.82 357.81) rotate(28.93)" text-anchor="end" font-size="27.5" dy="9.9">70<tspan dy="-10.2" font-size="21.4">o</tspan><tspan dy="10.2">N</tspan></text>
<text transform="translate(91.43 304.23) rotate(28.93)" text-anchor="end" font-size="27.5" dy="9.9">72<tspan dy="-10.2" font-size="21.4">o</tspan><tspan dy="10.2">N</tspan></text>
<text transform="translate(121.00 250.73) rotate(28.93)" text-anchor="end" font-size="27.5" dy="9.9">74<tspan dy="-10.2" font-size="21.4">o</tspan><tspan dy="10.2">N</tspan></text>
<text transform="translate(150.56 197.25) rotate(28.93)" text-anchor="end" font-size="27.5" dy="9.9">76<tspan dy="-10.2" font-size="21.4">o</tspan><tspan dy="10.2">N</tspan></text>
<text transform="translate(180.14 143.73) rotate(28.93)" text-anchor="end" font-size="27.5" dy="9.9">78<tspan dy="-10.2" font-size="21.4">o</tspan><tspan dy="10.2">N</tspan></text>
<text transform="translate(209.79 90.08) rotate(28.93)" text-anchor="end" font-size="27.5" dy="9.9">80<tspan dy="-10.2" font-size="21.4">o</tspan><tspan dy="10.2">N</tspan></text>
<text transform="translate(45.60 414.04) rotate(28.93)" text-anchor="middle" font-size="27.5" dy="9.9">180<tspan dy="-10.2" font-size="21.4">o</tspan><tspan dy="10.2">W</tspan></text>
<text transform="translate(172.57 468.31) rotate(17.36)" text-anchor="middle" font-size="27.5" dy="9.9">168<tspan dy="-10.2" font-size="21.4">o</tspan><tspan dy="10.2">W</tspan></text>
<text transform="translate(307.86 496.01) rotate(5.79)" text-anchor="middle" font-size="27.5" dy="9.9">156<tspan dy="-10.2" font-size="21.4">o</tspan><tspan dy="10.2">W</tspan></text>
<text transform="translate(445.94 496.01) rotate(-5.79)" text-anchor="middle" font-size="27.5" dy="9.9">144<tspan dy="-10.2" font-size="21.4">o</tspan><tspan dy="10.2">W</tspan></text>
<text transform="translate(581.23 468.31) rotate(-17.36)" text-anchor="middle" font-size="27.5" dy="9.9">132<tspan dy="-10.2" font-size="21.4">o</tspan><tspan dy="10.2">W</tspan></text>
<text transform="translate(708.20 414.04) rotate(-28.93)" text-anchor="middle" font-size="27.5" dy="9.9">120<tspan dy="-10.2" font-size="21.4">o</tspan><tspan dy="10.2">W</tspan></text></g>
<g><path d="M290.2 422.8L351 431.8M332 424.4L351 431.8L330.2 434.6" fill="none" stroke="#000" stroke-width="2" stroke-linejoin="miter"/>
<text transform="translate(273.3 450.4) rotate(7.6)" font-size="22.5">5 cm s<tspan dy="-9.5" font-size="17.5">-1</tspan></text></g>
<text x="383.5" y="36.1" text-anchor="middle" font-size="42.6">EXP1<tspan dx="3">−</tspan><tspan dx="3.5">CTRL</tspan></text>
<text x="39.5" y="69.5" font-size="43">(c)</text>
</g>
<g transform="translate(818.3 575.2)">
<g clip-path="url(#fan)">
<g clip-path="url(#dmask)"><rect x="0" y="0" width="760" height="500" fill="#f9f0ea"/>
<path d="M393.2 391.2l-3.4 2-1 4.6 1 2.4 1.4 1.6 2 1 2 0 3.6-2 1-2 0-2.6-2-3.4zM297.2 259.2l-5.4 5.6-1 3.4 0 5.6 2.4 8 8 16 7 10 11 10.4 8.6 4.6 8-.6 5.4-5 1.6-2.4 1-3.6 0-6.4-2-4.6-6-6-3-4.4-1-3.6-.6-11-4.4-11-5-5-4.6-2.4-4-1-9 .4zM172.2 170.2l-1 1 0 1.6-1 .4 0 1.6-1 .4 0 1.6-1 .4 0 1.6-2 1.4 0 1.6-1 .4-1 3.6-2 1.4 0 1.6-1 .4 0 1.6-1 .4-1 3.6-2 1.4 0 1.6-1 .4-1 3.6-2 1.4 0 1.6-1 .4 0 1.6-1 .4-1 3.6-2 1.4 0 1.6-1 .4-1 3.6-2 1.4 0 1.6-1 .4 0 1.6-1 .4-1 3.6-2 1.4 0 1.6-1 .4-1 3.6-2 1.4 0 1.6-1 .4 0 1.6-1 .4-1 3.6-2 1.4 0 1.6-1 .4-1 3.6-2 1.4-1 3.6 4.6 2 5.4 5 4 5.4 4 8 2.6 3.6 9.4 8.4 7 7.6 15 11.4 7.6 4.6 9.4 2.4 17 6 7.6 0 13-4.4 11 0 2.4-1 4.6-4 2-4 1.4-6.6 0-10-2.4-9-4-7.4-4.6-3-4-1-17 0-9-2-5-2.6-7.4-2-7-3-4.6-3.4-4-4.6-3.4-8 0-5.4 2.4-5 5-4.6 3-1 4.6-.4 4 1 6 0 2-1 4.4-5 1-2.6 0-4.4-3-4.6-12-7.4-14-13.6-8.4-11zM418.2 98.2l-4.4 2-5 5.6-4 7 0 11-3.6 14 0 7.4 2 9-1 4.6-2 3.4-1.4 5-1 13-2 9.6 .4 23.4-1 5-3 7-1.4 7 0 19.6-.6 .4-.4 12.6 2 7 4.4 3.4 14.6 2.6 11 3 5 0 6.4-2.6 4.6-3 5.4-5.4 3-4.6 4.6-10.4 0-6-3-9.6-2-10.4-.6-6.6 1-5 0-9.4-4.4-14-5.6-9.6-4-9.4-1.4-7 0-6.6 1-5 3-8-.6-29.4-3.4-8-5.6-9-3-3z" fill="#fce1d1"/>
<path d="M303.2 264.8l-5.4 5-1 2 .4 10 4.6 12.4 5.4 8 8.6 8 9.4 5 6.6-.4 3-3.6 .4-5.4-1-3.6-5-10-1.4-5-1-7.4-3.6-7.6-6-6.4-2.4-1.6-8.6-.4zM414.8 205.8l-1.6 0-2 2.4-3.4 10-3 4-3.6 7.6-1.4 7.4 0 5.6-.6 .4 .6 15 1 2 3 3 3 1 7 0 8.4-2.4 5.6-4.6 2-3 1.4-5 0-10.4-1.4-5.6-3-6-4-5.4-4-12.6-1-1.4zM166.2 180.2l0 1.6-1 .4-1 3.6-2 1.4 0 1.6-1 .4 0 1.6-1 .4-1 3.6-2 1.4 0 1.6-1 .4-1 3.6-2 1.4 0 1.6-1 .4 0 1.6-1 .4-1 3.6-2 1.4 0 1.6-1 .4-1 3.6-2 1.4 0 1.6-1 .4 0 1.6-1 .4-1 3.6-2 1.4 0 1.6-1 .4-1 3.6-2 1.4 0 1.6-1 .4 0 1.6-1 .4 0 1.6-1 .4-.4 2 2.4 1 5 4.6 4 6.4 5.6 13 4.4 6.6 4 3.4 4.6 2.6 11 9.4 5 2.6 4.4 3 3 3 7 4.4 8 3.6 11 3 11.6 0 4.4-1 12-.6 5.6-2 3-3.4 .4-2 0-10-1.4-5-4-6-6-3.6-11.6-1.4-6.4-2-2 0-20-7.6-8-5-8.6-9.4-4-8-.4-2.6 .4-5.4 3.6-6.6 11.4-10.4 .6-5.6-4.6-8-19.4-23.4z" fill="#facab1"/>
<path d="M306.2 273.2l-3 3.6-1.4 3.4 0 7 3 7.6 5 6 7 5 4.4 1.4 4.6-1 1.4-3.4-.4-6.6-3-11.4-2-5-3.6-4.6-4.4-3-4-.4zM162.2 187.2l0 1.6-1 .4 0 1.6-1 .4-1 3.6-2 1.4 0 1.6-1 .4-1 3.6-2 1.4 0 1.6-1 .4 0 1.6-1 .4-1 3.6-2 1.4 0 1.6-1 .4-1 3.6-2 1.4 0 1.6-1 .4 0 1.6-1 .4-1 3.6-2 1.4 .6 1 6 3 6 5.6 1.4 2.4 .6 4-2 7.6 0 6 1 4.4 2.4 5 5.6 6 14.4 9 7 3 8.6 6 3 3 8 4.6 10.4 3 8 1 15 0 3-1 3.6-4 0-5-2-4.6-2.6-3-3-2-6.4-2.4-10.6-2-1.4-1-9-2.6-14-6.4-9.6-9-11-14-3.4-7 0-5 2-5 8-12 1-6-1-4-3.6-6-4-5z" fill="#f5ae8d"/>
<path d="M308.2 279.8l-3 4.4 0 5.6 2 4 4.6 4.4 3.4 1.6 4 0 2-2.6 .6-4.4-3-9.6-1.6-2-3-2zM162.2 250.8l-2 2-1 3.4 .6 6 1.4 3 4.6 4.6 7.4 3.4 7 .6 2-1 .6-4.6-5-10-6-6-5-2.4-2.6 0zM162.2 201.2l-4-1.4-3 .4 0 1.6-2 1.4 0 1.6-1 .4 0 1.6-1 .4-1 3.6-2 1.4 0 1.6-1 .4-.4 2 6 2.6 5.4 0 2.6-1 4-3 2.4-3 .6-4.6-.6-1.4z" fill="#e98c6e"/>
<path d="M311.2 285.2l-2 2 0 3 3 3 2 0 1.6-1.4 0-3.6-2.6-3z" fill="#d96753"/>
<path d="M129.2 338.2l-5 2-4 4-1.4 3.6 0 6.4 1.4 4 13 15.6 3 1.4 4.6 0 2-1 4-4 1-3 0-6.4-1-4-8-15-3.6-3zM234.2 59.2l0 1.6-1 .4 0 1.6-1 .4-1 3.6-2 1.4 0 1.6-1 .4-1 3.6-2 1.4 0 1.6-1 .4 0 1.6-1 .4-1 3.6-2 1.4 0 1.6-1 .4-1 3.6-2 1.4 0 1.6-1 .4 0 1.6-1 .4-1 3.6-2 1.4 0 1.6-1 .4-1 3.6-2 1.4 0 1.6-1 .4 0 1.6-1 .4-1 3.6-2 1.4 0 1.6-1 .4-1 3.6-2 1.4 0 1.6-1 .4 0 1.6-1 .4-1 3.6-2 1.4 0 1.6-1 .4-1 3.6-2 1.4 0 1.6-1 .4 0 1.6-1 .4-1 3.6-2 1.4 0 1.6-1 .4 .6 19 1 4 3 5.6 11.4 12 6 4.4 9 5 6.6 5.6 2 2.4 1.4 4.6-.4 8-1 2.4-4.6 5-3.4 2.6-4.6 2-4 1-3.4 0-3.6-1-7 0-2.4 1-2.6 2-2 3.4-.4 2 .4 4 3 5.6 4.6 4 6 3 7 1.4 8 3 5 1 7.4 0 17.6-3.4 6 .4 2 2 2.4 6 3.6 20 0 9-1.6 10-5 14 0 6 1 3 6.6 9.6 6 11 3.4 3.4 14 9.6 9 9.4 8 11.6 4.6 10 1 0 .4 1 7.6 0 1-1 0-1.6 1-.4 .4 1 1.6 0 .4 1 1.6 0 .4 1 3.6 1 1.4 2 1.6 0 .4 1 1.6 0 .4 1 1.6 0 .4 1 7.6 0 .4 4 1 1 1.6 0 1.4 2 3-.6 2-2 .6-2 1.4-1.4 3-5.6 4.6-5 11.4-7.4 9-4.6 8-2 14 .6 4 1 7.6 3.4 4.4 3.6 3.6 4.4 1.4 4.6 .6 10 1 4.4 2.4 5.6 3 4 3.6 8 .4 2.4-.4 4.6 2-1 1-3.6 2-1.4 0-1.6 1-.4 0-1.6 2-1.4 0-1.6 3-.4 1.4 2 1.6 0 1.4 2 3.6 1 1.4 2 1.6 0 1.4 2 3.6 1 1.4 2 1.6 0 1.4 2 1.6 0 1.4 2 1.6 0 .4 1 8.6 0 .4-2 1 1 6.6 0 1.4-3 1 1 6.6 0 1.4-2 7.6 0 1.4-2 1.6 0 1.4 2 1.6 0 .4 1-2 1.4 0 1.6-2 1.4 0 3 5.6-1 11-6.4 4.4-1 2-2 1 1 6.6 0 1-1 0-1.6 2-1.4 0-1.6 2-1.4 0-1.6 2-1.4 0-1.6 2-1.4 0-1.6 2-1.4 .4-2 3.6 1 1.4 2 1.6 0 .4 1 7.6 0 0-1.6 3-2.4 0-1.6 2-1.4 0-1.6 2-1.4 0-1.6 2-1.4 0-1.6 2-1.4 0-1.6 2-1.4 0-1.6 2.4-2.4 1 1 6.6 0 2-2 0-1.6 1-.4 0-7.6-2-1.4 0-1.6 2-1.4 0-1.6 3-2.4 0-1.6 2-1.4 0-1.6 2-1.4 0-1.6 2-1.4 0-7.6-1-1-1.6 0-1.4-2-1.6 0-2.4-2.4 0-1.6 2-1.4 0-1.6 2-1.4 0-6.6-3-1.4 0-8.6-2-.4 1-3.6 2-1.4 0-1.6 2-1.4 0-1.6 2-1.4 0-8.6-1.6 0-1.4-2-1.6 0-1.4-2-2-.4 0-1.6 1-.4 1-3.6 2-1.4 0-6.6-3.6-1-1.4-2-1.6 0-2.4-2.4 0-7.6-1-1-1.6 0-1.4-2-1.6 0-1.4-2-2-.4 1-1 0-6.6-1.6 0-1.4-1.4 0-2.6 2-1.4 0-1.6 1-.4 0-7.6-3-1.4 1-1 0-6.6-1.6 0-1.4-1.4 0-7.6-3-1.4 0-1.6 1-.4 1-3.6 2-1.4 0-6.6-1.6 0-1.4-2-1.6 0-.4-1-1.6 0-1.4-2-2-.4 1-1 0-6.6-1.6 0-1.4-1.4 0-2.6 1-.4 0-1.6 2-1.4 0-7.6-1.6 0-1.4-1.4 0-1.6 1-.4 1-3.6 2-1.4 1-3.6 2-1.4 0-6.6-1.6 0-2.4-2.4 2-2 0-1.6 1-.4 0-1.6 1-.4 0-6.6-1.6 0-.4-1-2-.4 1-1 0-6.6-1-1-1.6 0-1.4-1.4 0-7.6-1.6 0-1.4-1.4 1-1 0-1.6 1-.4 0-9.6-1-.4 0-1.6-1.6 0-1.4-2-6.6 0-.4-4-1.6 0-.4-1-2-.4 0-7.6-1-1-1.6 0-1.4-2-1.6 0-.4-1-1.6 0-.4-1-2-.4 0-1.6 1-.4 1-3.6 2-1.4 0-8.6-2-1.4 0-1.6-1-.4-1-3.6-2-1.4 0-1.6-1-.4 0-1.6-1-.4-1-3.6-2-1.4-1-3.6-3.6-1-8 .6-28 11.4 0 1.6-1 .4 0 1.6-1.4 1.4-1-1-6.6 0-1.4 3-1.6 0-.4-1-6.6 0-1.4 3-3.6-1-1.4 4.6 0 4.4 1 2.6 3 3.4 1 0 1.4 1.6 1 2.4-2.4 16 .4 11.6 2 5 3 3 13 21.4 3.6 9.6 .4 7-1.4 4-7 9-1 15.4-4.6 9-2 2.6-5 12-.4 29.4-3.6 9.6-2.4 4.4-1.6 6-2.4 4.6-3 4-11 8-7.6 3-8.4 1.4-17 0-23.6-9-9.4-2.4-3-2.6 0-3 2-6.4 4.4-9 2.6-3.6 4-9.4 .4-10 .6-.6 0-12.4 .4-2.6 2.6-4.4 2.4-9.6 0-8.4-1.4-6-1.6-14.6-3.4-11-4-8.4-1-6.6 .4-10.4-5-14.6 0-5.4 3-14.6 1.6-14-1-1-1.6 0-.4-1-1.6 0-.4-1-1.6 0-.4-1-6.6 0 0 1.6-1 .4-.4 2-1-1-1.6 0-.4-1-1.6 0-.4-1-1.6 0-.4-1-7.6 0 0 1.6-1.4 1.4-1.6 0-.4-1-1.6 0-.4-1-1.6 0-.4-1-1.6 0-.4-1-6.6 0 0 1.6-1 .4 0 1.6-1 .4-.4-1-1.6 0-.4-1-1.6 0-.4-1-1.6 0-.4-1-1.6 0-.4-1-1.6 0-.4-1-2.6 0-.4-1-1.6 0-.4-1-1.6 0-.4-1-1.6 0-.4-1-1.6 0-.4-1-1.6 0-.4-1-2.6 0-.4-1-6.6 0-1.4 3-2.6 0-.4-1-1.6 0-.4-1-1.6 0-.4-1-2.6 0-.4-1-1.6 0-.4-1-1.6 0-.4-1-1.6 0-.4-1-2.6 0-.4-1-1.6 0-.4-1-1.6 0-.4-1-4-1.4 0-5.6-1-1-1.6 0-.4-1-2.6 0-.4-1-1.6 0-.4-1-1.6 0-.4-1-1.6 0-.4-1-1.6 0-.4-1-1.6 0-.4-1-1.6 0-.4-1-1.6 0-.4-1-1.6 0-.4-1-3.6-1-1.4-2-6.6 0zM288.8 254.8l5.4-3 12.6-4 9.4-.6 5.6 1.6 7.4 4.4 6 6.6 4.6 9 2.4 13 3 3.4 2.6 1 11 1 3.4 1 1.6 1.6 0 4-1.6 4.4-5.4 11-2 6-3 4.6-6.6 6.4-7 4-3.4 .6-5-1-7-3-6-4-8-8.6-13.6-22.4-4-5.6-5.4-11-1.6-4.4-.4-8 1-3.6zM317.8 110.2l5.4 1 3.6 4.6-.6 7.4-1.4 3-2.6 2.6-2.4 1-2 0-4-2-2.6-2.6-1.4-4 0-3 2-5 1.4-1.4z" fill="#edf2f5"/>
<path d="M366.8 178.8l-6 0-3.6 1-5 3-3.4 4-2 8 .4 8.4 1.6 8 0 6.6-1.6 3-4.4 4.4-9.6 6.6-2.4 3 0 4 1 2.4 8 10.6 9 8.4 3.4 2.6 4.6 1.4 5.4-.4 4.6-2 7.4-6.6 3.6-8.4 2-18 3.4-8.6 1-5.4-.4-9-1.6-6-4-10.6-4.4-6.4-3-2.6zM539.8 106.2l-1.6 0-1.4-2-1.6 0-.4-1-1.6 0-.4-1-6 1-6.6 0-11-5-3.4 0-4 2.6-2.6 4-2 7.4-.4 18.6 4 17.4 3.4 8.6 11 11 2.6 6.4 .4 3.6-1 4-3.4 3.4-13 5-5 4.6-3 4.4-6 13-3 4.6-4 11-2 18-3.6 18-2.4 8-3 5.4-1.6 4.6-.4 3.4-2.6 7-1.4 10.6-3.6 5.4-4.4 2.6-30 .4-7.6 1-6 2-10 2-8.4-.4-10.6-3-6 .4-5 3-3 3.6-4 6.4-9.4 8-8.6 4.6-7.4 0-9.6-3-8.4-4.6-5-3.4-6.6-6.6-4.4-7-6.6-13.4-8.4-12.6-1.6-1-2-3.4-2.4-2.6-6.6-12.4-4-5-2.4-1-2.6 0-4.4 3.4-2 4-1 4 .4 23-2.4 21.6 1.4 8.4 3.6 7 5 8 3 3.6 13.4 10 8 9.4 10 9.6 17.6 10.4 7.4 3 4.6 0 4.4-2 7.6-8 11.4-6 12.6-4.4 6.4-1 10 0 12 2 2.6 1 15.4 2 11 4 6 3.4 2.6 2.6 4.4 8.4 2 2 8.6 5 6.4 5.6 6 3.4 9.6 2 12 5 4.4 0 11-4 7.6 0 11.4 2.6 8-.6 4-2 7-6 8.6-8.4 5-7.6 4.4-8 2.6-8 2-10.4 4.4-7 7-7.6 3-6-.4-20.4-2-10 .4-17-1.4-8.6 0-5.4 1-5.6 1-2 0-3-1.6 0-1.4-1.4 0-2.6 2-1.4 0-1.6 1-.4 0-7.6-3-1.4 1-1 0-6.6-1.6 0-1.4-1.4 0-7.6-3-1.4 0-1.6 1-.4 1-3.6 2-1.4 0-6.6-1.6 0-1.4-2-1.6 0-.4-1-1.6 0-1.4-2-2-.4 1-1 0-6.6-1.6 0-1.4-1.4 0-2.6 1-.4 0-1.6 2-1.4 0-7.6-1.6 0-1.4-1.4 0-1.6 1-.4 1-3.6 2-1.4 1-3.6 2-1.4 0-6.6-1.6 0-2.4-2.4 2-2 0-1.6 1-.4 0-1.6 1-.4 0-6.6-1.6 0-.4-1-2-.4 1-1 0-6.6-1-1-1.6 0-1.4-1.4 0-7.6-1.6 0-1.4-1.4 1-1 0-1.6 1-.4 0-9.6-1-.4 0-1.6-1.6 0-1.4-2-6.6 0-.4-.4 0-3.6-1.6 0-.4-1-2-.4 0-7.6zM284.8 87.2l-3.6-1.4-3 0-1.4 .4-2.6 2.6-2.4 6.4-.6 11.6-3.4 7.4-9 8.6-6 4-12.6 12.4-4.4 2-4.6 0-12-4.4-4.4 0-10 4-4 3.4-2.6 4.6-2 5-1.4 6.4 0 8.6 2 5.4 3.4 4.6 6 5 2 2.4 7.6 5 9.4 4 5 3 5.6 6 1 3.6 0 6.4-1.6 5.6-3.4 7-5 5.4-3 2-9.6 3.6-5 1-6-.6-5.4-1.4-5 .4-1.6 1-2.4 3.6 .4 4.4 3.6 4.6 3.4 2 6 2 7.6 1 5 2 7 .4 12.4-4 8-3.4 9-6 4-1.6 7.6 .6 8 3.4 7.4 0 20-4 8.6-4 5.4-4 2.6-1 4-4 1-3.4-.6-9-1.4-5-2-3.6-5-4.4-11.6-6-19.4-21-2-4.6-.6-4 1-4 2-3.4 3.6-3 5-2.6 5-1 5-2 3.4-3 1-3-.4-7-3-6-1.6-5-4-8-7-7.4-1.4-3 .4-4.6 3-6 .6-5-2-5z" fill="#d9e9f1"/>
<path d="M554.8 303.2l-4.6-5.4-5-2.6-13-4-7 0-10.4 2.6-14 .4-7.6 1.6-4.4 2-4 3-3 4.4-2.6 6.6-4 7.4-4.4 4.6-4.6 2-6 .4-25-5-15 0-19 4-8 2.6-4 2-4 3.4-5 8.6-1 3 0 5.4 3 3.6 2.6 1.4 1.4 0 5.6 2.6 9.4 2 9.6 .4 11 2 8.4 0 6-1.4 7.6 0 23.4 12.4 14 14 6.6 4 8.4 2 13 1.6 12-.6 7-3 5-4 5-5.4 4.6-7 1.4-5 0-15.6 7-14.4 1.6-12 2.4-8 .6-12zM268.8 276.2l-2.6 5 0 4.6-2.4 19 0 13.4 1 4.6 4 8 5.4 7.4 4.6 4.6 11 8 5.4 5.4 4 5.6 6 5.4 7.6 4 7.4 1.6 5.6-.6 8.4-3.4 8-5 3.6-4.6 0-3-2-3-9-8-22-13-5.6-5.4-3.4-5.6-5-14-4-8-4-5.4-17-17-3-1zM194.8 243.2l0 2 2.4 2 3.6 0 1.4-1-.4-1.4-4-2zM260.2 207.8l-1.4 4.4 0 5.6 1.4 5 3 4 4 3.4 8.6 4.6 8 1.4 7 0 5-1 2.4-1 4.6-3.4 4-6 .4-8-3-5-9-7.6-8.4-4.4-9.6-2.6-3.4 .6-5.6 2.4zM369.2 196.2l-5.4 .6-3 2-4 5-4.6 17-5.4 9.4-1.6 1.6-2 5 0 4.4 2 4.6 4.6 4.4 7.4 3 4 .6 5-1.6 4-3.4 4-9.6 2-10.4 2.6-6.6 1-5.4 0-5-1.6-6-3-5-4.4-4zM208.2 159.8l-1.4 4.4 .4 5 1 2.6 5.6 7 3.4 3 3 1.4 8 2 5 .6 6-.6 6-2.4 5-6.6 1-3.4 0-8.6-1-1-13.4-3-10.6-5-5-1-4 0-4 1-2.4 1.6zM266.2 146.2l-2-.4-4 3-1.4 3.4 .4 2.6 3.6 0 4.4-4 .6-1.6zM557.2 146.2l-3-1.4-6.4-1-10-3-1.6 0-3.4 3.4-1.6 4.6-1 27.4-2 10.6-1.4 2.4-4 4-10.6 7-4.4 4.6-12 16.4-2.6 6-1 4.6 0 15.4-2.4 9 0 4 1.4 2 3.6 .6 10.4-6 8.6-.6 15 3.6 3 2.4 3.4 5 2.6 2 4.4 .6 3-1.6 2-2 2-7.4 2.6-5 5.4-5.6 2.6-1.4 3.4-4 3-8-1.4-1 0-1.6 1-.4 0-1.6 1-.4 0-1.6 1-1 .4-7-1 0-1.4-2-3.6-1-1.4-2-2-.4 1-1 0-6.6-1.6 0-1.4-1.4 0-2.6 1-.4 0-1.6 2-1.4 0-7.6-1.6 0-1.4-1.4 0-1.6 1-.4 1-3.6 2-1.4 1-3.6 2-1.4 0-6.6-1.6 0-2.4-2.4 2-2 0-1.6 1-.4 .4-2-.4-.6 .4-2-.4-4-3-1.4 1-1 0-5.6z" fill="#bddbea"/>
<path d="M404.2 340.8l.6 2 4 2.4 16 3 8.4 0 5.6-1 5-2 2.4-2.4 0-2.6-3.4-4-4.6-2-7.4-2-10.6 0-4 1-8 3.6zM501.2 312.8l-3 4.4 0 4.6 3 8.4-.4 4-17 16.6-1 2 0 3 1.4 3.4 6 6 13.6 10 7 3.6 2.4 .4 6.6-.4 2.4-1 4.6-4 3-6.6 0-5.4-2-8.6 0-5 1.4-7.4-.4-2.6-2.6-4-3.4-2-3.6-1-3-3-1.4-7.4-4.6-5.6-5.4-3zM272.8 288.2l-3 4.6-2 9.4 .4 15 4 8.6 8.6 9 1.4 .4 3 3 9 6 15 16.6 3.6 2 4.4 1 4.6-.6 3.4-2 2.6-2.4 1-2.6 0-3-1.6-3.4-5.4-5-11.6-5.6-6-5-4-6.4-4.4-20.6-2.6-6-2.4-3.4-5.6-5.6-5.4-3.4-2.6-1zM278.2 212.8l-1 2 0 4 1.6 3 5.4 4.4 7 .6 3-1.6 3-4 0-4.4-1.4-3-2.6-2.6-3.4-2-6-.4-2.6 1zM369.8 206.8l-5 .4-4.6 4-3 5.6-2 7-2.4 5-1.6 7.4 .6 3.6 2 3.4 4.4 2.6 3.6 0 5-3.6 4.4-8 3-8.4 1-5-.4-8.6-1.6-3zM542.2 203.2l-4-1.4-4.4 0-5 1.4-6 4-4.6 5-2.4 4.6-3 9 .4 5 1.6 3 2.4 2.4 3 1.6 4 .4 6-1 8.6-2.4 7-5 4.4-8 .6-5.6-1-3.4-2.6-4.6zM222.2 167.8l-1.4 2.4 2 3.6 3.4 1 3-2 0-3-1.4-1.6-2-1z" fill="#9ccae1"/>
<path d="M277.2 294.2l-3.4 3-1.6 3.6-.4 3.4 .4 9 2.6 5.6 2.4 3.4 6.6 3.6 4 0 3-2 2-5 .4-7-1-5.6-2-5-4.4-4.4-4-2zM367.2 215.8l-3 .4-4 4.6-1 3-.4 6 2 4.4 2.4 0 2-1 2.6-2.4 2.4-4.6 .6-6-1.6-3.4z" fill="#75b3d4"/>
<path d="M280.2 300.8l-3 4.4 .6 5 3.4 4.6 4 0 1.6-1.6 1.4-3.4-.4-5.6-3-3z" fill="#4b98c6"/></g>
<use href="#land"/>
<use href="#ctB"/>
</g>
<path d="M236.5 69L239.3 78.1M237.6 75.3L239.3 78.1L239.1 74.9M222.5 92.7L226.1 101.1M224.2 98.6L226.1 101.1L225.6 98M208.5 116.5L209.2 122M208.5 120.2L209.2 122L209.4 120.1M194.5 140.3L190.7 143.3M191.7 142L190.7 143.3L192.2 142.7M180.5 164.1L171.2 159.6M174.6 160.3L171.2 159.6L173.9 161.9M166.5 187.9L155.3 178.3M159.8 180.5L155.3 178.3L158.2 182.4M152.5 211.7L146.2 202.9M149 205.3L146.2 202.9L147.6 206.3M138.5 235.4L134 231.7M135.8 232.6L134 231.7L135.2 233.3M124.5 259.2L122.6 257.7M123.4 258L122.6 257.7L123.1 258.3M110.5 283L111.7 283.1M111.3 283.2L111.7 283.1L111.3 282.9M96.4 306.8L97.6 309.5M97 308.7L97.6 309.5L97.5 308.5M261.2 81.1L263.3 91.1M261.8 88L263.3 91.1L263.4 87.6M247.2 104.9L251.6 112.5M249.5 110.4L251.6 112.5L250.7 109.6M233.2 128.6L234.7 136.2M233.6 133.8L234.7 136.2L234.8 133.6M219.2 152.4L220 163.2M218.8 159.7L220 163.2L220.6 159.6M205.2 176.1L198.4 179.2M200.4 177.6L198.4 179.2L200.9 178.7M191.2 199.9L183.9 197.4M186.5 197.6L183.9 197.4L186.1 198.8M177.2 223.7L179.2 229.7M178 227.9L179.2 229.7L179.1 227.6M163.2 247.4L155.6 228.5M159.7 234.1L155.6 228.5L156.6 235.4M149.2 271.2L140 264.4M143.6 265.8L140 264.4L142.5 267.4M135.2 295L136.5 301.5M135.5 299.5L136.5 301.5L136.6 299.2M121.2 318.7L123.1 320M122.4 319.7L123.1 320L122.6 319.4M93.3 366.3L94.3 367.2M93.8 367L94.3 367.2L94 366.8M79.3 390L80.1 391M79.8 390.7L80.1 391L79.9 390.6M285.7 93.6L289.4 102.3M287.5 99.7L289.4 102.3L288.9 99.1M271.7 117.4L275.3 127.5M273.2 124.5L275.3 127.5L274.9 123.9M257.7 141.1L254.1 148.7M254.7 145.9L254.1 148.7L255.9 146.5M243.7 164.8L244.5 172.5M243.6 170L244.5 172.5L244.9 169.9M229.7 188.6L231.7 193.6M230.6 192.1L231.7 193.6L231.5 191.8M215.8 212.3L209.3 213.1M211.3 212.3L209.3 213.1L211.5 213.4M201.8 236L205.1 238.1M203.8 237.7L205.1 238.1L204.2 237.2M187.8 259.8L174.4 255.7M179.2 255.9L174.4 255.7L178.5 258.2M173.8 283.5L158.4 281M163.7 280.6L158.4 281L163.3 283.1M159.8 307.2L156.6 308.5M157.5 307.8L156.6 308.5L157.8 308.4M145.9 331L147.8 331.8M147.1 331.7L147.8 331.8L147.2 331.4M131.9 354.7L133.3 355.6M132.7 355.4L133.3 355.6L132.9 355.2M117.9 378.5L118.9 379.4M118.5 379.2L118.9 379.4L118.6 379M103.9 402.2L104.8 403.1M104.4 402.9L104.8 403.1L104.5 402.7M310 106.5L314.4 117.1M312 114L314.4 117.1L313.8 113.3M296 130.2L298.8 140.3M297 137.2L298.8 140.3L298.7 136.7M282 153.9L276.2 162.2M277.5 159L276.2 162.2L278.8 159.9M268.1 177.6L270.4 189.5M268.7 185.8L270.4 189.5L270.6 185.4M254.1 201.3L257.8 211.3M255.8 208.3L257.8 211.3L257.4 207.7M240.1 225L256.4 218.6M251.5 222.1L256.4 218.6L250.5 219.4M226.2 248.8L221.5 258.6M222.2 255L221.5 258.6L223.9 255.8M212.2 272.5L195.3 271M201 270.1L195.3 271L200.8 272.8M198.2 296.2L178.9 287.3M186 288.6L178.9 287.3L184.5 291.8M184.2 319.9L182.8 318.8M183.4 319L182.8 318.8L183.2 319.3M170.3 343.6L172.2 344.2M171.5 344.2L172.2 344.2L171.6 343.8M156.3 367.4L157.7 367.8M157.2 367.8L157.7 367.8L157.3 367.5M142.3 391.1L143.3 391.7M143 391.6L143.3 391.7L143.1 391.4M128.4 414.8L129.2 415.5M128.9 415.3L129.2 415.5L129 415.2M334.1 119.6L337.1 127.1M335.5 124.9L337.1 127.1L336.7 124.4M320.2 143.3L323.2 152.4M321.4 149.6L323.2 152.4L322.9 149.1M306.2 167L303 172.7M303.6 170.5L303 172.7L304.5 171.1M292.2 190.7L296.2 202.9M293.9 199.2L296.2 202.9L295.9 198.6M278.3 214.4L285.4 231.5M281.6 226.4L285.4 231.5L284.4 225.3M264.3 238.1L254.5 254.7M256.4 248.4L254.5 254.7L259.1 250M250.4 261.8L232.2 281.2M236.6 273.3L232.2 281.2L239.8 276.3M236.4 285.5L218.5 288.2M224.2 285.8L218.5 288.2L224.6 288.8M222.4 309.3L208.9 309.4M213.3 308.2L208.9 309.4L213.4 310.5M194.5 356.7L196.4 357.1M195.7 357.1L196.4 357.1L195.8 356.8M180.5 380.4L182.1 380.7M181.5 380.8L182.1 380.7L181.6 380.5M166.6 404.1L167.6 404.6M167.2 404.5L167.6 404.6L167.3 404.3M152.6 427.8L153.5 428.4M153.1 428.3L153.5 428.4L153.2 428.1M372.1 109.4L375.7 118.1M373.8 115.5L375.7 118.1L375.2 114.9M358.1 133.1L361.9 140.8M360 138.6L361.9 140.8L361.3 137.9M344.1 156.8L350.5 164.5M347.8 162.5L350.5 164.5L349 161.4M330.2 180.5L328.4 184.4M328.6 183L328.4 184.4L329.3 183.3M316.2 204.2L319.3 212.1M317.6 209.8L319.3 212.1L319 209.3M302.3 227.9L303 241.7M301.6 237.2L303 241.7L303.9 237.1M288.3 251.6L271.9 260.5M276.5 256.2L271.9 260.5L278 258.9M274.3 275.3L267.5 294.9M268.1 287.9L267.5 294.9L271.4 289M260.4 299L250.4 306M253.1 302.9L250.4 306L254.3 304.5M246.4 322.7L239.5 327.2M241.4 325.1L239.5 327.2L242.1 326.3M232.5 346.4L233.2 346.5M233 346.5L233.2 346.5L233 346.4M218.5 370.1L220.2 370.5M219.6 370.5L220.2 370.5L219.7 370.2M204.6 393.8L206.1 394.3M205.5 394.2L206.1 394.3L205.6 394M190.6 417.5L191.8 418M191.4 417.9L191.8 418L191.5 417.7M409.8 99.5L412.3 107.6M410.8 105.1L412.3 107.6L412.1 104.7M395.8 123.2L398.5 134.3M396.7 130.9L398.5 134.3L398.5 130.4M381.9 146.9L385.3 157.5M383.3 154.3L385.3 157.5L385 153.7M367.9 170.6L374.7 183.6M371.4 179.9L374.7 183.6L373.5 178.7M354 194.3L353.9 200M353.4 198.1L353.9 200L354.4 198.1M340 218L342 218.1M341.4 218.2L342 218.1L341.4 217.9M326.1 241.7L324.4 245.2M324.7 243.9L324.4 245.2L325.3 244.1M312.1 265.4L303.3 266.3M306.2 265.2L303.3 266.3L306.3 266.7M298.1 289.1L287.4 289.2M290.9 288.3L287.4 289.2L290.9 290M284.2 312.8L279.4 330.6M279.5 324.3L279.4 330.6L282.4 325.1M270.2 336.4L268.8 346.1M268.5 342.8L268.8 346.1L270.1 343M256.3 360.1L257.8 361.9M257.1 361.5L257.8 361.9L257.4 361.2M242.3 383.8L244.2 384.3M243.5 384.3L244.2 384.3L243.6 384M228.4 407.5L229.9 408M229.4 407.9L229.9 408L229.4 407.7M433.4 113.6L433.2 119.9M432.7 117.8L433.2 119.9L433.8 117.9M419.4 137.3L420.1 149.7M418.9 145.7L420.1 149.7L420.9 145.5M405.5 161L405.6 175.7M404.3 170.9L405.6 175.7L406.8 170.8M391.5 184.7L393 202M391.1 196.4L393 202L394 196.2M377.6 208.4L367.7 227.6M369.4 220.4L367.7 227.6L372.5 222.1M363.6 232.1L354.3 255M355.5 246.7L354.3 255L359.2 248.2M349.7 255.8L341.9 273.4M343 266.9L341.9 273.4L345.9 268.2M335.7 279.5L325.8 288M328.3 284.4L325.8 288L329.7 286M321.7 303.2L311.7 296.8M315.5 298.1L311.7 296.8L314.5 299.7M307.8 326.9L309.5 333.3M308.4 331.3L309.5 333.3L309.5 331M293.8 350.6L297.2 356.4M295.6 354.8L297.2 356.4L296.6 354.2M279.9 374.3L281.8 374.6M281.1 374.7L281.8 374.6L281.2 374.3M484.7 80.6L481.6 81.3M482.6 80.8L481.6 81.3L482.7 81.3M470.8 104.3L467.9 107.7M468.6 106.3L467.9 107.7L469.1 106.8M456.8 128L454.7 134M454.9 131.9L454.7 134L455.9 132.2M442.9 151.7L440.9 159.8M440.9 157L440.9 159.8L442.2 157.3M428.9 175.4L428.6 188.9M427.6 184.4L428.6 188.9L429.8 184.5M414.9 199.1L412.3 214.7M411.9 209.4L412.3 214.7L414.5 209.8M401 222.8L396.5 239.4M396.6 233.6L396.5 239.4L399.3 234.3M387 246.5L379.8 257.9M381.2 253.6L379.8 257.9L383.1 254.8M373 270.3L371.8 284M371.1 279.4L371.8 284L373.3 279.6M359.1 294L352.9 304.5M354.1 300.5L352.9 304.5L355.8 301.5M345.1 317.7L341.3 326M341.9 322.9L341.3 326L343.2 323.5M331.2 341.4L334.4 343M333.2 342.7L334.4 343L333.5 342.2M317.2 365.1L322.6 375.1M320 372.2L322.6 375.1L321.6 371.3M303.2 388.8L307.5 393.6M305.7 392.4L307.5 393.6L306.5 391.7M521.9 71.6L519.6 67.7M520.7 68.8L519.6 67.7L520 69.2M508 95.3L504.3 92.5M505.8 93.1L504.3 92.5L505.3 93.7M494 119L490.5 117.8M491.7 117.9L490.5 117.8L491.5 118.5M480 142.8L476.5 144.2M477.5 143.4L476.5 144.2L477.8 144M466.1 166.5L463.2 171.5M463.7 169.6L463.2 171.5L464.6 170.1M452.1 190.2L447.6 199.1M448.3 195.8L447.6 199.1L449.8 196.6M438.1 213.9L436.3 227.4M435.8 222.8L436.3 227.4L438 223.1M424.2 237.6L420.6 251.3M420.6 246.5L420.6 251.3L422.9 247.1M410.2 261.3L406.7 273.3M406.9 269.1L406.7 273.3L408.8 269.6M396.2 285L395.4 296.1M394.8 292.4L395.4 296.1L396.6 292.5M382.3 308.8L384 316.3M382.8 313.9L384 316.3L384.1 313.7M368.3 332.5L373.4 335.7M371.4 335.1L373.4 335.7L371.9 334.2M354.3 356.2L361.5 356.4M359.1 356.9L361.5 356.4L359.2 355.7M340.3 379.9L345.8 383.6M343.7 382.8L345.8 383.6L344.3 381.9M531 110.3L530 102.9M530.9 105.3L530 102.9L529.7 105.4M517.1 134.1L513.8 127.3M515.4 129.3L513.8 127.3L514.3 129.8M503.1 157.8L501.2 154.4M502.1 155.4L501.2 154.4L501.6 155.7M489.1 181.5L485.6 179.6M486.9 180L485.6 179.6L486.6 180.5M475.1 205.2L474.3 207M474.4 206.4L474.3 207L474.7 206.5M461.1 229L461.8 233.7M461.2 232.2L461.8 233.7L462 232.1M447.2 252.7L447.1 259.7M446.6 257.4L447.1 259.7L447.7 257.4M433.2 276.4L433.3 285.6M432.5 282.6L433.3 285.6L434 282.6M419.2 300.2L425 308.4M422.4 306.2L425 308.4L423.8 305.2M405.2 323.9L416.4 328.5M412.3 327.9L416.4 328.5L413.1 326M391.2 347.6L404.1 348.5M399.8 349.3L404.1 348.5L399.9 347.2M377.3 371.4L378.3 365.9M378.4 367.8L378.3 365.9L377.5 367.6M363.3 395.1L366.1 393.5M365.3 394.3L366.1 393.5L365.1 393.8M539.9 149.4L540.6 137.2M541.4 141.3L540.6 137.2L539.4 141.2M525.9 173.1L525.4 160.9M526.6 164.9L525.4 160.9L524.6 165M511.9 196.9L508.3 184.8M510.5 188.5L508.3 184.8L508.5 189.1M497.9 220.6L500.4 222.1M499.5 221.8L500.4 222.1L499.7 221.4M483.9 244.4L478.9 248.1M480.2 246.5L478.9 248.1L480.9 247.3M469.9 268.1L469.3 262.3M470 264.2L469.3 262.3L469 264.3M455.9 291.9L461.1 296M459 295.1L461.1 296L459.7 294.2M442 315.6L453.5 323M449.1 321.5L453.5 323L450.3 319.6M428 339.4L442.5 345.5M437.2 344.7L442.5 345.5L438.2 342.3M414 363.1L425.4 365.6M421.4 365.7L425.4 365.6L421.9 363.8M400 386.9L404.8 385.8M403.3 386.6L404.8 385.8L403.1 385.8M386 410.6L389.5 408.7M388.5 409.6L389.5 408.7L388.2 409.1M548.5 188.7L547.4 174.5M549 179.1L547.4 174.5L546.6 179.3M534.5 212.5L534.5 195.2M535.9 200.9L534.5 195.2L533.1 200.9M520.5 236.3L526.7 226.2M525.5 230L526.7 226.2L523.8 229M506.5 260L504.9 254.2M505.9 256L504.9 254.2L505 256.3M492.5 283.8L489.2 275.7M491 278.1L489.2 275.7L489.6 278.7M478.5 307.6L483.2 307.6M481.6 308L483.2 307.6L481.6 307.2M464.5 331.4L478.5 337.8M473.3 336.8L478.5 337.8L474.4 334.5M450.5 355.1L463.1 362.2M458.3 360.9L463.1 362.2L459.5 358.8M436.5 378.9L445.8 385M442.2 383.8L445.8 385L443.2 382.2M422.4 402.7L428.8 404.7M426.5 404.6L428.8 404.7L426.8 403.5M556.9 228.5L553 218.7M555.1 221.6L553 218.7L553.5 222.2M542.9 252.2L544.3 242.2M544.7 245.6L544.3 242.2L543 245.4M528.9 276L528.8 266.6M529.6 269.7L528.8 266.6L528.1 269.7M514.9 299.8L513.8 288.6M515 292.2L513.8 288.6L513.2 292.4M500.8 323.6L509.9 317.1M507.5 320L509.9 317.1L506.4 318.5M486.8 347.5L500.9 346.5M496.3 348L500.9 346.5L496.2 345.7M472.8 371.3L486.3 375.5M481.5 375.2L486.3 375.5L482.2 373M458.7 395.1L468.5 400.6M464.8 399.6L468.5 400.6L465.7 398M444.7 418.9L453.8 422.9M450.4 422.3L453.8 422.9L451.1 420.8M565.1 268.5L566.7 256.1M567.2 260.4L566.7 256.1L565.1 260.1M551 292.3L552.7 279.4M553.2 283.8L552.7 279.4L551.1 283.5M537 316.2L540.6 305.1M540.3 309.1L540.6 305.1L538.5 308.5M522.9 340L532.4 330.7M530 334.5L532.4 330.7L528.5 333M508.9 363.9L519.6 357.5M516.6 360.5L519.6 357.5L515.5 358.7M494.8 387.7L505.7 387.3M502.2 388.3L505.7 387.3L502.1 386.5M480.7 411.5L490.4 414.2M487 414.2L490.4 414.2L487.4 412.6M573 308.9L574 298M574.5 301.7L574 298L572.7 301.5M558.9 332.8L561.9 324.5M561.6 327.5L561.9 324.5L560.2 327M544.8 356.7L552.4 350.7M550.4 353.3L552.4 350.7L549.4 352M530.7 380.6L539.3 377M536.8 378.9L539.3 377L536.2 377.5M516.6 404.4L524.7 403.7M522.1 404.6L524.7 403.7L521.9 403.3M580.5 349.8L583.9 343.1M583.4 345.6L583.9 343.1L582.3 345M566.4 373.7L572 369.4M570.5 371.3L572 369.4L569.8 370.3M552.3 397.6L559.5 395.3M557.3 396.6L559.5 395.3L556.9 395.5" fill="none" stroke="#0d0d0d" stroke-width="1.12" stroke-linejoin="miter" stroke-miterlimit="10"/>
<use href="#frame"/>
<g><text transform="translate(61.82 357.81) rotate(28.93)" text-anchor="end" font-size="27.5" dy="9.9">70<tspan dy="-10.2" font-size="21.4">o</tspan><tspan dy="10.2">N</tspan></text>
<text transform="translate(91.43 304.23) rotate(28.93)" text-anchor="end" font-size="27.5" dy="9.9">72<tspan dy="-10.2" font-size="21.4">o</tspan><tspan dy="10.2">N</tspan></text>
<text transform="translate(121.00 250.73) rotate(28.93)" text-anchor="end" font-size="27.5" dy="9.9">74<tspan dy="-10.2" font-size="21.4">o</tspan><tspan dy="10.2">N</tspan></text>
<text transform="translate(150.56 197.25) rotate(28.93)" text-anchor="end" font-size="27.5" dy="9.9">76<tspan dy="-10.2" font-size="21.4">o</tspan><tspan dy="10.2">N</tspan></text>
<text transform="translate(180.14 143.73) rotate(28.93)" text-anchor="end" font-size="27.5" dy="9.9">78<tspan dy="-10.2" font-size="21.4">o</tspan><tspan dy="10.2">N</tspan></text>
<text transform="translate(209.79 90.08) rotate(28.93)" text-anchor="end" font-size="27.5" dy="9.9">80<tspan dy="-10.2" font-size="21.4">o</tspan><tspan dy="10.2">N</tspan></text>
<text transform="translate(45.60 414.04) rotate(28.93)" text-anchor="middle" font-size="27.5" dy="9.9">180<tspan dy="-10.2" font-size="21.4">o</tspan><tspan dy="10.2">W</tspan></text>
<text transform="translate(172.57 468.31) rotate(17.36)" text-anchor="middle" font-size="27.5" dy="9.9">168<tspan dy="-10.2" font-size="21.4">o</tspan><tspan dy="10.2">W</tspan></text>
<text transform="translate(307.86 496.01) rotate(5.79)" text-anchor="middle" font-size="27.5" dy="9.9">156<tspan dy="-10.2" font-size="21.4">o</tspan><tspan dy="10.2">W</tspan></text>
<text transform="translate(445.94 496.01) rotate(-5.79)" text-anchor="middle" font-size="27.5" dy="9.9">144<tspan dy="-10.2" font-size="21.4">o</tspan><tspan dy="10.2">W</tspan></text>
<text transform="translate(581.23 468.31) rotate(-17.36)" text-anchor="middle" font-size="27.5" dy="9.9">132<tspan dy="-10.2" font-size="21.4">o</tspan><tspan dy="10.2">W</tspan></text>
<text transform="translate(708.20 414.04) rotate(-28.93)" text-anchor="middle" font-size="27.5" dy="9.9">120<tspan dy="-10.2" font-size="21.4">o</tspan><tspan dy="10.2">W</tspan></text></g>
<g><path d="M290.2 422.8L351 431.8M332 424.4L351 431.8L330.2 434.6" fill="none" stroke="#000" stroke-width="2" stroke-linejoin="miter"/>
<text transform="translate(273.3 450.4) rotate(7.6)" font-size="22.5">5 cm s<tspan dy="-9.5" font-size="17.5">-1</tspan></text></g>
<text x="382.6" y="36.1" text-anchor="middle" font-size="42.6">EXP2<tspan dx="3">−</tspan><tspan dx="3.5">CTRL</tspan></text>
<text x="35.5" y="69.5" font-size="43">(d)</text>
</g>
<rect x="1592.2" y="428.45" width="31" height="18.45" fill="#fee5d9"/>
<rect x="1592.2" y="410.40" width="31" height="18.45" fill="#fdd8c7"/>
<rect x="1592.2" y="392.35" width="31" height="18.45" fill="#fdcab6"/>
<rect x="1592.2" y="374.30" width="31" height="18.45" fill="#fcbda4"/>
<rect x="1592.2" y="356.25" width="31" height="18.45" fill="#fcb095"/>
<rect x="1592.2" y="338.20" width="31" height="18.45" fill="#fca386"/>
<rect x="1592.2" y="320.15" width="31" height="18.45" fill="#fc9677"/>
<rect x="1592.2" y="302.10" width="31" height="18.45" fill="#fc8a6a"/>
<rect x="1592.2" y="284.05" width="31" height="18.45" fill="#fb7d5d"/>
<rect x="1592.2" y="266.00" width="31" height="18.45" fill="#fb7050"/>
<rect x="1592.2" y="247.95" width="31" height="18.45" fill="#f96345"/>
<rect x="1592.2" y="229.90" width="31" height="18.45" fill="#f5543c"/>
<rect x="1592.2" y="211.85" width="31" height="18.45" fill="#f24532"/>
<rect x="1592.2" y="193.80" width="31" height="18.45" fill="#eb372a"/>
<rect x="1592.2" y="175.75" width="31" height="18.45" fill="#e02c26"/>
<rect x="1592.2" y="157.70" width="31" height="18.45" fill="#d42121"/>
<rect x="1592.2" y="139.65" width="31" height="18.45" fill="#c8171c"/>
<rect x="1592.2" y="121.60" width="31" height="18.45" fill="#b90f17"/>
<rect x="1592.2" y="103.55" width="31" height="18.45" fill="#a90812"/>
<rect x="1592.2" y="85.50" width="31" height="18.45" fill="#99000d"/>
<rect x="1592.2" y="85.5" width="31" height="361" fill="none" stroke="#3a3a3a" stroke-width="1"/>
<text x="1633.0" y="457.10" font-size="28.5" style="fill:#262626">0</text>
<text x="1633.0" y="384.90" font-size="28.5" style="fill:#262626">2</text>
<text x="1633.0" y="312.70" font-size="28.5" style="fill:#262626">4</text>
<text x="1633.0" y="240.50" font-size="28.5" style="fill:#262626">6</text>
<text x="1633.0" y="168.30" font-size="28.5" style="fill:#262626">8</text>
<text x="1633.0" y="96.10" font-size="28.5" style="fill:#262626">10</text>
<path d="M1623.2 374.30h-3.6M1623.2 302.10h-3.6M1623.2 229.90h-3.6M1623.2 157.70h-3.6" stroke="#3a3a3a" stroke-width="1" fill="none"/>
<text transform="translate(1705.3 266.8) rotate(-90)" text-anchor="middle" font-size="27.5" style="fill:#262626">Velocity (cm s<tspan dy="-11.5" font-size="22">-1</tspan><tspan dy="11.5">)</tspan></text>
<rect x="1589.6" y="1003.95" width="31" height="18.45" fill="#053061"/>
<rect x="1589.6" y="985.90" width="31" height="18.45" fill="#144c88"/>
<rect x="1589.6" y="967.85" width="31" height="18.45" fill="#2368ad"/>
<rect x="1589.6" y="949.80" width="31" height="18.45" fill="#3580b9"/>
<rect x="1589.6" y="931.75" width="31" height="18.45" fill="#4b98c6"/>
<rect x="1589.6" y="913.70" width="31" height="18.45" fill="#75b3d4"/>
<rect x="1589.6" y="895.65" width="31" height="18.45" fill="#9ccae1"/>
<rect x="1589.6" y="877.60" width="31" height="18.45" fill="#bddbea"/>
<rect x="1589.6" y="859.55" width="31" height="18.45" fill="#d9e9f1"/>
<rect x="1589.6" y="841.50" width="31" height="18.45" fill="#edf2f5"/>
<rect x="1589.6" y="823.45" width="31" height="18.45" fill="#f9f0ea"/>
<rect x="1589.6" y="805.40" width="31" height="18.45" fill="#fce1d1"/>
<rect x="1589.6" y="787.35" width="31" height="18.45" fill="#facab1"/>
<rect x="1589.6" y="769.30" width="31" height="18.45" fill="#f5ae8d"/>
<rect x="1589.6" y="751.25" width="31" height="18.45" fill="#e98c6e"/>
<rect x="1589.6" y="733.20" width="31" height="18.45" fill="#d96753"/>
<rect x="1589.6" y="715.15" width="31" height="18.45" fill="#c7423f"/>
<rect x="1589.6" y="697.10" width="31" height="18.45" fill="#b41c2d"/>
<rect x="1589.6" y="679.05" width="31" height="18.45" fill="#8e0d25"/>
<rect x="1589.6" y="661.00" width="31" height="18.45" fill="#67001f"/>
<rect x="1589.6" y="661.0" width="31" height="361" fill="none" stroke="#3a3a3a" stroke-width="1"/>
<text x="1629.6999999999998" y="1032.60" font-size="28.5" style="fill:#262626">-5</text>
<text x="1629.6999999999998" y="942.35" font-size="28.5" style="fill:#262626">-2.5</text>
<text x="1629.6999999999998" y="852.10" font-size="28.5" style="fill:#262626">0</text>
<text x="1629.6999999999998" y="761.85" font-size="28.5" style="fill:#262626">2.5</text>
<text x="1629.6999999999998" y="671.60" font-size="28.5" style="fill:#262626">5</text>
<path d="M1620.6 931.75h-3.6M1620.6 841.50h-3.6M1620.6 751.25h-3.6" stroke="#3a3a3a" stroke-width="1" fill="none"/>
<text transform="translate(1719.8 842.3) rotate(-90)" text-anchor="middle" font-size="27.5" style="fill:#262626">Velocity difference (cm s<tspan dy="-11.5" font-size="22">-1</tspan><tspan dy="11.5">)</tspan></text>
</svg></body></html>
